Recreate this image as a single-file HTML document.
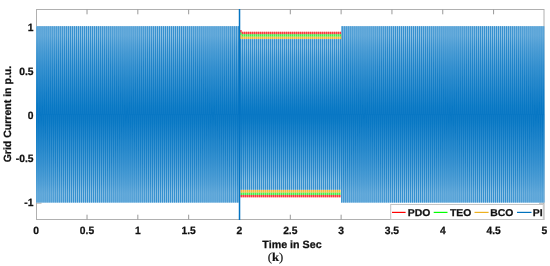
<!DOCTYPE html>
<html><head><meta charset="utf-8"><title>Grid Current</title>
<style>html,body{margin:0;padding:0;background:#fff;overflow:hidden}</style>
</head><body>
<svg width="550" height="266" viewBox="0 0 550 266" style="display:block">
<rect width="550" height="266" fill="#fff"/>
<defs><clipPath id="c"><rect x="36.0" y="9.0" width="508.5" height="211.0"/></clipPath><clipPath id="cl"><rect x="0" y="0" width="239.5" height="266"/></clipPath><clipPath id="cm"><rect x="239.5" y="0" width="101.5" height="266"/></clipPath><clipPath id="cr"><rect x="341.0" y="0" width="209.0" height="266"/></clipPath><linearGradient id="aL" gradientUnits="userSpaceOnUse" x1="0" y1="26.12" x2="0" y2="202.68"><stop offset="0.0000" stop-color="rgb(168,207,234)"/><stop offset="0.0250" stop-color="rgb(168,207,234)"/><stop offset="0.0500" stop-color="rgb(168,207,234)"/><stop offset="0.0750" stop-color="rgb(164,205,233)"/><stop offset="0.1000" stop-color="rgb(160,203,232)"/><stop offset="0.1250" stop-color="rgb(157,201,232)"/><stop offset="0.1500" stop-color="rgb(153,199,231)"/><stop offset="0.1750" stop-color="rgb(150,198,230)"/><stop offset="0.2000" stop-color="rgb(148,196,229)"/><stop offset="0.2250" stop-color="rgb(145,194,229)"/><stop offset="0.2500" stop-color="rgb(142,193,228)"/><stop offset="0.2750" stop-color="rgb(140,192,227)"/><stop offset="0.3000" stop-color="rgb(137,190,227)"/><stop offset="0.3250" stop-color="rgb(135,189,226)"/><stop offset="0.3500" stop-color="rgb(132,188,226)"/><stop offset="0.3750" stop-color="rgb(130,186,225)"/><stop offset="0.4000" stop-color="rgb(128,185,225)"/><stop offset="0.4250" stop-color="rgb(125,184,224)"/><stop offset="0.4500" stop-color="rgb(123,183,223)"/><stop offset="0.4750" stop-color="rgb(123,182,223)"/><stop offset="0.5000" stop-color="rgb(123,182,223)"/><stop offset="0.5250" stop-color="rgb(123,182,223)"/><stop offset="0.5500" stop-color="rgb(123,183,223)"/><stop offset="0.5750" stop-color="rgb(125,184,224)"/><stop offset="0.6000" stop-color="rgb(128,185,225)"/><stop offset="0.6250" stop-color="rgb(130,186,225)"/><stop offset="0.6500" stop-color="rgb(132,188,226)"/><stop offset="0.6750" stop-color="rgb(135,189,226)"/><stop offset="0.7000" stop-color="rgb(137,190,227)"/><stop offset="0.7250" stop-color="rgb(140,192,227)"/><stop offset="0.7500" stop-color="rgb(142,193,228)"/><stop offset="0.7750" stop-color="rgb(145,194,229)"/><stop offset="0.8000" stop-color="rgb(148,196,229)"/><stop offset="0.8250" stop-color="rgb(150,198,230)"/><stop offset="0.8500" stop-color="rgb(153,199,231)"/><stop offset="0.8750" stop-color="rgb(157,201,232)"/><stop offset="0.9000" stop-color="rgb(160,203,232)"/><stop offset="0.9250" stop-color="rgb(164,205,233)"/><stop offset="0.9500" stop-color="rgb(168,207,234)"/><stop offset="0.9750" stop-color="rgb(168,207,234)"/><stop offset="1.0000" stop-color="rgb(168,207,234)"/></linearGradient><linearGradient id="aD" gradientUnits="userSpaceOnUse" x1="0" y1="26.12" x2="0" y2="202.68"><stop offset="0.0000" stop-color="rgb(53,144,207)"/><stop offset="0.0250" stop-color="rgb(53,144,207)"/><stop offset="0.0500" stop-color="rgb(53,144,207)"/><stop offset="0.0750" stop-color="rgb(50,142,206)"/><stop offset="0.1000" stop-color="rgb(46,140,205)"/><stop offset="0.1250" stop-color="rgb(42,138,204)"/><stop offset="0.1500" stop-color="rgb(39,136,203)"/><stop offset="0.1750" stop-color="rgb(36,135,203)"/><stop offset="0.2000" stop-color="rgb(33,133,202)"/><stop offset="0.2250" stop-color="rgb(30,131,201)"/><stop offset="0.2500" stop-color="rgb(27,130,201)"/><stop offset="0.2750" stop-color="rgb(25,129,200)"/><stop offset="0.3000" stop-color="rgb(22,127,199)"/><stop offset="0.3250" stop-color="rgb(20,126,199)"/><stop offset="0.3500" stop-color="rgb(18,125,198)"/><stop offset="0.3750" stop-color="rgb(15,123,198)"/><stop offset="0.4000" stop-color="rgb(13,122,197)"/><stop offset="0.4250" stop-color="rgb(11,121,197)"/><stop offset="0.4500" stop-color="rgb(8,120,196)"/><stop offset="0.4750" stop-color="rgb(8,119,196)"/><stop offset="0.5000" stop-color="rgb(8,119,196)"/><stop offset="0.5250" stop-color="rgb(8,119,196)"/><stop offset="0.5500" stop-color="rgb(8,120,196)"/><stop offset="0.5750" stop-color="rgb(11,121,197)"/><stop offset="0.6000" stop-color="rgb(13,122,197)"/><stop offset="0.6250" stop-color="rgb(15,123,198)"/><stop offset="0.6500" stop-color="rgb(18,125,198)"/><stop offset="0.6750" stop-color="rgb(20,126,199)"/><stop offset="0.7000" stop-color="rgb(22,127,199)"/><stop offset="0.7250" stop-color="rgb(25,129,200)"/><stop offset="0.7500" stop-color="rgb(27,130,201)"/><stop offset="0.7750" stop-color="rgb(30,131,201)"/><stop offset="0.8000" stop-color="rgb(33,133,202)"/><stop offset="0.8250" stop-color="rgb(36,135,203)"/><stop offset="0.8500" stop-color="rgb(39,136,203)"/><stop offset="0.8750" stop-color="rgb(42,138,204)"/><stop offset="0.9000" stop-color="rgb(46,140,205)"/><stop offset="0.9250" stop-color="rgb(50,142,206)"/><stop offset="0.9500" stop-color="rgb(53,144,207)"/><stop offset="0.9750" stop-color="rgb(53,144,207)"/><stop offset="1.0000" stop-color="rgb(53,144,207)"/></linearGradient><linearGradient id="mL" gradientUnits="userSpaceOnUse" x1="0" y1="39.03" x2="0" y2="189.77"><stop offset="0.0000" stop-color="rgb(168,207,234)"/><stop offset="0.0250" stop-color="rgb(168,207,234)"/><stop offset="0.0500" stop-color="rgb(168,207,234)"/><stop offset="0.0750" stop-color="rgb(164,205,233)"/><stop offset="0.1000" stop-color="rgb(160,203,232)"/><stop offset="0.1250" stop-color="rgb(157,201,232)"/><stop offset="0.1500" stop-color="rgb(154,199,231)"/><stop offset="0.1750" stop-color="rgb(150,198,230)"/><stop offset="0.2000" stop-color="rgb(148,196,229)"/><stop offset="0.2250" stop-color="rgb(145,195,229)"/><stop offset="0.2500" stop-color="rgb(142,193,228)"/><stop offset="0.2750" stop-color="rgb(140,192,227)"/><stop offset="0.3000" stop-color="rgb(137,190,227)"/><stop offset="0.3250" stop-color="rgb(135,189,226)"/><stop offset="0.3500" stop-color="rgb(132,188,226)"/><stop offset="0.3750" stop-color="rgb(130,186,225)"/><stop offset="0.4000" stop-color="rgb(128,185,225)"/><stop offset="0.4250" stop-color="rgb(125,184,224)"/><stop offset="0.4500" stop-color="rgb(123,183,223)"/><stop offset="0.4750" stop-color="rgb(123,182,223)"/><stop offset="0.5000" stop-color="rgb(123,182,223)"/><stop offset="0.5250" stop-color="rgb(123,182,223)"/><stop offset="0.5500" stop-color="rgb(123,183,223)"/><stop offset="0.5750" stop-color="rgb(125,184,224)"/><stop offset="0.6000" stop-color="rgb(128,185,225)"/><stop offset="0.6250" stop-color="rgb(130,186,225)"/><stop offset="0.6500" stop-color="rgb(132,188,226)"/><stop offset="0.6750" stop-color="rgb(135,189,226)"/><stop offset="0.7000" stop-color="rgb(137,190,227)"/><stop offset="0.7250" stop-color="rgb(140,192,227)"/><stop offset="0.7500" stop-color="rgb(142,193,228)"/><stop offset="0.7750" stop-color="rgb(145,195,229)"/><stop offset="0.8000" stop-color="rgb(148,196,229)"/><stop offset="0.8250" stop-color="rgb(150,198,230)"/><stop offset="0.8500" stop-color="rgb(154,199,231)"/><stop offset="0.8750" stop-color="rgb(157,201,232)"/><stop offset="0.9000" stop-color="rgb(160,203,232)"/><stop offset="0.9250" stop-color="rgb(164,205,233)"/><stop offset="0.9500" stop-color="rgb(168,207,234)"/><stop offset="0.9750" stop-color="rgb(168,207,234)"/><stop offset="1.0000" stop-color="rgb(168,207,234)"/></linearGradient><linearGradient id="mD" gradientUnits="userSpaceOnUse" x1="0" y1="39.03" x2="0" y2="189.77"><stop offset="0.0000" stop-color="rgb(53,144,207)"/><stop offset="0.0250" stop-color="rgb(53,144,207)"/><stop offset="0.0500" stop-color="rgb(53,144,207)"/><stop offset="0.0750" stop-color="rgb(50,142,206)"/><stop offset="0.1000" stop-color="rgb(46,140,205)"/><stop offset="0.1250" stop-color="rgb(42,138,204)"/><stop offset="0.1500" stop-color="rgb(39,136,203)"/><stop offset="0.1750" stop-color="rgb(36,135,203)"/><stop offset="0.2000" stop-color="rgb(33,133,202)"/><stop offset="0.2250" stop-color="rgb(30,132,201)"/><stop offset="0.2500" stop-color="rgb(27,130,201)"/><stop offset="0.2750" stop-color="rgb(25,129,200)"/><stop offset="0.3000" stop-color="rgb(22,127,199)"/><stop offset="0.3250" stop-color="rgb(20,126,199)"/><stop offset="0.3500" stop-color="rgb(18,125,198)"/><stop offset="0.3750" stop-color="rgb(15,123,198)"/><stop offset="0.4000" stop-color="rgb(13,122,197)"/><stop offset="0.4250" stop-color="rgb(11,121,197)"/><stop offset="0.4500" stop-color="rgb(8,120,196)"/><stop offset="0.4750" stop-color="rgb(8,119,196)"/><stop offset="0.5000" stop-color="rgb(8,119,196)"/><stop offset="0.5250" stop-color="rgb(8,119,196)"/><stop offset="0.5500" stop-color="rgb(8,120,196)"/><stop offset="0.5750" stop-color="rgb(11,121,197)"/><stop offset="0.6000" stop-color="rgb(13,122,197)"/><stop offset="0.6250" stop-color="rgb(15,123,198)"/><stop offset="0.6500" stop-color="rgb(18,125,198)"/><stop offset="0.6750" stop-color="rgb(20,126,199)"/><stop offset="0.7000" stop-color="rgb(22,127,199)"/><stop offset="0.7250" stop-color="rgb(25,129,200)"/><stop offset="0.7500" stop-color="rgb(27,130,201)"/><stop offset="0.7750" stop-color="rgb(30,132,201)"/><stop offset="0.8000" stop-color="rgb(33,133,202)"/><stop offset="0.8250" stop-color="rgb(36,135,203)"/><stop offset="0.8500" stop-color="rgb(39,136,203)"/><stop offset="0.8750" stop-color="rgb(42,138,204)"/><stop offset="0.9000" stop-color="rgb(46,140,205)"/><stop offset="0.9250" stop-color="rgb(50,142,206)"/><stop offset="0.9500" stop-color="rgb(53,144,207)"/><stop offset="0.9750" stop-color="rgb(53,144,207)"/><stop offset="1.0000" stop-color="rgb(53,144,207)"/></linearGradient></defs>
<rect x="36.5" y="9.5" width="507.5" height="210.0" fill="none" stroke="#b0b0b0" stroke-width="1"/>
<path d="M87.02,219.5 v-4.8 M87.02,9.5 v4.8 M137.84,219.5 v-4.8 M137.84,9.5 v4.8 M188.66,219.5 v-4.8 M188.66,9.5 v4.8 M239.48,219.5 v-4.8 M239.48,9.5 v4.8 M290.30,219.5 v-4.8 M290.30,9.5 v4.8 M341.12,219.5 v-4.8 M341.12,9.5 v4.8 M391.94,219.5 v-4.8 M391.94,9.5 v4.8 M442.76,219.5 v-4.8 M442.76,9.5 v4.8 M493.58,219.5 v-4.8 M493.58,9.5 v4.8 M36.5,203.00 h5 M544.0,203.00 h-5 M36.5,159.07 h5 M544.0,159.07 h-5 M36.5,115.15 h5 M544.0,115.15 h-5 M36.5,71.23 h5 M544.0,71.23 h-5 M36.5,27.30 h5 M544.0,27.30 h-5" stroke="#989898" stroke-width="1" fill="none"/>
<g clip-path="url(#c)">
<rect x="35.900000000000006" y="26.12" width="203.60" height="176.56" fill="url(#aL)"/>
<rect x="341.00" y="26.12" width="203.70" height="176.56" fill="url(#aL)"/>
<path clip-path="url(#cl)" d="M33.95,114.40L34.03,133.94L34.10,152.49L34.17,169.14L34.24,183.04L34.31,193.51L34.31,200.00L34.31,202.20L34.50,202.54L34.94,202.68L35.39,202.54L35.57,202.20L35.57,200.00L35.57,193.51L35.64,183.04L35.71,169.14L35.78,152.49L35.86,133.94L35.93,114.40ZM34.96,114.40L35.04,94.86L35.11,76.31L35.18,59.66L35.26,45.76L35.32,35.29L35.32,28.80L35.32,26.60L35.51,26.26L35.95,26.12L36.40,26.26L36.58,26.60L36.58,28.80L36.58,35.29L36.65,45.76L36.72,59.66L36.80,76.31L36.87,94.86L36.94,114.40ZM35.98,114.40L36.05,133.94L36.12,152.49L36.19,169.14L36.27,183.04L36.33,193.51L36.33,200.00L36.33,202.20L36.52,202.54L36.96,202.68L37.41,202.54L37.59,202.20L37.59,200.00L37.59,193.51L37.66,183.04L37.74,169.14L37.81,152.49L37.88,133.94L37.95,114.40ZM36.99,114.40L37.06,94.86L37.13,76.31L37.21,59.66L37.28,45.76L37.35,35.29L37.35,28.80L37.35,26.60L37.53,26.26L37.98,26.12L38.42,26.26L38.61,26.60L38.61,28.80L38.61,35.29L38.67,45.76L38.75,59.66L38.82,76.31L38.89,94.86L38.96,114.40ZM38.00,114.40L38.07,133.94L38.15,152.49L38.22,169.14L38.29,183.04L38.36,193.51L38.36,200.00L38.36,202.20L38.54,202.54L38.99,202.68L39.43,202.54L39.62,202.20L39.62,200.00L39.62,193.51L39.69,183.04L39.76,169.14L39.83,152.49L39.90,133.94L39.98,114.40ZM39.01,114.40L39.08,94.86L39.16,76.31L39.23,59.66L39.30,45.76L39.37,35.29L39.37,28.80L39.37,26.60L39.55,26.26L40.00,26.12L40.45,26.26L40.63,26.60L40.63,28.80L40.63,35.29L40.70,45.76L40.77,59.66L40.84,76.31L40.92,94.86L40.99,114.40ZM40.02,114.40L40.10,133.94L40.17,152.49L40.24,169.14L40.31,183.04L40.38,193.51L40.38,200.00L40.38,202.20L40.57,202.54L41.01,202.68L41.46,202.54L41.64,202.20L41.64,200.00L41.64,193.51L41.71,183.04L41.78,169.14L41.85,152.49L41.93,133.94L42.00,114.40ZM41.04,114.40L41.11,94.86L41.18,76.31L41.25,59.66L41.33,45.76L41.39,35.29L41.39,28.80L41.39,26.60L41.58,26.26L42.02,26.12L42.47,26.26L42.65,26.60L42.65,28.80L42.65,35.29L42.72,45.76L42.79,59.66L42.87,76.31L42.94,94.86L43.01,114.40ZM42.05,114.40L42.12,133.94L42.19,152.49L42.26,169.14L42.34,183.04L42.41,193.51L42.41,200.00L42.41,202.20L42.59,202.54L43.04,202.68L43.48,202.54L43.67,202.20L43.67,200.00L43.67,193.51L43.73,183.04L43.81,169.14L43.88,152.49L43.95,133.94L44.02,114.40ZM43.06,114.40L43.13,94.86L43.20,76.31L43.28,59.66L43.35,45.76L43.42,35.29L43.42,28.80L43.42,26.60L43.60,26.26L44.05,26.12L44.49,26.26L44.68,26.60L44.68,28.80L44.68,35.29L44.74,45.76L44.82,59.66L44.89,76.31L44.96,94.86L45.04,114.40ZM44.07,114.40L44.14,133.94L44.22,152.49L44.29,169.14L44.36,183.04L44.43,193.51L44.43,200.00L44.43,202.20L44.61,202.54L45.06,202.68L45.50,202.54L45.69,202.20L45.69,200.00L45.69,193.51L45.76,183.04L45.83,169.14L45.90,152.49L45.97,133.94L46.05,114.40ZM45.08,114.40L45.15,94.86L45.23,76.31L45.30,59.66L45.37,45.76L45.44,35.29L45.44,28.80L45.44,26.60L45.63,26.26L46.07,26.12L46.52,26.26L46.70,26.60L46.70,28.80L46.70,35.29L46.77,45.76L46.84,59.66L46.91,76.31L46.99,94.86L47.06,114.40ZM46.09,114.40L46.17,133.94L46.24,152.49L46.31,169.14L46.38,183.04L46.45,193.51L46.45,200.00L46.45,202.20L46.64,202.54L47.08,202.68L47.53,202.54L47.71,202.20L47.71,200.00L47.71,193.51L47.78,183.04L47.85,169.14L47.93,152.49L48.00,133.94L48.07,114.40ZM47.11,114.40L47.18,94.86L47.25,76.31L47.32,59.66L47.40,45.76L47.46,35.29L47.46,28.80L47.46,26.60L47.65,26.26L48.09,26.12L48.54,26.26L48.72,26.60L48.72,28.80L48.72,35.29L48.79,45.76L48.86,59.66L48.94,76.31L49.01,94.86L49.08,114.40ZM48.12,114.40L48.19,133.94L48.26,152.49L48.34,169.14L48.41,183.04L48.48,193.51L48.48,200.00L48.48,202.20L48.66,202.54L49.11,202.68L49.55,202.54L49.74,202.20L49.74,200.00L49.74,193.51L49.80,183.04L49.88,169.14L49.95,152.49L50.02,133.94L50.09,114.40ZM49.13,114.40L49.20,94.86L49.27,76.31L49.35,59.66L49.42,45.76L49.49,35.29L49.49,28.80L49.49,26.60L49.67,26.26L50.12,26.12L50.56,26.26L50.75,26.60L50.75,28.80L50.75,35.29L50.82,45.76L50.89,59.66L50.96,76.31L51.03,94.86L51.11,114.40ZM50.14,114.40L50.21,133.94L50.29,152.49L50.36,169.14L50.43,183.04L50.50,193.51L50.50,200.00L50.50,202.20L50.68,202.54L51.13,202.68L51.57,202.54L51.76,202.20L51.76,200.00L51.76,193.51L51.83,183.04L51.90,169.14L51.97,152.49L52.04,133.94L52.12,114.40ZM51.15,114.40L51.23,94.86L51.30,76.31L51.37,59.66L51.44,45.76L51.51,35.29L51.51,28.80L51.51,26.60L51.70,26.26L52.14,26.12L52.59,26.26L52.77,26.60L52.77,28.80L52.77,35.29L52.84,45.76L52.91,59.66L52.98,76.31L53.06,94.86L53.13,114.40ZM52.16,114.40L52.24,133.94L52.31,152.49L52.38,169.14L52.45,183.04L52.52,193.51L52.52,200.00L52.52,202.20L52.71,202.54L53.15,202.68L53.60,202.54L53.78,202.20L53.78,200.00L53.78,193.51L53.85,183.04L53.92,169.14L54.00,152.49L54.07,133.94L54.14,114.40ZM53.18,114.40L53.25,94.86L53.32,76.31L53.39,59.66L53.47,45.76L53.53,35.29L53.53,28.80L53.53,26.60L53.72,26.26L54.16,26.12L54.61,26.26L54.79,26.60L54.79,28.80L54.79,35.29L54.86,45.76L54.93,59.66L55.01,76.31L55.08,94.86L55.15,114.40ZM54.19,114.40L54.26,133.94L54.33,152.49L54.41,169.14L54.48,183.04L54.55,193.51L54.55,200.00L54.55,202.20L54.73,202.54L55.18,202.68L55.62,202.54L55.81,202.20L55.81,200.00L55.81,193.51L55.87,183.04L55.95,169.14L56.02,152.49L56.09,133.94L56.16,114.40ZM55.20,114.40L55.27,94.86L55.34,76.31L55.42,59.66L55.49,45.76L55.56,35.29L55.56,28.80L55.56,26.60L55.74,26.26L56.19,26.12L56.63,26.26L56.82,26.60L56.82,28.80L56.82,35.29L56.89,45.76L56.96,59.66L57.03,76.31L57.10,94.86L57.18,114.40ZM56.21,114.40L56.28,133.94L56.36,152.49L56.43,169.14L56.50,183.04L56.57,193.51L56.57,200.00L56.57,202.20L56.75,202.54L57.20,202.68L57.65,202.54L57.83,202.20L57.83,200.00L57.83,193.51L57.90,183.04L57.97,169.14L58.04,152.49L58.12,133.94L58.19,114.40ZM57.22,114.40L57.30,94.86L57.37,76.31L57.44,59.66L57.51,45.76L57.58,35.29L57.58,28.80L57.58,26.60L57.77,26.26L58.21,26.12L58.66,26.26L58.84,26.60L58.84,28.80L58.84,35.29L58.91,45.76L58.98,59.66L59.05,76.31L59.13,94.86L59.20,114.40ZM58.24,114.40L58.31,133.94L58.38,152.49L58.45,169.14L58.53,183.04L58.59,193.51L58.59,200.00L58.59,202.20L58.78,202.54L59.22,202.68L59.67,202.54L59.85,202.20L59.85,200.00L59.85,193.51L59.92,183.04L59.99,169.14L60.07,152.49L60.14,133.94L60.21,114.40ZM59.25,114.40L59.32,94.86L59.39,76.31L59.46,59.66L59.54,45.76L59.60,35.29L59.60,28.80L59.60,26.60L59.79,26.26L60.23,26.12L60.68,26.26L60.87,26.60L60.87,28.80L60.87,35.29L60.93,45.76L61.01,59.66L61.08,76.31L61.15,94.86L61.22,114.40ZM60.26,114.40L60.33,133.94L60.40,152.49L60.48,169.14L60.55,183.04L60.62,193.51L60.62,200.00L60.62,202.20L60.80,202.54L61.25,202.68L61.69,202.54L61.88,202.20L61.88,200.00L61.88,193.51L61.94,183.04L62.02,169.14L62.09,152.49L62.16,133.94L62.23,114.40ZM61.27,114.40L61.34,94.86L61.42,76.31L61.49,59.66L61.56,45.76L61.63,35.29L61.63,28.80L61.63,26.60L61.81,26.26L62.26,26.12L62.70,26.26L62.89,26.60L62.89,28.80L62.89,35.29L62.96,45.76L63.03,59.66L63.10,76.31L63.17,94.86L63.25,114.40ZM62.28,114.40L62.35,133.94L62.43,152.49L62.50,169.14L62.57,183.04L62.64,193.51L62.64,200.00L62.64,202.20L62.82,202.54L63.27,202.68L63.72,202.54L63.90,202.20L63.90,200.00L63.90,193.51L63.97,183.04L64.04,169.14L64.11,152.49L64.19,133.94L64.26,114.40ZM63.29,114.40L63.37,94.86L63.44,76.31L63.51,59.66L63.58,45.76L63.65,35.29L63.65,28.80L63.65,26.60L63.84,26.26L64.28,26.12L64.73,26.26L64.91,26.60L64.91,28.80L64.91,35.29L64.98,45.76L65.05,59.66L65.12,76.31L65.20,94.86L65.27,114.40ZM64.31,114.40L64.38,133.94L64.45,152.49L64.52,169.14L64.60,183.04L64.66,193.51L64.66,200.00L64.66,202.20L64.85,202.54L65.29,202.68L65.74,202.54L65.92,202.20L65.92,200.00L65.92,193.51L65.99,183.04L66.06,169.14L66.14,152.49L66.21,133.94L66.28,114.40ZM65.32,114.40L65.39,94.86L65.46,76.31L65.54,59.66L65.61,45.76L65.68,35.29L65.68,28.80L65.68,26.60L65.86,26.26L66.31,26.12L66.75,26.26L66.94,26.60L66.94,28.80L66.94,35.29L67.00,45.76L67.08,59.66L67.15,76.31L67.22,94.86L67.29,114.40ZM66.33,114.40L66.40,133.94L66.47,152.49L66.55,169.14L66.62,183.04L66.69,193.51L66.69,200.00L66.69,202.20L66.87,202.54L67.32,202.68L67.76,202.54L67.95,202.20L67.95,200.00L67.95,193.51L68.02,183.04L68.09,169.14L68.16,152.49L68.23,133.94L68.31,114.40ZM67.34,114.40L67.41,94.86L67.49,76.31L67.56,59.66L67.63,45.76L67.70,35.29L67.70,28.80L67.70,26.60L67.88,26.26L68.33,26.12L68.77,26.26L68.96,26.60L68.96,28.80L68.96,35.29L69.03,45.76L69.10,59.66L69.17,76.31L69.24,94.86L69.32,114.40ZM68.35,114.40L68.43,133.94L68.50,152.49L68.57,169.14L68.64,183.04L68.71,193.51L68.71,200.00L68.71,202.20L68.90,202.54L69.34,202.68L69.79,202.54L69.97,202.20L69.97,200.00L69.97,193.51L70.04,183.04L70.11,169.14L70.18,152.49L70.26,133.94L70.33,114.40ZM69.36,114.40L69.44,94.86L69.51,76.31L69.58,59.66L69.65,45.76L69.72,35.29L69.72,28.80L69.72,26.60L69.91,26.26L70.35,26.12L70.80,26.26L70.98,26.60L70.98,28.80L70.98,35.29L71.05,45.76L71.12,59.66L71.20,76.31L71.27,94.86L71.34,114.40ZM70.38,114.40L70.45,133.94L70.52,152.49L70.59,169.14L70.67,183.04L70.73,193.51L70.73,200.00L70.73,202.20L70.92,202.54L71.36,202.68L71.81,202.54L71.99,202.20L71.99,200.00L71.99,193.51L72.06,183.04L72.13,169.14L72.21,152.49L72.28,133.94L72.35,114.40ZM71.39,114.40L71.46,94.86L71.53,76.31L71.61,59.66L71.68,45.76L71.75,35.29L71.75,28.80L71.75,26.60L71.93,26.26L72.38,26.12L72.82,26.26L73.01,26.60L73.01,28.80L73.01,35.29L73.07,45.76L73.15,59.66L73.22,76.31L73.29,94.86L73.36,114.40ZM72.40,114.40L72.47,133.94L72.54,152.49L72.62,169.14L72.69,183.04L72.76,193.51L72.76,200.00L72.76,202.20L72.94,202.54L73.39,202.68L73.83,202.54L74.02,202.20L74.02,200.00L74.02,193.51L74.09,183.04L74.16,169.14L74.23,152.49L74.30,133.94L74.38,114.40ZM73.41,114.40L73.48,94.86L73.56,76.31L73.63,59.66L73.70,45.76L73.77,35.29L73.77,28.80L73.77,26.60L73.95,26.26L74.40,26.12L74.84,26.26L75.03,26.60L75.03,28.80L75.03,35.29L75.10,45.76L75.17,59.66L75.24,76.31L75.32,94.86L75.39,114.40ZM74.42,114.40L74.50,133.94L74.57,152.49L74.64,169.14L74.71,183.04L74.78,193.51L74.78,200.00L74.78,202.20L74.97,202.54L75.41,202.68L75.86,202.54L76.04,202.20L76.04,200.00L76.04,193.51L76.11,183.04L76.18,169.14L76.25,152.49L76.33,133.94L76.40,114.40ZM75.43,114.40L75.51,94.86L75.58,76.31L75.65,59.66L75.73,45.76L75.79,35.29L75.79,28.80L75.79,26.60L75.98,26.26L76.42,26.12L76.87,26.26L77.05,26.60L77.05,28.80L77.05,35.29L77.12,45.76L77.19,59.66L77.27,76.31L77.34,94.86L77.41,114.40ZM76.45,114.40L76.52,133.94L76.59,152.49L76.66,169.14L76.74,183.04L76.80,193.51L76.80,200.00L76.80,202.20L76.99,202.54L77.43,202.68L77.88,202.54L78.06,202.20L78.06,200.00L78.06,193.51L78.13,183.04L78.21,169.14L78.28,152.49L78.35,133.94L78.42,114.40ZM77.46,114.40L77.53,94.86L77.60,76.31L77.68,59.66L77.75,45.76L77.82,35.29L77.82,28.80L77.82,26.60L78.00,26.26L78.45,26.12L78.89,26.26L79.08,26.60L79.08,28.80L79.08,35.29L79.14,45.76L79.22,59.66L79.29,76.31L79.36,94.86L79.43,114.40ZM78.47,114.40L78.54,133.94L78.62,152.49L78.69,169.14L78.76,183.04L78.83,193.51L78.83,200.00L78.83,202.20L79.01,202.54L79.46,202.68L79.90,202.54L80.09,202.20L80.09,200.00L80.09,193.51L80.16,183.04L80.23,169.14L80.30,152.49L80.37,133.94L80.45,114.40ZM79.48,114.40L79.55,94.86L79.63,76.31L79.70,59.66L79.77,45.76L79.84,35.29L79.84,28.80L79.84,26.60L80.02,26.26L80.47,26.12L80.92,26.26L81.10,26.60L81.10,28.80L81.10,35.29L81.17,45.76L81.24,59.66L81.31,76.31L81.39,94.86L81.46,114.40ZM80.49,114.40L80.57,133.94L80.64,152.49L80.71,169.14L80.78,183.04L80.85,193.51L80.85,200.00L80.85,202.20L81.04,202.54L81.48,202.68L81.93,202.54L82.11,202.20L82.11,200.00L82.11,193.51L82.18,183.04L82.25,169.14L82.32,152.49L82.40,133.94L82.47,114.40ZM81.51,114.40L81.58,94.86L81.65,76.31L81.72,59.66L81.80,45.76L81.86,35.29L81.86,28.80L81.86,26.60L82.05,26.26L82.49,26.12L82.94,26.26L83.12,26.60L83.12,28.80L83.12,35.29L83.19,45.76L83.26,59.66L83.34,76.31L83.41,94.86L83.48,114.40ZM82.52,114.40L82.59,133.94L82.66,152.49L82.73,169.14L82.81,183.04L82.88,193.51L82.88,200.00L82.88,202.20L83.06,202.54L83.51,202.68L83.95,202.54L84.14,202.20L84.14,200.00L84.14,193.51L84.20,183.04L84.28,169.14L84.35,152.49L84.42,133.94L84.49,114.40ZM83.53,114.40L83.60,94.86L83.67,76.31L83.75,59.66L83.82,45.76L83.89,35.29L83.89,28.80L83.89,26.60L84.07,26.26L84.52,26.12L84.96,26.26L85.15,26.60L85.15,28.80L85.15,35.29L85.21,45.76L85.29,59.66L85.36,76.31L85.43,94.86L85.51,114.40ZM84.54,114.40L84.61,133.94L84.69,152.49L84.76,169.14L84.83,183.04L84.90,193.51L84.90,200.00L84.90,202.20L85.08,202.54L85.53,202.68L85.97,202.54L86.16,202.20L86.16,200.00L86.16,193.51L86.23,183.04L86.30,169.14L86.37,152.49L86.44,133.94L86.52,114.40ZM85.55,114.40L85.62,94.86L85.70,76.31L85.77,59.66L85.84,45.76L85.91,35.29L85.91,28.80L85.91,26.60L86.10,26.26L86.54,26.12L86.99,26.26L87.17,26.60L87.17,28.80L87.17,35.29L87.24,45.76L87.31,59.66L87.38,76.31L87.46,94.86L87.53,114.40ZM86.56,114.40L86.64,133.94L86.71,152.49L86.78,169.14L86.85,183.04L86.92,193.51L86.92,200.00L86.92,202.20L87.11,202.54L87.55,202.68L88.00,202.54L88.18,202.20L88.18,200.00L88.18,193.51L88.25,183.04L88.32,169.14L88.40,152.49L88.47,133.94L88.54,114.40ZM87.58,114.40L87.65,94.86L87.72,76.31L87.79,59.66L87.87,45.76L87.93,35.29L87.93,28.80L87.93,26.60L88.12,26.26L88.56,26.12L89.01,26.26L89.19,26.60L89.19,28.80L89.19,35.29L89.26,45.76L89.33,59.66L89.41,76.31L89.48,94.86L89.55,114.40ZM88.59,114.40L88.66,133.94L88.73,152.49L88.81,169.14L88.88,183.04L88.95,193.51L88.95,200.00L88.95,202.20L89.13,202.54L89.58,202.68L90.02,202.54L90.21,202.20L90.21,200.00L90.21,193.51L90.27,183.04L90.35,169.14L90.42,152.49L90.49,133.94L90.56,114.40ZM89.60,114.40L89.67,94.86L89.74,76.31L89.82,59.66L89.89,45.76L89.96,35.29L89.96,28.80L89.96,26.60L90.14,26.26L90.59,26.12L91.03,26.26L91.22,26.60L91.22,28.80L91.22,35.29L91.29,45.76L91.36,59.66L91.43,76.31L91.50,94.86L91.58,114.40ZM90.61,114.40L90.68,133.94L90.76,152.49L90.83,169.14L90.90,183.04L90.97,193.51L90.97,200.00L90.97,202.20L91.15,202.54L91.60,202.68L92.04,202.54L92.23,202.20L92.23,200.00L92.23,193.51L92.30,183.04L92.37,169.14L92.44,152.49L92.51,133.94L92.59,114.40ZM91.62,114.40L91.70,94.86L91.77,76.31L91.84,59.66L91.91,45.76L91.98,35.29L91.98,28.80L91.98,26.60L92.17,26.26L92.61,26.12L93.06,26.26L93.24,26.60L93.24,28.80L93.24,35.29L93.31,45.76L93.38,59.66L93.45,76.31L93.53,94.86L93.60,114.40ZM92.63,114.40L92.71,133.94L92.78,152.49L92.85,169.14L92.92,183.04L92.99,193.51L92.99,200.00L92.99,202.20L93.18,202.54L93.62,202.68L94.07,202.54L94.25,202.20L94.25,200.00L94.25,193.51L94.32,183.04L94.39,169.14L94.47,152.49L94.54,133.94L94.61,114.40ZM93.65,114.40L93.72,94.86L93.79,76.31L93.86,59.66L93.94,45.76L94.00,35.29L94.00,28.80L94.00,26.60L94.19,26.26L94.63,26.12L95.08,26.26L95.26,26.60L95.26,28.80L95.26,35.29L95.33,45.76L95.40,59.66L95.48,76.31L95.55,94.86L95.62,114.40ZM94.66,114.40L94.73,133.94L94.80,152.49L94.88,169.14L94.95,183.04L95.02,193.51L95.02,200.00L95.02,202.20L95.20,202.54L95.65,202.68L96.09,202.54L96.28,202.20L96.28,200.00L96.28,193.51L96.34,183.04L96.42,169.14L96.49,152.49L96.56,133.94L96.63,114.40ZM95.67,114.40L95.74,94.86L95.81,76.31L95.89,59.66L95.96,45.76L96.03,35.29L96.03,28.80L96.03,26.60L96.21,26.26L96.66,26.12L97.10,26.26L97.29,26.60L97.29,28.80L97.29,35.29L97.36,45.76L97.43,59.66L97.50,76.31L97.57,94.86L97.65,114.40ZM96.68,114.40L96.75,133.94L96.83,152.49L96.90,169.14L96.97,183.04L97.04,193.51L97.04,200.00L97.04,202.20L97.22,202.54L97.67,202.68L98.12,202.54L98.30,202.20L98.30,200.00L98.30,193.51L98.37,183.04L98.44,169.14L98.51,152.49L98.59,133.94L98.66,114.40ZM97.69,114.40L97.77,94.86L97.84,76.31L97.91,59.66L97.98,45.76L98.05,35.29L98.05,28.80L98.05,26.60L98.24,26.26L98.68,26.12L99.13,26.26L99.31,26.60L99.31,28.80L99.31,35.29L99.38,45.76L99.45,59.66L99.52,76.31L99.60,94.86L99.67,114.40ZM98.71,114.40L98.78,133.94L98.85,152.49L98.92,169.14L99.00,183.04L99.06,193.51L99.06,200.00L99.06,202.20L99.25,202.54L99.69,202.68L100.14,202.54L100.32,202.20L100.32,200.00L100.32,193.51L100.39,183.04L100.46,169.14L100.54,152.49L100.61,133.94L100.68,114.40ZM99.72,114.40L99.79,94.86L99.86,76.31L99.93,59.66L100.01,45.76L100.08,35.29L100.08,28.80L100.08,26.60L100.26,26.26L100.70,26.12L101.15,26.26L101.33,26.60L101.33,28.80L101.33,35.29L101.40,45.76L101.48,59.66L101.55,76.31L101.62,94.86L101.69,114.40ZM100.73,114.40L100.80,133.94L100.87,152.49L100.95,169.14L101.02,183.04L101.09,193.51L101.09,200.00L101.09,202.20L101.27,202.54L101.72,202.68L102.16,202.54L102.35,202.20L102.35,200.00L102.35,193.51L102.41,183.04L102.49,169.14L102.56,152.49L102.63,133.94L102.70,114.40ZM101.74,114.40L101.81,94.86L101.89,76.31L101.96,59.66L102.03,45.76L102.10,35.29L102.10,28.80L102.10,26.60L102.28,26.26L102.73,26.12L103.17,26.26L103.36,26.60L103.36,28.80L103.36,35.29L103.43,45.76L103.50,59.66L103.57,76.31L103.64,94.86L103.72,114.40ZM102.75,114.40L102.82,133.94L102.90,152.49L102.97,169.14L103.04,183.04L103.11,193.51L103.11,200.00L103.11,202.20L103.29,202.54L103.74,202.68L104.19,202.54L104.37,202.20L104.37,200.00L104.37,193.51L104.44,183.04L104.51,169.14L104.58,152.49L104.66,133.94L104.73,114.40ZM103.76,114.40L103.84,94.86L103.91,76.31L103.98,59.66L104.05,45.76L104.12,35.29L104.12,28.80L104.12,26.60L104.31,26.26L104.75,26.12L105.20,26.26L105.38,26.60L105.38,28.80L105.38,35.29L105.45,45.76L105.52,59.66L105.59,76.31L105.67,94.86L105.74,114.40ZM104.78,114.40L104.85,133.94L104.92,152.49L104.99,169.14L105.07,183.04L105.13,193.51L105.13,200.00L105.13,202.20L105.32,202.54L105.76,202.68L106.21,202.54L106.39,202.20L106.39,200.00L106.39,193.51L106.46,183.04L106.53,169.14L106.61,152.49L106.68,133.94L106.75,114.40ZM105.79,114.40L105.86,94.86L105.93,76.31L106.01,59.66L106.08,45.76L106.15,35.29L106.15,28.80L106.15,26.60L106.33,26.26L106.78,26.12L107.22,26.26L107.41,26.60L107.41,28.80L107.41,35.29L107.47,45.76L107.55,59.66L107.62,76.31L107.69,94.86L107.76,114.40ZM106.80,114.40L106.87,133.94L106.94,152.49L107.02,169.14L107.09,183.04L107.16,193.51L107.16,200.00L107.16,202.20L107.34,202.54L107.79,202.68L108.23,202.54L108.42,202.20L108.42,200.00L108.42,193.51L108.49,183.04L108.56,169.14L108.63,152.49L108.70,133.94L108.78,114.40ZM107.81,114.40L107.88,94.86L107.96,76.31L108.03,59.66L108.10,45.76L108.17,35.29L108.17,28.80L108.17,26.60L108.35,26.26L108.80,26.12L109.24,26.26L109.43,26.60L109.43,28.80L109.43,35.29L109.50,45.76L109.57,59.66L109.64,76.31L109.71,94.86L109.79,114.40ZM108.82,114.40L108.90,133.94L108.97,152.49L109.04,169.14L109.11,183.04L109.18,193.51L109.18,200.00L109.18,202.20L109.37,202.54L109.81,202.68L110.26,202.54L110.44,202.20L110.44,200.00L110.44,193.51L110.51,183.04L110.58,169.14L110.65,152.49L110.73,133.94L110.80,114.40ZM109.83,114.40L109.91,94.86L109.98,76.31L110.05,59.66L110.12,45.76L110.19,35.29L110.19,28.80L110.19,26.60L110.38,26.26L110.82,26.12L111.27,26.26L111.45,26.60L111.45,28.80L111.45,35.29L111.52,45.76L111.59,59.66L111.67,76.31L111.74,94.86L111.81,114.40ZM110.85,114.40L110.92,133.94L110.99,152.49L111.06,169.14L111.14,183.04L111.20,193.51L111.20,200.00L111.20,202.20L111.39,202.54L111.83,202.68L112.28,202.54L112.46,202.20L112.46,200.00L112.46,193.51L112.53,183.04L112.60,169.14L112.68,152.49L112.75,133.94L112.82,114.40ZM111.86,114.40L111.93,94.86L112.00,76.31L112.08,59.66L112.15,45.76L112.22,35.29L112.22,28.80L112.22,26.60L112.40,26.26L112.85,26.12L113.29,26.26L113.48,26.60L113.48,28.80L113.48,35.29L113.54,45.76L113.62,59.66L113.69,76.31L113.76,94.86L113.83,114.40ZM112.87,114.40L112.94,133.94L113.01,152.49L113.09,169.14L113.16,183.04L113.23,193.51L113.23,200.00L113.23,202.20L113.41,202.54L113.86,202.68L114.30,202.54L114.49,202.20L114.49,200.00L114.49,193.51L114.56,183.04L114.63,169.14L114.70,152.49L114.77,133.94L114.85,114.40ZM113.88,114.40L113.95,94.86L114.03,76.31L114.10,59.66L114.17,45.76L114.24,35.29L114.24,28.80L114.24,26.60L114.42,26.26L114.87,26.12L115.31,26.26L115.50,26.60L115.50,28.80L115.50,35.29L115.57,45.76L115.64,59.66L115.71,76.31L115.79,94.86L115.86,114.40ZM114.89,114.40L114.97,133.94L115.04,152.49L115.11,169.14L115.18,183.04L115.25,193.51L115.25,200.00L115.25,202.20L115.44,202.54L115.88,202.68L116.33,202.54L116.51,202.20L116.51,200.00L116.51,193.51L116.58,183.04L116.65,169.14L116.72,152.49L116.80,133.94L116.87,114.40ZM115.90,114.40L115.98,94.86L116.05,76.31L116.12,59.66L116.20,45.76L116.26,35.29L116.26,28.80L116.26,26.60L116.45,26.26L116.89,26.12L117.34,26.26L117.52,26.60L117.52,28.80L117.52,35.29L117.59,45.76L117.66,59.66L117.74,76.31L117.81,94.86L117.88,114.40ZM116.92,114.40L116.99,133.94L117.06,152.49L117.13,169.14L117.21,183.04L117.27,193.51L117.27,200.00L117.27,202.20L117.46,202.54L117.90,202.68L118.35,202.54L118.53,202.20L118.53,200.00L118.53,193.51L118.60,183.04L118.68,169.14L118.75,152.49L118.82,133.94L118.89,114.40ZM117.93,114.40L118.00,94.86L118.07,76.31L118.15,59.66L118.22,45.76L118.29,35.29L118.29,28.80L118.29,26.60L118.47,26.26L118.92,26.12L119.36,26.26L119.55,26.60L119.55,28.80L119.55,35.29L119.61,45.76L119.69,59.66L119.76,76.31L119.83,94.86L119.90,114.40ZM118.94,114.40L119.01,133.94L119.09,152.49L119.16,169.14L119.23,183.04L119.30,193.51L119.30,200.00L119.30,202.20L119.48,202.54L119.93,202.68L120.37,202.54L120.56,202.20L120.56,200.00L120.56,193.51L120.63,183.04L120.70,169.14L120.77,152.49L120.84,133.94L120.92,114.40ZM119.95,114.40L120.02,94.86L120.10,76.31L120.17,59.66L120.24,45.76L120.31,35.29L120.31,28.80L120.31,26.60L120.49,26.26L120.94,26.12L121.39,26.26L121.57,26.60L121.57,28.80L121.57,35.29L121.64,45.76L121.71,59.66L121.78,76.31L121.86,94.86L121.93,114.40ZM120.96,114.40L121.04,133.94L121.11,152.49L121.18,169.14L121.25,183.04L121.32,193.51L121.32,200.00L121.32,202.20L121.51,202.54L121.95,202.68L122.40,202.54L122.58,202.20L122.58,200.00L122.58,193.51L122.65,183.04L122.72,169.14L122.79,152.49L122.87,133.94L122.94,114.40ZM121.98,114.40L122.05,94.86L122.12,76.31L122.19,59.66L122.27,45.76L122.33,35.29L122.33,28.80L122.33,26.60L122.52,26.26L122.96,26.12L123.41,26.26L123.59,26.60L123.59,28.80L123.59,35.29L123.66,45.76L123.73,59.66L123.81,76.31L123.88,94.86L123.95,114.40ZM122.99,114.40L123.06,133.94L123.13,152.49L123.20,169.14L123.28,183.04L123.35,193.51L123.35,200.00L123.35,202.20L123.53,202.54L123.98,202.68L124.42,202.54L124.61,202.20L124.61,200.00L124.61,193.51L124.67,183.04L124.75,169.14L124.82,152.49L124.89,133.94L124.96,114.40ZM124.00,114.40L124.07,94.86L124.14,76.31L124.22,59.66L124.29,45.76L124.36,35.29L124.36,28.80L124.36,26.60L124.54,26.26L124.99,26.12L125.43,26.26L125.62,26.60L125.62,28.80L125.62,35.29L125.68,45.76L125.76,59.66L125.83,76.31L125.90,94.86L125.98,114.40ZM125.01,114.40L125.08,133.94L125.16,152.49L125.23,169.14L125.30,183.04L125.37,193.51L125.37,200.00L125.37,202.20L125.55,202.54L126.00,202.68L126.44,202.54L126.63,202.20L126.63,200.00L126.63,193.51L126.70,183.04L126.77,169.14L126.84,152.49L126.91,133.94L126.99,114.40ZM126.02,114.40L126.09,94.86L126.17,76.31L126.24,59.66L126.31,45.76L126.38,35.29L126.38,28.80L126.38,26.60L126.57,26.26L127.01,26.12L127.46,26.26L127.64,26.60L127.64,28.80L127.64,35.29L127.71,45.76L127.78,59.66L127.85,76.31L127.93,94.86L128.00,114.40ZM127.03,114.40L127.11,133.94L127.18,152.49L127.25,169.14L127.32,183.04L127.39,193.51L127.39,200.00L127.39,202.20L127.58,202.54L128.02,202.68L128.47,202.54L128.65,202.20L128.65,200.00L128.65,193.51L128.72,183.04L128.79,169.14L128.87,152.49L128.94,133.94L129.01,114.40ZM128.05,114.40L128.12,94.86L128.19,76.31L128.26,59.66L128.34,45.76L128.40,35.29L128.40,28.80L128.40,26.60L128.59,26.26L129.03,26.12L129.48,26.26L129.66,26.60L129.66,28.80L129.66,35.29L129.73,45.76L129.80,59.66L129.88,76.31L129.95,94.86L130.02,114.40ZM129.06,114.40L129.13,133.94L129.20,152.49L129.28,169.14L129.35,183.04L129.42,193.51L129.42,200.00L129.42,202.20L129.60,202.54L130.05,202.68L130.49,202.54L130.68,202.20L130.68,200.00L130.68,193.51L130.74,183.04L130.82,169.14L130.89,152.49L130.96,133.94L131.03,114.40ZM130.07,114.40L130.14,94.86L130.21,76.31L130.29,59.66L130.36,45.76L130.43,35.29L130.43,28.80L130.43,26.60L130.61,26.26L131.06,26.12L131.50,26.26L131.69,26.60L131.69,28.80L131.69,35.29L131.76,45.76L131.83,59.66L131.90,76.31L131.97,94.86L132.05,114.40ZM131.08,114.40L131.15,133.94L131.23,152.49L131.30,169.14L131.37,183.04L131.44,193.51L131.44,200.00L131.44,202.20L131.62,202.54L132.07,202.68L132.51,202.54L132.70,202.20L132.70,200.00L132.70,193.51L132.77,183.04L132.84,169.14L132.91,152.49L132.98,133.94L133.06,114.40ZM132.09,114.40L132.17,94.86L132.24,76.31L132.31,59.66L132.38,45.76L132.45,35.29L132.45,28.80L132.45,26.60L132.64,26.26L133.08,26.12L133.53,26.26L133.71,26.60L133.71,28.80L133.71,35.29L133.78,45.76L133.85,59.66L133.92,76.31L134.00,94.86L134.07,114.40ZM133.10,114.40L133.18,133.94L133.25,152.49L133.32,169.14L133.39,183.04L133.46,193.51L133.46,200.00L133.46,202.20L133.65,202.54L134.09,202.68L134.54,202.54L134.72,202.20L134.72,200.00L134.72,193.51L134.79,183.04L134.86,169.14L134.94,152.49L135.01,133.94L135.08,114.40ZM134.12,114.40L134.19,94.86L134.26,76.31L134.33,59.66L134.41,45.76L134.47,35.29L134.47,28.80L134.47,26.60L134.66,26.26L135.10,26.12L135.55,26.26L135.73,26.60L135.73,28.80L135.73,35.29L135.80,45.76L135.87,59.66L135.95,76.31L136.02,94.86L136.09,114.40ZM135.13,114.40L135.20,133.94L135.27,152.49L135.35,169.14L135.42,183.04L135.49,193.51L135.49,200.00L135.49,202.20L135.67,202.54L136.12,202.68L136.56,202.54L136.75,202.20L136.75,200.00L136.75,193.51L136.81,183.04L136.89,169.14L136.96,152.49L137.03,133.94L137.10,114.40ZM136.14,114.40L136.21,94.86L136.28,76.31L136.36,59.66L136.43,45.76L136.50,35.29L136.50,28.80L136.50,26.60L136.68,26.26L137.13,26.12L137.57,26.26L137.76,26.60L137.76,28.80L137.76,35.29L137.83,45.76L137.90,59.66L137.97,76.31L138.04,94.86L138.12,114.40ZM137.15,114.40L137.22,133.94L137.30,152.49L137.37,169.14L137.44,183.04L137.51,193.51L137.51,200.00L137.51,202.20L137.69,202.54L138.14,202.68L138.59,202.54L138.77,202.20L138.77,200.00L138.77,193.51L138.84,183.04L138.91,169.14L138.98,152.49L139.06,133.94L139.13,114.40ZM138.16,114.40L138.24,94.86L138.31,76.31L138.38,59.66L138.45,45.76L138.52,35.29L138.52,28.80L138.52,26.60L138.71,26.26L139.15,26.12L139.60,26.26L139.78,26.60L139.78,28.80L139.78,35.29L139.85,45.76L139.92,59.66L139.99,76.31L140.07,94.86L140.14,114.40ZM139.18,114.40L139.25,133.94L139.32,152.49L139.39,169.14L139.47,183.04L139.53,193.51L139.53,200.00L139.53,202.20L139.72,202.54L140.16,202.68L140.61,202.54L140.79,202.20L140.79,200.00L140.79,193.51L140.86,183.04L140.93,169.14L141.01,152.49L141.08,133.94L141.15,114.40ZM140.19,114.40L140.26,94.86L140.33,76.31L140.40,59.66L140.48,45.76L140.55,35.29L140.55,28.80L140.55,26.60L140.73,26.26L141.18,26.12L141.62,26.26L141.81,26.60L141.81,28.80L141.81,35.29L141.87,45.76L141.95,59.66L142.02,76.31L142.09,94.86L142.16,114.40ZM141.20,114.40L141.27,133.94L141.34,152.49L141.42,169.14L141.49,183.04L141.56,193.51L141.56,200.00L141.56,202.20L141.74,202.54L142.19,202.68L142.63,202.54L142.82,202.20L142.82,200.00L142.82,193.51L142.88,183.04L142.96,169.14L143.03,152.49L143.10,133.94L143.17,114.40ZM142.21,114.40L142.28,94.86L142.36,76.31L142.43,59.66L142.50,45.76L142.57,35.29L142.57,28.80L142.57,26.60L142.75,26.26L143.20,26.12L143.64,26.26L143.83,26.60L143.83,28.80L143.83,35.29L143.90,45.76L143.97,59.66L144.04,76.31L144.11,94.86L144.19,114.40ZM143.22,114.40L143.29,133.94L143.37,152.49L143.44,169.14L143.51,183.04L143.58,193.51L143.58,200.00L143.58,202.20L143.76,202.54L144.21,202.68L144.66,202.54L144.84,202.20L144.84,200.00L144.84,193.51L144.91,183.04L144.98,169.14L145.05,152.49L145.13,133.94L145.20,114.40ZM144.23,114.40L144.31,94.86L144.38,76.31L144.45,59.66L144.52,45.76L144.59,35.29L144.59,28.80L144.59,26.60L144.78,26.26L145.22,26.12L145.67,26.26L145.85,26.60L145.85,28.80L145.85,35.29L145.92,45.76L145.99,59.66L146.06,76.31L146.14,94.86L146.21,114.40ZM145.25,114.40L145.32,133.94L145.39,152.49L145.46,169.14L145.54,183.04L145.60,193.51L145.60,200.00L145.60,202.20L145.79,202.54L146.23,202.68L146.68,202.54L146.86,202.20L146.86,200.00L146.86,193.51L146.93,183.04L147.00,169.14L147.08,152.49L147.15,133.94L147.22,114.40ZM146.26,114.40L146.33,94.86L146.40,76.31L146.48,59.66L146.55,45.76L146.62,35.29L146.62,28.80L146.62,26.60L146.80,26.26L147.25,26.12L147.69,26.26L147.88,26.60L147.88,28.80L147.88,35.29L147.94,45.76L148.02,59.66L148.09,76.31L148.16,94.86L148.23,114.40ZM147.27,114.40L147.34,133.94L147.41,152.49L147.49,169.14L147.56,183.04L147.63,193.51L147.63,200.00L147.63,202.20L147.81,202.54L148.26,202.68L148.70,202.54L148.89,202.20L148.89,200.00L148.89,193.51L148.96,183.04L149.03,169.14L149.10,152.49L149.17,133.94L149.25,114.40ZM148.28,114.40L148.35,94.86L148.43,76.31L148.50,59.66L148.57,45.76L148.64,35.29L148.64,28.80L148.64,26.60L148.82,26.26L149.27,26.12L149.71,26.26L149.90,26.60L149.90,28.80L149.90,35.29L149.97,45.76L150.04,59.66L150.11,76.31L150.18,94.86L150.26,114.40ZM149.29,114.40L149.37,133.94L149.44,152.49L149.51,169.14L149.58,183.04L149.65,193.51L149.65,200.00L149.65,202.20L149.84,202.54L150.28,202.68L150.73,202.54L150.91,202.20L150.91,200.00L150.91,193.51L150.98,183.04L151.05,169.14L151.12,152.49L151.20,133.94L151.27,114.40ZM150.30,114.40L150.38,94.86L150.45,76.31L150.52,59.66L150.59,45.76L150.66,35.29L150.66,28.80L150.66,26.60L150.85,26.26L151.29,26.12L151.74,26.26L151.92,26.60L151.92,28.80L151.92,35.29L151.99,45.76L152.06,59.66L152.14,76.31L152.21,94.86L152.28,114.40ZM151.32,114.40L151.39,133.94L151.46,152.49L151.53,169.14L151.61,183.04L151.67,193.51L151.67,200.00L151.67,202.20L151.86,202.54L152.30,202.68L152.75,202.54L152.93,202.20L152.93,200.00L152.93,193.51L153.00,183.04L153.07,169.14L153.15,152.49L153.22,133.94L153.29,114.40ZM152.33,114.40L152.40,94.86L152.47,76.31L152.55,59.66L152.62,45.76L152.69,35.29L152.69,28.80L152.69,26.60L152.87,26.26L153.32,26.12L153.76,26.26L153.95,26.60L153.95,28.80L153.95,35.29L154.01,45.76L154.09,59.66L154.16,76.31L154.23,94.86L154.30,114.40ZM153.34,114.40L153.41,133.94L153.48,152.49L153.56,169.14L153.63,183.04L153.70,193.51L153.70,200.00L153.70,202.20L153.88,202.54L154.33,202.68L154.77,202.54L154.96,202.20L154.96,200.00L154.96,193.51L155.03,183.04L155.10,169.14L155.17,152.49L155.24,133.94L155.32,114.40ZM154.35,114.40L154.42,94.86L154.50,76.31L154.57,59.66L154.64,45.76L154.71,35.29L154.71,28.80L154.71,26.60L154.89,26.26L155.34,26.12L155.78,26.26L155.97,26.60L155.97,28.80L155.97,35.29L156.04,45.76L156.11,59.66L156.18,76.31L156.26,94.86L156.33,114.40ZM155.36,114.40L155.44,133.94L155.51,152.49L155.58,169.14L155.65,183.04L155.72,193.51L155.72,200.00L155.72,202.20L155.91,202.54L156.35,202.68L156.80,202.54L156.98,202.20L156.98,200.00L156.98,193.51L157.05,183.04L157.12,169.14L157.19,152.49L157.27,133.94L157.34,114.40ZM156.37,114.40L156.45,94.86L156.52,76.31L156.59,59.66L156.67,45.76L156.73,35.29L156.73,28.80L156.73,26.60L156.92,26.26L157.36,26.12L157.81,26.26L157.99,26.60L157.99,28.80L157.99,35.29L158.06,45.76L158.13,59.66L158.21,76.31L158.28,94.86L158.35,114.40ZM157.39,114.40L157.46,133.94L157.53,152.49L157.60,169.14L157.68,183.04L157.74,193.51L157.74,200.00L157.74,202.20L157.93,202.54L158.37,202.68L158.82,202.54L159.00,202.20L159.00,200.00L159.00,193.51L159.07,183.04L159.15,169.14L159.22,152.49L159.29,133.94L159.36,114.40ZM158.40,114.40L158.47,94.86L158.54,76.31L158.62,59.66L158.69,45.76L158.76,35.29L158.76,28.80L158.76,26.60L158.94,26.26L159.39,26.12L159.83,26.26L160.02,26.60L160.02,28.80L160.02,35.29L160.08,45.76L160.16,59.66L160.23,76.31L160.30,94.86L160.37,114.40ZM159.41,114.40L159.48,133.94L159.56,152.49L159.63,169.14L159.70,183.04L159.77,193.51L159.77,200.00L159.77,202.20L159.95,202.54L160.40,202.68L160.84,202.54L161.03,202.20L161.03,200.00L161.03,193.51L161.10,183.04L161.17,169.14L161.24,152.49L161.31,133.94L161.39,114.40ZM160.42,114.40L160.49,94.86L160.57,76.31L160.64,59.66L160.71,45.76L160.78,35.29L160.78,28.80L160.78,26.60L160.96,26.26L161.41,26.12L161.86,26.26L162.04,26.60L162.04,28.80L162.04,35.29L162.11,45.76L162.18,59.66L162.25,76.31L162.33,94.86L162.40,114.40ZM161.43,114.40L161.51,133.94L161.58,152.49L161.65,169.14L161.72,183.04L161.79,193.51L161.79,200.00L161.79,202.20L161.98,202.54L162.42,202.68L162.87,202.54L163.05,202.20L163.05,200.00L163.05,193.51L163.12,183.04L163.19,169.14L163.26,152.49L163.34,133.94L163.41,114.40ZM162.45,114.40L162.52,94.86L162.59,76.31L162.66,59.66L162.74,45.76L162.80,35.29L162.80,28.80L162.80,26.60L162.99,26.26L163.43,26.12L163.88,26.26L164.06,26.60L164.06,28.80L164.06,35.29L164.13,45.76L164.20,59.66L164.28,76.31L164.35,94.86L164.42,114.40ZM163.46,114.40L163.53,133.94L163.60,152.49L163.67,169.14L163.75,183.04L163.82,193.51L163.82,200.00L163.82,202.20L164.00,202.54L164.45,202.68L164.89,202.54L165.08,202.20L165.08,200.00L165.08,193.51L165.14,183.04L165.22,169.14L165.29,152.49L165.36,133.94L165.43,114.40ZM164.47,114.40L164.54,94.86L164.61,76.31L164.69,59.66L164.76,45.76L164.83,35.29L164.83,28.80L164.83,26.60L165.01,26.26L165.46,26.12L165.90,26.26L166.09,26.60L166.09,28.80L166.09,35.29L166.15,45.76L166.23,59.66L166.30,76.31L166.37,94.86L166.45,114.40ZM165.48,114.40L165.55,133.94L165.63,152.49L165.70,169.14L165.77,183.04L165.84,193.51L165.84,200.00L165.84,202.20L166.02,202.54L166.47,202.68L166.91,202.54L167.10,202.20L167.10,200.00L167.10,193.51L167.17,183.04L167.24,169.14L167.31,152.49L167.38,133.94L167.46,114.40ZM166.49,114.40L166.56,94.86L166.64,76.31L166.71,59.66L166.78,45.76L166.85,35.29L166.85,28.80L166.85,26.60L167.04,26.26L167.48,26.12L167.93,26.26L168.11,26.60L168.11,28.80L168.11,35.29L168.18,45.76L168.25,59.66L168.32,76.31L168.40,94.86L168.47,114.40ZM167.50,114.40L167.58,133.94L167.65,152.49L167.72,169.14L167.79,183.04L167.86,193.51L167.86,200.00L167.86,202.20L168.05,202.54L168.49,202.68L168.94,202.54L169.12,202.20L169.12,200.00L169.12,193.51L169.19,183.04L169.26,169.14L169.34,152.49L169.41,133.94L169.48,114.40ZM168.52,114.40L168.59,94.86L168.66,76.31L168.73,59.66L168.81,45.76L168.87,35.29L168.87,28.80L168.87,26.60L169.06,26.26L169.50,26.12L169.95,26.26L170.13,26.60L170.13,28.80L170.13,35.29L170.20,45.76L170.27,59.66L170.35,76.31L170.42,94.86L170.49,114.40ZM169.53,114.40L169.60,133.94L169.67,152.49L169.75,169.14L169.82,183.04L169.89,193.51L169.89,200.00L169.89,202.20L170.07,202.54L170.52,202.68L170.96,202.54L171.15,202.20L171.15,200.00L171.15,193.51L171.21,183.04L171.29,169.14L171.36,152.49L171.43,133.94L171.50,114.40ZM170.54,114.40L170.61,94.86L170.68,76.31L170.76,59.66L170.83,45.76L170.90,35.29L170.90,28.80L170.90,26.60L171.08,26.26L171.53,26.12L171.97,26.26L172.16,26.60L172.16,28.80L172.16,35.29L172.23,45.76L172.30,59.66L172.37,76.31L172.44,94.86L172.52,114.40ZM171.55,114.40L171.62,133.94L171.70,152.49L171.77,169.14L171.84,183.04L171.91,193.51L171.91,200.00L171.91,202.20L172.09,202.54L172.54,202.68L172.98,202.54L173.17,202.20L173.17,200.00L173.17,193.51L173.24,183.04L173.31,169.14L173.38,152.49L173.45,133.94L173.53,114.40ZM172.56,114.40L172.64,94.86L172.71,76.31L172.78,59.66L172.85,45.76L172.92,35.29L172.92,28.80L172.92,26.60L173.11,26.26L173.55,26.12L174.00,26.26L174.18,26.60L174.18,28.80L174.18,35.29L174.25,45.76L174.32,59.66L174.39,76.31L174.47,94.86L174.54,114.40ZM173.57,114.40L173.65,133.94L173.72,152.49L173.79,169.14L173.86,183.04L173.93,193.51L173.93,200.00L173.93,202.20L174.12,202.54L174.56,202.68L175.01,202.54L175.19,202.20L175.19,200.00L175.19,193.51L175.26,183.04L175.33,169.14L175.41,152.49L175.48,133.94L175.55,114.40ZM174.59,114.40L174.66,94.86L174.73,76.31L174.80,59.66L174.88,45.76L174.94,35.29L174.94,28.80L174.94,26.60L175.13,26.26L175.57,26.12L176.02,26.26L176.20,26.60L176.20,28.80L176.20,35.29L176.27,45.76L176.34,59.66L176.42,76.31L176.49,94.86L176.56,114.40ZM175.60,114.40L175.67,133.94L175.74,152.49L175.82,169.14L175.89,183.04L175.96,193.51L175.96,200.00L175.96,202.20L176.14,202.54L176.59,202.68L177.03,202.54L177.22,202.20L177.22,200.00L177.22,193.51L177.28,183.04L177.36,169.14L177.43,152.49L177.50,133.94L177.57,114.40ZM176.61,114.40L176.68,94.86L176.75,76.31L176.83,59.66L176.90,45.76L176.97,35.29L176.97,28.80L176.97,26.60L177.15,26.26L177.60,26.12L178.04,26.26L178.23,26.60L178.23,28.80L178.23,35.29L178.30,45.76L178.37,59.66L178.44,76.31L178.51,94.86L178.59,114.40ZM177.62,114.40L177.69,133.94L177.77,152.49L177.84,169.14L177.91,183.04L177.98,193.51L177.98,200.00L177.98,202.20L178.16,202.54L178.61,202.68L179.06,202.54L179.24,202.20L179.24,200.00L179.24,193.51L179.31,183.04L179.38,169.14L179.45,152.49L179.53,133.94L179.60,114.40ZM178.63,114.40L178.71,94.86L178.78,76.31L178.85,59.66L178.92,45.76L178.99,35.29L178.99,28.80L178.99,26.60L179.18,26.26L179.62,26.12L180.07,26.26L180.25,26.60L180.25,28.80L180.25,35.29L180.32,45.76L180.39,59.66L180.46,76.31L180.54,94.86L180.61,114.40ZM179.65,114.40L179.72,133.94L179.79,152.49L179.86,169.14L179.94,183.04L180.00,193.51L180.00,200.00L180.00,202.20L180.19,202.54L180.63,202.68L181.08,202.54L181.26,202.20L181.26,200.00L181.26,193.51L181.33,183.04L181.40,169.14L181.48,152.49L181.55,133.94L181.62,114.40ZM180.66,114.40L180.73,94.86L180.80,76.31L180.87,59.66L180.95,45.76L181.01,35.29L181.01,28.80L181.01,26.60L181.20,26.26L181.64,26.12L182.09,26.26L182.27,26.60L182.27,28.80L182.27,35.29L182.34,45.76L182.42,59.66L182.49,76.31L182.56,94.86L182.63,114.40ZM181.67,114.40L181.74,133.94L181.81,152.49L181.89,169.14L181.96,183.04L182.03,193.51L182.03,200.00L182.03,202.20L182.21,202.54L182.66,202.68L183.10,202.54L183.29,202.20L183.29,200.00L183.29,193.51L183.35,183.04L183.43,169.14L183.50,152.49L183.57,133.94L183.64,114.40ZM182.68,114.40L182.75,94.86L182.83,76.31L182.90,59.66L182.97,45.76L183.04,35.29L183.04,28.80L183.04,26.60L183.22,26.26L183.67,26.12L184.11,26.26L184.30,26.60L184.30,28.80L184.30,35.29L184.37,45.76L184.44,59.66L184.51,76.31L184.58,94.86L184.66,114.40ZM183.69,114.40L183.76,133.94L183.84,152.49L183.91,169.14L183.98,183.04L184.05,193.51L184.05,200.00L184.05,202.20L184.23,202.54L184.68,202.68L185.13,202.54L185.31,202.20L185.31,200.00L185.31,193.51L185.38,183.04L185.45,169.14L185.52,152.49L185.60,133.94L185.67,114.40ZM184.70,114.40L184.78,94.86L184.85,76.31L184.92,59.66L184.99,45.76L185.06,35.29L185.06,28.80L185.06,26.60L185.25,26.26L185.69,26.12L186.14,26.26L186.32,26.60L186.32,28.80L186.32,35.29L186.39,45.76L186.46,59.66L186.53,76.31L186.61,94.86L186.68,114.40ZM185.72,114.40L185.79,133.94L185.86,152.49L185.93,169.14L186.01,183.04L186.07,193.51L186.07,200.00L186.07,202.20L186.26,202.54L186.70,202.68L187.15,202.54L187.33,202.20L187.33,200.00L187.33,193.51L187.40,183.04L187.47,169.14L187.55,152.49L187.62,133.94L187.69,114.40ZM186.73,114.40L186.80,94.86L186.87,76.31L186.95,59.66L187.02,45.76L187.09,35.29L187.09,28.80L187.09,26.60L187.27,26.26L187.72,26.12L188.16,26.26L188.35,26.60L188.35,28.80L188.35,35.29L188.41,45.76L188.49,59.66L188.56,76.31L188.63,94.86L188.70,114.40ZM187.74,114.40L187.81,133.94L187.88,152.49L187.96,169.14L188.03,183.04L188.10,193.51L188.10,200.00L188.10,202.20L188.28,202.54L188.73,202.68L189.17,202.54L189.36,202.20L189.36,200.00L189.36,193.51L189.43,183.04L189.50,169.14L189.57,152.49L189.64,133.94L189.72,114.40ZM188.75,114.40L188.82,94.86L188.90,76.31L188.97,59.66L189.04,45.76L189.11,35.29L189.11,28.80L189.11,26.60L189.29,26.26L189.74,26.12L190.18,26.26L190.37,26.60L190.37,28.80L190.37,35.29L190.44,45.76L190.51,59.66L190.58,76.31L190.65,94.86L190.73,114.40ZM189.76,114.40L189.84,133.94L189.91,152.49L189.98,169.14L190.05,183.04L190.12,193.51L190.12,200.00L190.12,202.20L190.31,202.54L190.75,202.68L191.20,202.54L191.38,202.20L191.38,200.00L191.38,193.51L191.45,183.04L191.52,169.14L191.59,152.49L191.67,133.94L191.74,114.40ZM190.77,114.40L190.85,94.86L190.92,76.31L190.99,59.66L191.06,45.76L191.13,35.29L191.13,28.80L191.13,26.60L191.32,26.26L191.76,26.12L192.21,26.26L192.39,26.60L192.39,28.80L192.39,35.29L192.46,45.76L192.53,59.66L192.61,76.31L192.68,94.86L192.75,114.40ZM191.79,114.40L191.86,133.94L191.93,152.49L192.00,169.14L192.08,183.04L192.14,193.51L192.14,200.00L192.14,202.20L192.33,202.54L192.77,202.68L193.22,202.54L193.40,202.20L193.40,200.00L193.40,193.51L193.47,183.04L193.54,169.14L193.62,152.49L193.69,133.94L193.76,114.40ZM192.80,114.40L192.87,94.86L192.94,76.31L193.02,59.66L193.09,45.76L193.16,35.29L193.16,28.80L193.16,26.60L193.34,26.26L193.79,26.12L194.23,26.26L194.42,26.60L194.42,28.80L194.42,35.29L194.48,45.76L194.56,59.66L194.63,76.31L194.70,94.86L194.77,114.40ZM193.81,114.40L193.88,133.94L193.95,152.49L194.03,169.14L194.10,183.04L194.17,193.51L194.17,200.00L194.17,202.20L194.35,202.54L194.80,202.68L195.24,202.54L195.43,202.20L195.43,200.00L195.43,193.51L195.50,183.04L195.57,169.14L195.64,152.49L195.71,133.94L195.79,114.40ZM194.82,114.40L194.89,94.86L194.97,76.31L195.04,59.66L195.11,45.76L195.18,35.29L195.18,28.80L195.18,26.60L195.36,26.26L195.81,26.12L196.25,26.26L196.44,26.60L196.44,28.80L196.44,35.29L196.51,45.76L196.58,59.66L196.65,76.31L196.73,94.86L196.80,114.40ZM195.83,114.40L195.91,133.94L195.98,152.49L196.05,169.14L196.12,183.04L196.19,193.51L196.19,200.00L196.19,202.20L196.38,202.54L196.82,202.68L197.27,202.54L197.45,202.20L197.45,200.00L197.45,193.51L197.52,183.04L197.59,169.14L197.66,152.49L197.74,133.94L197.81,114.40ZM196.84,114.40L196.92,94.86L196.99,76.31L197.06,59.66L197.14,45.76L197.20,35.29L197.20,28.80L197.20,26.60L197.39,26.26L197.83,26.12L198.28,26.26L198.46,26.60L198.46,28.80L198.46,35.29L198.53,45.76L198.60,59.66L198.68,76.31L198.75,94.86L198.82,114.40ZM197.86,114.40L197.93,133.94L198.00,152.49L198.07,169.14L198.15,183.04L198.21,193.51L198.21,200.00L198.21,202.20L198.40,202.54L198.84,202.68L199.29,202.54L199.47,202.20L199.47,200.00L199.47,193.51L199.54,183.04L199.62,169.14L199.69,152.49L199.76,133.94L199.83,114.40ZM198.87,114.40L198.94,94.86L199.01,76.31L199.09,59.66L199.16,45.76L199.23,35.29L199.23,28.80L199.23,26.60L199.41,26.26L199.86,26.12L200.30,26.26L200.49,26.60L200.49,28.80L200.49,35.29L200.55,45.76L200.63,59.66L200.70,76.31L200.77,94.86L200.84,114.40ZM199.88,114.40L199.95,133.94L200.03,152.49L200.10,169.14L200.17,183.04L200.24,193.51L200.24,200.00L200.24,202.20L200.42,202.54L200.87,202.68L201.31,202.54L201.50,202.20L201.50,200.00L201.50,193.51L201.57,183.04L201.64,169.14L201.71,152.49L201.78,133.94L201.86,114.40ZM200.89,114.40L200.96,94.86L201.04,76.31L201.11,59.66L201.18,45.76L201.25,35.29L201.25,28.80L201.25,26.60L201.43,26.26L201.88,26.12L202.33,26.26L202.51,26.60L202.51,28.80L202.51,35.29L202.58,45.76L202.65,59.66L202.72,76.31L202.80,94.86L202.87,114.40ZM201.90,114.40L201.98,133.94L202.05,152.49L202.12,169.14L202.19,183.04L202.26,193.51L202.26,200.00L202.26,202.20L202.45,202.54L202.89,202.68L203.34,202.54L203.52,202.20L203.52,200.00L203.52,193.51L203.59,183.04L203.66,169.14L203.73,152.49L203.81,133.94L203.88,114.40ZM202.92,114.40L202.99,94.86L203.06,76.31L203.13,59.66L203.21,45.76L203.27,35.29L203.27,28.80L203.27,26.60L203.46,26.26L203.90,26.12L204.35,26.26L204.53,26.60L204.53,28.80L204.53,35.29L204.60,45.76L204.67,59.66L204.75,76.31L204.82,94.86L204.89,114.40ZM203.93,114.40L204.00,133.94L204.07,152.49L204.14,169.14L204.22,183.04L204.29,193.51L204.29,200.00L204.29,202.20L204.47,202.54L204.92,202.68L205.36,202.54L205.55,202.20L205.55,200.00L205.55,193.51L205.61,183.04L205.69,169.14L205.76,152.49L205.83,133.94L205.90,114.40ZM204.94,114.40L205.01,94.86L205.08,76.31L205.16,59.66L205.23,45.76L205.30,35.29L205.30,28.80L205.30,26.60L205.48,26.26L205.93,26.12L206.37,26.26L206.56,26.60L206.56,28.80L206.56,35.29L206.62,45.76L206.70,59.66L206.77,76.31L206.84,94.86L206.92,114.40ZM205.95,114.40L206.02,133.94L206.10,152.49L206.17,169.14L206.24,183.04L206.31,193.51L206.31,200.00L206.31,202.20L206.49,202.54L206.94,202.68L207.38,202.54L207.57,202.20L207.57,200.00L207.57,193.51L207.64,183.04L207.71,169.14L207.78,152.49L207.85,133.94L207.93,114.40ZM206.96,114.40L207.03,94.86L207.11,76.31L207.18,59.66L207.25,45.76L207.32,35.29L207.32,28.80L207.32,26.60L207.51,26.26L207.95,26.12L208.40,26.26L208.58,26.60L208.58,28.80L208.58,35.29L208.65,45.76L208.72,59.66L208.79,76.31L208.87,94.86L208.94,114.40ZM207.97,114.40L208.05,133.94L208.12,152.49L208.19,169.14L208.26,183.04L208.33,193.51L208.33,200.00L208.33,202.20L208.52,202.54L208.96,202.68L209.41,202.54L209.59,202.20L209.59,200.00L209.59,193.51L209.66,183.04L209.73,169.14L209.81,152.49L209.88,133.94L209.95,114.40ZM208.99,114.40L209.06,94.86L209.13,76.31L209.20,59.66L209.28,45.76L209.34,35.29L209.34,28.80L209.34,26.60L209.53,26.26L209.97,26.12L210.42,26.26L210.60,26.60L210.60,28.80L210.60,35.29L210.67,45.76L210.74,59.66L210.82,76.31L210.89,94.86L210.96,114.40ZM210.00,114.40L210.07,133.94L210.14,152.49L210.22,169.14L210.29,183.04L210.36,193.51L210.36,200.00L210.36,202.20L210.54,202.54L210.99,202.68L211.43,202.54L211.62,202.20L211.62,200.00L211.62,193.51L211.68,183.04L211.76,169.14L211.83,152.49L211.90,133.94L211.97,114.40ZM211.01,114.40L211.08,94.86L211.15,76.31L211.23,59.66L211.30,45.76L211.37,35.29L211.37,28.80L211.37,26.60L211.55,26.26L212.00,26.12L212.44,26.26L212.63,26.60L212.63,28.80L212.63,35.29L212.70,45.76L212.77,59.66L212.84,76.31L212.91,94.86L212.99,114.40ZM212.02,114.40L212.09,133.94L212.17,152.49L212.24,169.14L212.31,183.04L212.38,193.51L212.38,200.00L212.38,202.20L212.56,202.54L213.01,202.68L213.45,202.54L213.64,202.20L213.64,200.00L213.64,193.51L213.71,183.04L213.78,169.14L213.85,152.49L213.92,133.94L214.00,114.40ZM213.03,114.40L213.11,94.86L213.18,76.31L213.25,59.66L213.32,45.76L213.39,35.29L213.39,28.80L213.39,26.60L213.58,26.26L214.02,26.12L214.47,26.26L214.65,26.60L214.65,28.80L214.65,35.29L214.72,45.76L214.79,59.66L214.86,76.31L214.94,94.86L215.01,114.40ZM214.04,114.40L214.12,133.94L214.19,152.49L214.26,169.14L214.33,183.04L214.40,193.51L214.40,200.00L214.40,202.20L214.59,202.54L215.03,202.68L215.48,202.54L215.66,202.20L215.66,200.00L215.66,193.51L215.73,183.04L215.80,169.14L215.88,152.49L215.95,133.94L216.02,114.40ZM215.06,114.40L215.13,94.86L215.20,76.31L215.27,59.66L215.35,45.76L215.41,35.29L215.41,28.80L215.41,26.60L215.60,26.26L216.04,26.12L216.49,26.26L216.67,26.60L216.67,28.80L216.67,35.29L216.74,45.76L216.81,59.66L216.89,76.31L216.96,94.86L217.03,114.40ZM216.07,114.40L216.14,133.94L216.21,152.49L216.29,169.14L216.36,183.04L216.43,193.51L216.43,200.00L216.43,202.20L216.61,202.54L217.06,202.68L217.50,202.54L217.69,202.20L217.69,200.00L217.69,193.51L217.75,183.04L217.83,169.14L217.90,152.49L217.97,133.94L218.04,114.40ZM217.08,114.40L217.15,94.86L217.22,76.31L217.30,59.66L217.37,45.76L217.44,35.29L217.44,28.80L217.44,26.60L217.62,26.26L218.07,26.12L218.51,26.26L218.70,26.60L218.70,28.80L218.70,35.29L218.77,45.76L218.84,59.66L218.91,76.31L218.98,94.86L219.06,114.40ZM218.09,114.40L218.16,133.94L218.24,152.49L218.31,169.14L218.38,183.04L218.45,193.51L218.45,200.00L218.45,202.20L218.63,202.54L219.08,202.68L219.53,202.54L219.71,202.20L219.71,200.00L219.71,193.51L219.78,183.04L219.85,169.14L219.92,152.49L220.00,133.94L220.07,114.40ZM219.10,114.40L219.18,94.86L219.25,76.31L219.32,59.66L219.39,45.76L219.46,35.29L219.46,28.80L219.46,26.60L219.65,26.26L220.09,26.12L220.54,26.26L220.72,26.60L220.72,28.80L220.72,35.29L220.79,45.76L220.86,59.66L220.93,76.31L221.01,94.86L221.08,114.40ZM220.12,114.40L220.19,133.94L220.26,152.49L220.33,169.14L220.41,183.04L220.47,193.51L220.47,200.00L220.47,202.20L220.66,202.54L221.10,202.68L221.55,202.54L221.73,202.20L221.73,200.00L221.73,193.51L221.80,183.04L221.87,169.14L221.95,152.49L222.02,133.94L222.09,114.40ZM221.13,114.40L221.20,94.86L221.27,76.31L221.34,59.66L221.42,45.76L221.48,35.29L221.48,28.80L221.48,26.60L221.67,26.26L222.11,26.12L222.56,26.26L222.74,26.60L222.74,28.80L222.74,35.29L222.81,45.76L222.89,59.66L222.96,76.31L223.03,94.86L223.10,114.40ZM222.14,114.40L222.21,133.94L222.28,152.49L222.36,169.14L222.43,183.04L222.50,193.51L222.50,200.00L222.50,202.20L222.68,202.54L223.13,202.68L223.57,202.54L223.76,202.20L223.76,200.00L223.76,193.51L223.82,183.04L223.90,169.14L223.97,152.49L224.04,133.94L224.11,114.40ZM223.15,114.40L223.22,94.86L223.30,76.31L223.37,59.66L223.44,45.76L223.51,35.29L223.51,28.80L223.51,26.60L223.69,26.26L224.14,26.12L224.58,26.26L224.77,26.60L224.77,28.80L224.77,35.29L224.84,45.76L224.91,59.66L224.98,76.31L225.05,94.86L225.13,114.40ZM224.16,114.40L224.23,133.94L224.31,152.49L224.38,169.14L224.45,183.04L224.52,193.51L224.52,200.00L224.52,202.20L224.70,202.54L225.15,202.68L225.60,202.54L225.78,202.20L225.78,200.00L225.78,193.51L225.85,183.04L225.92,169.14L225.99,152.49L226.07,133.94L226.14,114.40ZM225.17,114.40L225.25,94.86L225.32,76.31L225.39,59.66L225.46,45.76L225.53,35.29L225.53,28.80L225.53,26.60L225.72,26.26L226.16,26.12L226.61,26.26L226.79,26.60L226.79,28.80L226.79,35.29L226.86,45.76L226.93,59.66L227.00,76.31L227.08,94.86L227.15,114.40ZM226.19,114.40L226.26,133.94L226.33,152.49L226.40,169.14L226.48,183.04L226.54,193.51L226.54,200.00L226.54,202.20L226.73,202.54L227.17,202.68L227.62,202.54L227.80,202.20L227.80,200.00L227.80,193.51L227.87,183.04L227.94,169.14L228.02,152.49L228.09,133.94L228.16,114.40ZM227.20,114.40L227.27,94.86L227.34,76.31L227.42,59.66L227.49,45.76L227.56,35.29L227.56,28.80L227.56,26.60L227.74,26.26L228.19,26.12L228.63,26.26L228.82,26.60L228.82,28.80L228.82,35.29L228.88,45.76L228.96,59.66L229.03,76.31L229.10,94.86L229.17,114.40ZM228.21,114.40L228.28,133.94L228.35,152.49L228.43,169.14L228.50,183.04L228.57,193.51L228.57,200.00L228.57,202.20L228.75,202.54L229.20,202.68L229.64,202.54L229.83,202.20L229.83,200.00L229.83,193.51L229.90,183.04L229.97,169.14L230.04,152.49L230.11,133.94L230.19,114.40ZM229.22,114.40L229.29,94.86L229.37,76.31L229.44,59.66L229.51,45.76L229.58,35.29L229.58,28.80L229.58,26.60L229.76,26.26L230.21,26.12L230.65,26.26L230.84,26.60L230.84,28.80L230.84,35.29L230.91,45.76L230.98,59.66L231.05,76.31L231.12,94.86L231.20,114.40ZM230.23,114.40L230.31,133.94L230.38,152.49L230.45,169.14L230.52,183.04L230.59,193.51L230.59,200.00L230.59,202.20L230.78,202.54L231.22,202.68L231.67,202.54L231.85,202.20L231.85,200.00L231.85,193.51L231.92,183.04L231.99,169.14L232.06,152.49L232.14,133.94L232.21,114.40ZM231.24,114.40L231.32,94.86L231.39,76.31L231.46,59.66L231.53,45.76L231.60,35.29L231.60,28.80L231.60,26.60L231.79,26.26L232.23,26.12L232.68,26.26L232.86,26.60L232.86,28.80L232.86,35.29L232.93,45.76L233.00,59.66L233.08,76.31L233.15,94.86L233.22,114.40ZM232.26,114.40L232.33,133.94L232.40,152.49L232.47,169.14L232.55,183.04L232.61,193.51L232.61,200.00L232.61,202.20L232.80,202.54L233.24,202.68L233.69,202.54L233.87,202.20L233.87,200.00L233.87,193.51L233.94,183.04L234.01,169.14L234.09,152.49L234.16,133.94L234.23,114.40ZM233.27,114.40L233.34,94.86L233.41,76.31L233.49,59.66L233.56,45.76L233.63,35.29L233.63,28.80L233.63,26.60L233.81,26.26L234.26,26.12L234.70,26.26L234.89,26.60L234.89,28.80L234.89,35.29L234.95,45.76L235.03,59.66L235.10,76.31L235.17,94.86L235.24,114.40ZM234.28,114.40L234.35,133.94L234.42,152.49L234.50,169.14L234.57,183.04L234.64,193.51L234.64,200.00L234.64,202.20L234.82,202.54L235.27,202.68L235.71,202.54L235.90,202.20L235.90,200.00L235.90,193.51L235.97,183.04L236.04,169.14L236.11,152.49L236.18,133.94L236.26,114.40ZM235.29,114.40L235.36,94.86L235.44,76.31L235.51,59.66L235.58,45.76L235.65,35.29L235.65,28.80L235.65,26.60L235.83,26.26L236.28,26.12L236.72,26.26L236.91,26.60L236.91,28.80L236.91,35.29L236.98,45.76L237.05,59.66L237.12,76.31L237.20,94.86L237.27,114.40ZM236.30,114.40L236.38,133.94L236.45,152.49L236.52,169.14L236.59,183.04L236.66,193.51L236.66,200.00L236.66,202.20L236.85,202.54L237.29,202.68L237.74,202.54L237.92,202.20L237.92,200.00L237.92,193.51L237.99,183.04L238.06,169.14L238.13,152.49L238.21,133.94L238.28,114.40ZM237.31,114.40L237.39,94.86L237.46,76.31L237.53,59.66L237.61,45.76L237.67,35.29L237.67,28.80L237.67,26.60L237.86,26.26L238.30,26.12L238.75,26.26L238.93,26.60L238.93,28.80L238.93,35.29L239.00,45.76L239.07,59.66L239.15,76.31L239.22,94.86L239.29,114.40ZM238.33,114.40L238.40,133.94L238.47,152.49L238.54,169.14L238.62,183.04L238.68,193.51L238.68,200.00L238.68,202.20L238.87,202.54L239.31,202.68L239.76,202.54L239.94,202.20L239.94,200.00L239.94,193.51L240.01,183.04L240.09,169.14L240.16,152.49L240.23,133.94L240.30,114.40ZM239.34,114.40L239.41,94.86L239.48,76.31L239.56,59.66L239.63,45.76L239.70,35.29L239.70,28.80L239.70,26.60L239.88,26.26L240.33,26.12L240.77,26.26L240.96,26.60L240.96,28.80L240.96,35.29L241.02,45.76L241.10,59.66L241.17,76.31L241.24,94.86L241.31,114.40Z" fill="url(#aD)"/>
<path clip-path="url(#cr)" d="M339.74,114.40L339.82,94.86L339.89,76.31L339.96,59.66L340.03,45.76L340.10,35.29L340.10,28.80L340.10,26.60L340.29,26.26L340.73,26.12L341.18,26.26L341.36,26.60L341.36,28.80L341.36,35.29L341.43,45.76L341.50,59.66L341.57,76.31L341.65,94.86L341.72,114.40ZM340.75,114.40L340.83,133.94L340.90,152.49L340.97,169.14L341.04,183.04L341.11,193.51L341.11,200.00L341.11,202.20L341.30,202.54L341.74,202.68L342.19,202.54L342.37,202.20L342.37,200.00L342.37,193.51L342.44,183.04L342.51,169.14L342.59,152.49L342.66,133.94L342.73,114.40ZM341.77,114.40L341.84,94.86L341.91,76.31L341.98,59.66L342.06,45.76L342.12,35.29L342.12,28.80L342.12,26.60L342.31,26.26L342.75,26.12L343.20,26.26L343.38,26.60L343.38,28.80L343.38,35.29L343.45,45.76L343.52,59.66L343.60,76.31L343.67,94.86L343.74,114.40ZM342.78,114.40L342.85,133.94L342.92,152.49L343.00,169.14L343.07,183.04L343.14,193.51L343.14,200.00L343.14,202.20L343.32,202.54L343.77,202.68L344.21,202.54L344.40,202.20L344.40,200.00L344.40,193.51L344.46,183.04L344.54,169.14L344.61,152.49L344.68,133.94L344.75,114.40ZM343.79,114.40L343.86,94.86L343.94,76.31L344.01,59.66L344.08,45.76L344.15,35.29L344.15,28.80L344.15,26.60L344.33,26.26L344.78,26.12L345.22,26.26L345.41,26.60L345.41,28.80L345.41,35.29L345.48,45.76L345.55,59.66L345.62,76.31L345.69,94.86L345.77,114.40ZM344.80,114.40L344.87,133.94L344.95,152.49L345.02,169.14L345.09,183.04L345.16,193.51L345.16,200.00L345.16,202.20L345.34,202.54L345.79,202.68L346.24,202.54L346.42,202.20L346.42,200.00L346.42,193.51L346.49,183.04L346.56,169.14L346.63,152.49L346.71,133.94L346.78,114.40ZM345.81,114.40L345.89,94.86L345.96,76.31L346.03,59.66L346.10,45.76L346.17,35.29L346.17,28.80L346.17,26.60L346.36,26.26L346.80,26.12L347.25,26.26L347.43,26.60L347.43,28.80L347.43,35.29L347.50,45.76L347.57,59.66L347.64,76.31L347.72,94.86L347.79,114.40ZM346.83,114.40L346.90,133.94L346.97,152.49L347.04,169.14L347.12,183.04L347.18,193.51L347.18,200.00L347.18,202.20L347.37,202.54L347.81,202.68L348.26,202.54L348.44,202.20L348.44,200.00L348.44,193.51L348.51,183.04L348.58,169.14L348.66,152.49L348.73,133.94L348.80,114.40ZM347.84,114.40L347.91,94.86L347.98,76.31L348.05,59.66L348.13,45.76L348.19,35.29L348.19,28.80L348.19,26.60L348.38,26.26L348.82,26.12L349.27,26.26L349.45,26.60L349.45,28.80L349.45,35.29L349.52,45.76L349.60,59.66L349.67,76.31L349.74,94.86L349.81,114.40ZM348.85,114.40L348.92,133.94L348.99,152.49L349.07,169.14L349.14,183.04L349.21,193.51L349.21,200.00L349.21,202.20L349.39,202.54L349.84,202.68L350.28,202.54L350.47,202.20L350.47,200.00L350.47,193.51L350.53,183.04L350.61,169.14L350.68,152.49L350.75,133.94L350.82,114.40ZM349.86,114.40L349.93,94.86L350.01,76.31L350.08,59.66L350.15,45.76L350.22,35.29L350.22,28.80L350.22,26.60L350.40,26.26L350.85,26.12L351.29,26.26L351.48,26.60L351.48,28.80L351.48,35.29L351.55,45.76L351.62,59.66L351.69,76.31L351.76,94.86L351.84,114.40ZM350.87,114.40L350.94,133.94L351.02,152.49L351.09,169.14L351.16,183.04L351.23,193.51L351.23,200.00L351.23,202.20L351.41,202.54L351.86,202.68L352.31,202.54L352.49,202.20L352.49,200.00L352.49,193.51L352.56,183.04L352.63,169.14L352.70,152.49L352.78,133.94L352.85,114.40ZM351.88,114.40L351.96,94.86L352.03,76.31L352.10,59.66L352.17,45.76L352.24,35.29L352.24,28.80L352.24,26.60L352.43,26.26L352.87,26.12L353.32,26.26L353.50,26.60L353.50,28.80L353.50,35.29L353.57,45.76L353.64,59.66L353.72,76.31L353.79,94.86L353.86,114.40ZM352.90,114.40L352.97,133.94L353.04,152.49L353.11,169.14L353.19,183.04L353.25,193.51L353.25,200.00L353.25,202.20L353.44,202.54L353.88,202.68L354.33,202.54L354.51,202.20L354.51,200.00L354.51,193.51L354.58,183.04L354.65,169.14L354.73,152.49L354.80,133.94L354.87,114.40ZM353.91,114.40L353.98,94.86L354.05,76.31L354.13,59.66L354.20,45.76L354.27,35.29L354.27,28.80L354.27,26.60L354.45,26.26L354.90,26.12L355.34,26.26L355.53,26.60L355.53,28.80L355.53,35.29L355.59,45.76L355.67,59.66L355.74,76.31L355.81,94.86L355.88,114.40ZM354.92,114.40L354.99,133.94L355.06,152.49L355.14,169.14L355.21,183.04L355.28,193.51L355.28,200.00L355.28,202.20L355.46,202.54L355.91,202.68L356.35,202.54L356.54,202.20L356.54,200.00L356.54,193.51L356.61,183.04L356.68,169.14L356.75,152.49L356.82,133.94L356.90,114.40ZM355.93,114.40L356.00,94.86L356.08,76.31L356.15,59.66L356.22,45.76L356.29,35.29L356.29,28.80L356.29,26.60L356.47,26.26L356.92,26.12L357.36,26.26L357.55,26.60L357.55,28.80L357.55,35.29L357.62,45.76L357.69,59.66L357.76,76.31L357.83,94.86L357.91,114.40ZM356.94,114.40L357.02,133.94L357.09,152.49L357.16,169.14L357.23,183.04L357.30,193.51L357.30,200.00L357.30,202.20L357.49,202.54L357.93,202.68L358.38,202.54L358.56,202.20L358.56,200.00L358.56,193.51L358.63,183.04L358.70,169.14L358.77,152.49L358.85,133.94L358.92,114.40ZM357.95,114.40L358.03,94.86L358.10,76.31L358.17,59.66L358.24,45.76L358.31,35.29L358.31,28.80L358.31,26.60L358.50,26.26L358.94,26.12L359.39,26.26L359.57,26.60L359.57,28.80L359.57,35.29L359.64,45.76L359.71,59.66L359.79,76.31L359.86,94.86L359.93,114.40ZM358.97,114.40L359.04,133.94L359.11,152.49L359.18,169.14L359.26,183.04L359.32,193.51L359.32,200.00L359.32,202.20L359.51,202.54L359.95,202.68L360.40,202.54L360.58,202.20L360.58,200.00L360.58,193.51L360.65,183.04L360.72,169.14L360.80,152.49L360.87,133.94L360.94,114.40ZM359.98,114.40L360.05,94.86L360.12,76.31L360.20,59.66L360.27,45.76L360.34,35.29L360.34,28.80L360.34,26.60L360.52,26.26L360.97,26.12L361.41,26.26L361.60,26.60L361.60,28.80L361.60,35.29L361.66,45.76L361.74,59.66L361.81,76.31L361.88,94.86L361.95,114.40ZM360.99,114.40L361.06,133.94L361.13,152.49L361.21,169.14L361.28,183.04L361.35,193.51L361.35,200.00L361.35,202.20L361.53,202.54L361.98,202.68L362.42,202.54L362.61,202.20L362.61,200.00L362.61,193.51L362.68,183.04L362.75,169.14L362.82,152.49L362.89,133.94L362.97,114.40ZM362.00,114.40L362.07,94.86L362.15,76.31L362.22,59.66L362.29,45.76L362.36,35.29L362.36,28.80L362.36,26.60L362.54,26.26L362.99,26.12L363.43,26.26L363.62,26.60L363.62,28.80L363.62,35.29L363.69,45.76L363.76,59.66L363.83,76.31L363.91,94.86L363.98,114.40ZM363.01,114.40L363.09,133.94L363.16,152.49L363.23,169.14L363.30,183.04L363.37,193.51L363.37,200.00L363.37,202.20L363.56,202.54L364.00,202.68L364.45,202.54L364.63,202.20L364.63,200.00L364.63,193.51L364.70,183.04L364.77,169.14L364.84,152.49L364.92,133.94L364.99,114.40ZM364.02,114.40L364.10,94.86L364.17,76.31L364.24,59.66L364.32,45.76L364.38,35.29L364.38,28.80L364.38,26.60L364.57,26.26L365.01,26.12L365.46,26.26L365.64,26.60L365.64,28.80L365.64,35.29L365.71,45.76L365.78,59.66L365.86,76.31L365.93,94.86L366.00,114.40ZM365.04,114.40L365.11,133.94L365.18,152.49L365.25,169.14L365.33,183.04L365.39,193.51L365.39,200.00L365.39,202.20L365.58,202.54L366.02,202.68L366.47,202.54L366.65,202.20L366.65,200.00L366.65,193.51L366.72,183.04L366.80,169.14L366.87,152.49L366.94,133.94L367.01,114.40ZM366.05,114.40L366.12,94.86L366.19,76.31L366.27,59.66L366.34,45.76L366.41,35.29L366.41,28.80L366.41,26.60L366.59,26.26L367.04,26.12L367.48,26.26L367.67,26.60L367.67,28.80L367.67,35.29L367.73,45.76L367.81,59.66L367.88,76.31L367.95,94.86L368.02,114.40ZM367.06,114.40L367.13,133.94L367.21,152.49L367.28,169.14L367.35,183.04L367.42,193.51L367.42,200.00L367.42,202.20L367.60,202.54L368.05,202.68L368.49,202.54L368.68,202.20L368.68,200.00L368.68,193.51L368.75,183.04L368.82,169.14L368.89,152.49L368.96,133.94L369.04,114.40ZM368.07,114.40L368.14,94.86L368.22,76.31L368.29,59.66L368.36,45.76L368.43,35.29L368.43,28.80L368.43,26.60L368.61,26.26L369.06,26.12L369.51,26.26L369.69,26.60L369.69,28.80L369.69,35.29L369.76,45.76L369.83,59.66L369.90,76.31L369.98,94.86L370.05,114.40ZM369.08,114.40L369.16,133.94L369.23,152.49L369.30,169.14L369.37,183.04L369.44,193.51L369.44,200.00L369.44,202.20L369.63,202.54L370.07,202.68L370.52,202.54L370.70,202.20L370.70,200.00L370.70,193.51L370.77,183.04L370.84,169.14L370.91,152.49L370.99,133.94L371.06,114.40ZM370.10,114.40L370.17,94.86L370.24,76.31L370.31,59.66L370.39,45.76L370.45,35.29L370.45,28.80L370.45,26.60L370.64,26.26L371.08,26.12L371.53,26.26L371.71,26.60L371.71,28.80L371.71,35.29L371.78,45.76L371.85,59.66L371.93,76.31L372.00,94.86L372.07,114.40ZM371.11,114.40L371.18,133.94L371.25,152.49L371.32,169.14L371.40,183.04L371.47,193.51L371.47,200.00L371.47,202.20L371.65,202.54L372.10,202.68L372.54,202.54L372.73,202.20L372.73,200.00L372.73,193.51L372.79,183.04L372.87,169.14L372.94,152.49L373.01,133.94L373.08,114.40ZM372.12,114.40L372.19,94.86L372.26,76.31L372.34,59.66L372.41,45.76L372.48,35.29L372.48,28.80L372.48,26.60L372.66,26.26L373.11,26.12L373.55,26.26L373.74,26.60L373.74,28.80L373.74,35.29L373.80,45.76L373.88,59.66L373.95,76.31L374.02,94.86L374.10,114.40ZM373.13,114.40L373.20,133.94L373.28,152.49L373.35,169.14L373.42,183.04L373.49,193.51L373.49,200.00L373.49,202.20L373.67,202.54L374.12,202.68L374.56,202.54L374.75,202.20L374.75,200.00L374.75,193.51L374.82,183.04L374.89,169.14L374.96,152.49L375.03,133.94L375.11,114.40ZM374.14,114.40L374.21,94.86L374.29,76.31L374.36,59.66L374.43,45.76L374.50,35.29L374.50,28.80L374.50,26.60L374.69,26.26L375.13,26.12L375.58,26.26L375.76,26.60L375.76,28.80L375.76,35.29L375.83,45.76L375.90,59.66L375.97,76.31L376.05,94.86L376.12,114.40ZM375.15,114.40L375.23,133.94L375.30,152.49L375.37,169.14L375.44,183.04L375.51,193.51L375.51,200.00L375.51,202.20L375.70,202.54L376.14,202.68L376.59,202.54L376.77,202.20L376.77,200.00L376.77,193.51L376.84,183.04L376.91,169.14L376.99,152.49L377.06,133.94L377.13,114.40ZM376.17,114.40L376.24,94.86L376.31,76.31L376.38,59.66L376.46,45.76L376.52,35.29L376.52,28.80L376.52,26.60L376.71,26.26L377.15,26.12L377.60,26.26L377.78,26.60L377.78,28.80L377.78,35.29L377.85,45.76L377.92,59.66L378.00,76.31L378.07,94.86L378.14,114.40ZM377.18,114.40L377.25,133.94L377.32,152.49L377.40,169.14L377.47,183.04L377.54,193.51L377.54,200.00L377.54,202.20L377.72,202.54L378.17,202.68L378.61,202.54L378.80,202.20L378.80,200.00L378.80,193.51L378.86,183.04L378.94,169.14L379.01,152.49L379.08,133.94L379.15,114.40ZM378.19,114.40L378.26,94.86L378.33,76.31L378.41,59.66L378.48,45.76L378.55,35.29L378.55,28.80L378.55,26.60L378.73,26.26L379.18,26.12L379.62,26.26L379.81,26.60L379.81,28.80L379.81,35.29L379.88,45.76L379.95,59.66L380.02,76.31L380.09,94.86L380.17,114.40ZM379.20,114.40L379.27,133.94L379.35,152.49L379.42,169.14L379.49,183.04L379.56,193.51L379.56,200.00L379.56,202.20L379.74,202.54L380.19,202.68L380.63,202.54L380.82,202.20L380.82,200.00L380.82,193.51L380.89,183.04L380.96,169.14L381.03,152.49L381.10,133.94L381.18,114.40ZM380.21,114.40L380.29,94.86L380.36,76.31L380.43,59.66L380.50,45.76L380.57,35.29L380.57,28.80L380.57,26.60L380.76,26.26L381.20,26.12L381.65,26.26L381.83,26.60L381.83,28.80L381.83,35.29L381.90,45.76L381.97,59.66L382.04,76.31L382.12,94.86L382.19,114.40ZM381.22,114.40L381.30,133.94L381.37,152.49L381.44,169.14L381.51,183.04L381.58,193.51L381.58,200.00L381.58,202.20L381.77,202.54L382.21,202.68L382.66,202.54L382.84,202.20L382.84,200.00L382.84,193.51L382.91,183.04L382.98,169.14L383.06,152.49L383.13,133.94L383.20,114.40ZM382.24,114.40L382.31,94.86L382.38,76.31L382.45,59.66L382.53,45.76L382.59,35.29L382.59,28.80L382.59,26.60L382.78,26.26L383.22,26.12L383.67,26.26L383.85,26.60L383.85,28.80L383.85,35.29L383.92,45.76L383.99,59.66L384.07,76.31L384.14,94.86L384.21,114.40ZM383.25,114.40L383.32,133.94L383.39,152.49L383.47,169.14L383.54,183.04L383.61,193.51L383.61,200.00L383.61,202.20L383.79,202.54L384.24,202.68L384.68,202.54L384.87,202.20L384.87,200.00L384.87,193.51L384.93,183.04L385.01,169.14L385.08,152.49L385.15,133.94L385.22,114.40ZM384.26,114.40L384.33,94.86L384.40,76.31L384.48,59.66L384.55,45.76L384.62,35.29L384.62,28.80L384.62,26.60L384.80,26.26L385.25,26.12L385.69,26.26L385.88,26.60L385.88,28.80L385.88,35.29L385.95,45.76L386.02,59.66L386.09,76.31L386.16,94.86L386.24,114.40ZM385.27,114.40L385.34,133.94L385.42,152.49L385.49,169.14L385.56,183.04L385.63,193.51L385.63,200.00L385.63,202.20L385.81,202.54L386.26,202.68L386.71,202.54L386.89,202.20L386.89,200.00L386.89,193.51L386.96,183.04L387.03,169.14L387.10,152.49L387.18,133.94L387.25,114.40ZM386.28,114.40L386.36,94.86L386.43,76.31L386.50,59.66L386.57,45.76L386.64,35.29L386.64,28.80L386.64,26.60L386.83,26.26L387.27,26.12L387.72,26.26L387.90,26.60L387.90,28.80L387.90,35.29L387.97,45.76L388.04,59.66L388.11,76.31L388.19,94.86L388.26,114.40ZM387.30,114.40L387.37,133.94L387.44,152.49L387.51,169.14L387.59,183.04L387.65,193.51L387.65,200.00L387.65,202.20L387.84,202.54L388.28,202.68L388.73,202.54L388.91,202.20L388.91,200.00L388.91,193.51L388.98,183.04L389.05,169.14L389.13,152.49L389.20,133.94L389.27,114.40ZM388.31,114.40L388.38,94.86L388.45,76.31L388.52,59.66L388.60,45.76L388.66,35.29L388.66,28.80L388.66,26.60L388.85,26.26L389.29,26.12L389.74,26.26L389.92,26.60L389.92,28.80L389.92,35.29L389.99,45.76L390.07,59.66L390.14,76.31L390.21,94.86L390.28,114.40ZM389.32,114.40L389.39,133.94L389.46,152.49L389.54,169.14L389.61,183.04L389.68,193.51L389.68,200.00L389.68,202.20L389.86,202.54L390.31,202.68L390.75,202.54L390.94,202.20L390.94,200.00L390.94,193.51L391.00,183.04L391.08,169.14L391.15,152.49L391.22,133.94L391.29,114.40ZM390.33,114.40L390.40,94.86L390.48,76.31L390.55,59.66L390.62,45.76L390.69,35.29L390.69,28.80L390.69,26.60L390.87,26.26L391.32,26.12L391.76,26.26L391.95,26.60L391.95,28.80L391.95,35.29L392.02,45.76L392.09,59.66L392.16,76.31L392.23,94.86L392.31,114.40ZM391.34,114.40L391.41,133.94L391.49,152.49L391.56,169.14L391.63,183.04L391.70,193.51L391.70,200.00L391.70,202.20L391.88,202.54L392.33,202.68L392.78,202.54L392.96,202.20L392.96,200.00L392.96,193.51L393.03,183.04L393.10,169.14L393.17,152.49L393.25,133.94L393.32,114.40ZM392.35,114.40L392.43,94.86L392.50,76.31L392.57,59.66L392.64,45.76L392.71,35.29L392.71,28.80L392.71,26.60L392.90,26.26L393.34,26.12L393.79,26.26L393.97,26.60L393.97,28.80L393.97,35.29L394.04,45.76L394.11,59.66L394.19,76.31L394.26,94.86L394.33,114.40ZM393.37,114.40L393.44,133.94L393.51,152.49L393.58,169.14L393.66,183.04L393.72,193.51L393.72,200.00L393.72,202.20L393.91,202.54L394.35,202.68L394.80,202.54L394.98,202.20L394.98,200.00L394.98,193.51L395.05,183.04L395.12,169.14L395.20,152.49L395.27,133.94L395.34,114.40ZM394.38,114.40L394.45,94.86L394.52,76.31L394.60,59.66L394.67,45.76L394.74,35.29L394.74,28.80L394.74,26.60L394.92,26.26L395.37,26.12L395.81,26.26L396.00,26.60L396.00,28.80L396.00,35.29L396.06,45.76L396.14,59.66L396.21,76.31L396.28,94.86L396.35,114.40ZM395.39,114.40L395.46,133.94L395.53,152.49L395.61,169.14L395.68,183.04L395.75,193.51L395.75,200.00L395.75,202.20L395.93,202.54L396.38,202.68L396.82,202.54L397.01,202.20L397.01,200.00L397.01,193.51L397.08,183.04L397.15,169.14L397.22,152.49L397.29,133.94L397.37,114.40ZM396.40,114.40L396.47,94.86L396.55,76.31L396.62,59.66L396.69,45.76L396.76,35.29L396.76,28.80L396.76,26.60L396.94,26.26L397.39,26.12L397.83,26.26L398.02,26.60L398.02,28.80L398.02,35.29L398.09,45.76L398.16,59.66L398.23,76.31L398.30,94.86L398.38,114.40ZM397.41,114.40L397.49,133.94L397.56,152.49L397.63,169.14L397.70,183.04L397.77,193.51L397.77,200.00L397.77,202.20L397.96,202.54L398.40,202.68L398.85,202.54L399.03,202.20L399.03,200.00L399.03,193.51L399.10,183.04L399.17,169.14L399.24,152.49L399.32,133.94L399.39,114.40ZM398.42,114.40L398.50,94.86L398.57,76.31L398.64,59.66L398.71,45.76L398.78,35.29L398.78,28.80L398.78,26.60L398.97,26.26L399.41,26.12L399.86,26.26L400.04,26.60L400.04,28.80L400.04,35.29L400.11,45.76L400.18,59.66L400.26,76.31L400.33,94.86L400.40,114.40ZM399.44,114.40L399.51,133.94L399.58,152.49L399.65,169.14L399.73,183.04L399.79,193.51L399.79,200.00L399.79,202.20L399.98,202.54L400.42,202.68L400.87,202.54L401.05,202.20L401.05,200.00L401.05,193.51L401.12,183.04L401.19,169.14L401.27,152.49L401.34,133.94L401.41,114.40ZM400.45,114.40L400.52,94.86L400.59,76.31L400.67,59.66L400.74,45.76L400.81,35.29L400.81,28.80L400.81,26.60L400.99,26.26L401.44,26.12L401.88,26.26L402.07,26.60L402.07,28.80L402.07,35.29L402.13,45.76L402.21,59.66L402.28,76.31L402.35,94.86L402.42,114.40ZM401.46,114.40L401.53,133.94L401.60,152.49L401.68,169.14L401.75,183.04L401.82,193.51L401.82,200.00L401.82,202.20L402.00,202.54L402.45,202.68L402.89,202.54L403.08,202.20L403.08,200.00L403.08,193.51L403.15,183.04L403.22,169.14L403.29,152.49L403.36,133.94L403.44,114.40ZM402.47,114.40L402.54,94.86L402.62,76.31L402.69,59.66L402.76,45.76L402.83,35.29L402.83,28.80L402.83,26.60L403.01,26.26L403.46,26.12L403.90,26.26L404.09,26.60L404.09,28.80L404.09,35.29L404.16,45.76L404.23,59.66L404.30,76.31L404.38,94.86L404.45,114.40ZM403.48,114.40L403.56,133.94L403.63,152.49L403.70,169.14L403.77,183.04L403.84,193.51L403.84,200.00L403.84,202.20L404.03,202.54L404.47,202.68L404.92,202.54L405.10,202.20L405.10,200.00L405.10,193.51L405.17,183.04L405.24,169.14L405.31,152.49L405.39,133.94L405.46,114.40ZM404.49,114.40L404.57,94.86L404.64,76.31L404.71,59.66L404.79,45.76L404.85,35.29L404.85,28.80L404.85,26.60L405.04,26.26L405.48,26.12L405.93,26.26L406.11,26.60L406.11,28.80L406.11,35.29L406.18,45.76L406.25,59.66L406.33,76.31L406.40,94.86L406.47,114.40ZM405.51,114.40L405.58,133.94L405.65,152.49L405.72,169.14L405.80,183.04L405.86,193.51L405.86,200.00L405.86,202.20L406.05,202.54L406.49,202.68L406.94,202.54L407.12,202.20L407.12,200.00L407.12,193.51L407.19,183.04L407.27,169.14L407.34,152.49L407.41,133.94L407.48,114.40ZM406.52,114.40L406.59,94.86L406.66,76.31L406.74,59.66L406.81,45.76L406.88,35.29L406.88,28.80L406.88,26.60L407.06,26.26L407.51,26.12L407.95,26.26L408.14,26.60L408.14,28.80L408.14,35.29L408.20,45.76L408.28,59.66L408.35,76.31L408.42,94.86L408.49,114.40ZM407.53,114.40L407.60,133.94L407.68,152.49L407.75,169.14L407.82,183.04L407.89,193.51L407.89,200.00L407.89,202.20L408.07,202.54L408.52,202.68L408.96,202.54L409.15,202.20L409.15,200.00L409.15,193.51L409.22,183.04L409.29,169.14L409.36,152.49L409.43,133.94L409.51,114.40ZM408.54,114.40L408.61,94.86L408.69,76.31L408.76,59.66L408.83,45.76L408.90,35.29L408.90,28.80L408.90,26.60L409.08,26.26L409.53,26.12L409.98,26.26L410.16,26.60L410.16,28.80L410.16,35.29L410.23,45.76L410.30,59.66L410.37,76.31L410.45,94.86L410.52,114.40ZM409.55,114.40L409.63,133.94L409.70,152.49L409.77,169.14L409.84,183.04L409.91,193.51L409.91,200.00L409.91,202.20L410.10,202.54L410.54,202.68L410.99,202.54L411.17,202.20L411.17,200.00L411.17,193.51L411.24,183.04L411.31,169.14L411.38,152.49L411.46,133.94L411.53,114.40ZM410.57,114.40L410.64,94.86L410.71,76.31L410.78,59.66L410.86,45.76L410.92,35.29L410.92,28.80L410.92,26.60L411.11,26.26L411.55,26.12L412.00,26.26L412.18,26.60L412.18,28.80L412.18,35.29L412.25,45.76L412.32,59.66L412.40,76.31L412.47,94.86L412.54,114.40ZM411.58,114.40L411.65,133.94L411.72,152.49L411.79,169.14L411.87,183.04L411.94,193.51L411.94,200.00L411.94,202.20L412.12,202.54L412.57,202.68L413.01,202.54L413.20,202.20L413.20,200.00L413.20,193.51L413.26,183.04L413.34,169.14L413.41,152.49L413.48,133.94L413.55,114.40ZM412.59,114.40L412.66,94.86L412.73,76.31L412.81,59.66L412.88,45.76L412.95,35.29L412.95,28.80L412.95,26.60L413.13,26.26L413.58,26.12L414.02,26.26L414.21,26.60L414.21,28.80L414.21,35.29L414.27,45.76L414.35,59.66L414.42,76.31L414.49,94.86L414.57,114.40ZM413.60,114.40L413.67,133.94L413.75,152.49L413.82,169.14L413.89,183.04L413.96,193.51L413.96,200.00L413.96,202.20L414.14,202.54L414.59,202.68L415.03,202.54L415.22,202.20L415.22,200.00L415.22,193.51L415.29,183.04L415.36,169.14L415.43,152.49L415.50,133.94L415.58,114.40ZM414.61,114.40L414.68,94.86L414.76,76.31L414.83,59.66L414.90,45.76L414.97,35.29L414.97,28.80L414.97,26.60L415.16,26.26L415.60,26.12L416.05,26.26L416.23,26.60L416.23,28.80L416.23,35.29L416.30,45.76L416.37,59.66L416.44,76.31L416.52,94.86L416.59,114.40ZM415.62,114.40L415.70,133.94L415.77,152.49L415.84,169.14L415.91,183.04L415.98,193.51L415.98,200.00L415.98,202.20L416.17,202.54L416.61,202.68L417.06,202.54L417.24,202.20L417.24,200.00L417.24,193.51L417.31,183.04L417.38,169.14L417.46,152.49L417.53,133.94L417.60,114.40ZM416.64,114.40L416.71,94.86L416.78,76.31L416.85,59.66L416.93,45.76L416.99,35.29L416.99,28.80L416.99,26.60L417.18,26.26L417.62,26.12L418.07,26.26L418.25,26.60L418.25,28.80L418.25,35.29L418.32,45.76L418.39,59.66L418.47,76.31L418.54,94.86L418.61,114.40ZM417.65,114.40L417.72,133.94L417.79,152.49L417.87,169.14L417.94,183.04L418.01,193.51L418.01,200.00L418.01,202.20L418.19,202.54L418.64,202.68L419.08,202.54L419.27,202.20L419.27,200.00L419.27,193.51L419.33,183.04L419.41,169.14L419.48,152.49L419.55,133.94L419.62,114.40ZM418.66,114.40L418.73,94.86L418.80,76.31L418.88,59.66L418.95,45.76L419.02,35.29L419.02,28.80L419.02,26.60L419.20,26.26L419.65,26.12L420.09,26.26L420.28,26.60L420.28,28.80L420.28,35.29L420.35,45.76L420.42,59.66L420.49,76.31L420.56,94.86L420.64,114.40ZM419.67,114.40L419.74,133.94L419.82,152.49L419.89,169.14L419.96,183.04L420.03,193.51L420.03,200.00L420.03,202.20L420.21,202.54L420.66,202.68L421.10,202.54L421.29,202.20L421.29,200.00L421.29,193.51L421.36,183.04L421.43,169.14L421.50,152.49L421.57,133.94L421.65,114.40ZM420.68,114.40L420.76,94.86L420.83,76.31L420.90,59.66L420.97,45.76L421.04,35.29L421.04,28.80L421.04,26.60L421.23,26.26L421.67,26.12L422.12,26.26L422.30,26.60L422.30,28.80L422.30,35.29L422.37,45.76L422.44,59.66L422.51,76.31L422.59,94.86L422.66,114.40ZM421.69,114.40L421.77,133.94L421.84,152.49L421.91,169.14L421.98,183.04L422.05,193.51L422.05,200.00L422.05,202.20L422.24,202.54L422.68,202.68L423.13,202.54L423.31,202.20L423.31,200.00L423.31,193.51L423.38,183.04L423.45,169.14L423.53,152.49L423.60,133.94L423.67,114.40ZM422.71,114.40L422.78,94.86L422.85,76.31L422.92,59.66L423.00,45.76L423.06,35.29L423.06,28.80L423.06,26.60L423.25,26.26L423.69,26.12L424.14,26.26L424.32,26.60L424.32,28.80L424.32,35.29L424.39,45.76L424.46,59.66L424.54,76.31L424.61,94.86L424.68,114.40ZM423.72,114.40L423.79,133.94L423.86,152.49L423.94,169.14L424.01,183.04L424.08,193.51L424.08,200.00L424.08,202.20L424.26,202.54L424.71,202.68L425.15,202.54L425.34,202.20L425.34,200.00L425.34,193.51L425.40,183.04L425.48,169.14L425.55,152.49L425.62,133.94L425.69,114.40ZM424.73,114.40L424.80,94.86L424.87,76.31L424.95,59.66L425.02,45.76L425.09,35.29L425.09,28.80L425.09,26.60L425.27,26.26L425.72,26.12L426.16,26.26L426.35,26.60L426.35,28.80L426.35,35.29L426.42,45.76L426.49,59.66L426.56,76.31L426.63,94.86L426.71,114.40ZM425.74,114.40L425.81,133.94L425.89,152.49L425.96,169.14L426.03,183.04L426.10,193.51L426.10,200.00L426.10,202.20L426.28,202.54L426.73,202.68L427.18,202.54L427.36,202.20L427.36,200.00L427.36,193.51L427.43,183.04L427.50,169.14L427.57,152.49L427.65,133.94L427.72,114.40ZM426.75,114.40L426.83,94.86L426.90,76.31L426.97,59.66L427.04,45.76L427.11,35.29L427.11,28.80L427.11,26.60L427.30,26.26L427.74,26.12L428.19,26.26L428.37,26.60L428.37,28.80L428.37,35.29L428.44,45.76L428.51,59.66L428.58,76.31L428.66,94.86L428.73,114.40ZM427.77,114.40L427.84,133.94L427.91,152.49L427.98,169.14L428.06,183.04L428.12,193.51L428.12,200.00L428.12,202.20L428.31,202.54L428.75,202.68L429.20,202.54L429.38,202.20L429.38,200.00L429.38,193.51L429.45,183.04L429.52,169.14L429.60,152.49L429.67,133.94L429.74,114.40ZM428.78,114.40L428.85,94.86L428.92,76.31L428.99,59.66L429.07,45.76L429.13,35.29L429.13,28.80L429.13,26.60L429.32,26.26L429.76,26.12L430.21,26.26L430.39,26.60L430.39,28.80L430.39,35.29L430.46,45.76L430.54,59.66L430.61,76.31L430.68,94.86L430.75,114.40ZM429.79,114.40L429.86,133.94L429.93,152.49L430.01,169.14L430.08,183.04L430.15,193.51L430.15,200.00L430.15,202.20L430.33,202.54L430.78,202.68L431.22,202.54L431.41,202.20L431.41,200.00L431.41,193.51L431.47,183.04L431.55,169.14L431.62,152.49L431.69,133.94L431.76,114.40ZM430.80,114.40L430.87,94.86L430.95,76.31L431.02,59.66L431.09,45.76L431.16,35.29L431.16,28.80L431.16,26.60L431.34,26.26L431.79,26.12L432.23,26.26L432.42,26.60L432.42,28.80L432.42,35.29L432.49,45.76L432.56,59.66L432.63,76.31L432.70,94.86L432.78,114.40ZM431.81,114.40L431.88,133.94L431.96,152.49L432.03,169.14L432.10,183.04L432.17,193.51L432.17,200.00L432.17,202.20L432.35,202.54L432.80,202.68L433.25,202.54L433.43,202.20L433.43,200.00L433.43,193.51L433.50,183.04L433.57,169.14L433.64,152.49L433.72,133.94L433.79,114.40ZM432.82,114.40L432.90,94.86L432.97,76.31L433.04,59.66L433.11,45.76L433.18,35.29L433.18,28.80L433.18,26.60L433.37,26.26L433.81,26.12L434.26,26.26L434.44,26.60L434.44,28.80L434.44,35.29L434.51,45.76L434.58,59.66L434.66,76.31L434.73,94.86L434.80,114.40ZM433.84,114.40L433.91,133.94L433.98,152.49L434.05,169.14L434.13,183.04L434.19,193.51L434.19,200.00L434.19,202.20L434.38,202.54L434.82,202.68L435.27,202.54L435.45,202.20L435.45,200.00L435.45,193.51L435.52,183.04L435.59,169.14L435.67,152.49L435.74,133.94L435.81,114.40ZM434.85,114.40L434.92,94.86L434.99,76.31L435.07,59.66L435.14,45.76L435.21,35.29L435.21,28.80L435.21,26.60L435.39,26.26L435.84,26.12L436.28,26.26L436.47,26.60L436.47,28.80L436.47,35.29L436.53,45.76L436.61,59.66L436.68,76.31L436.75,94.86L436.82,114.40ZM435.86,114.40L435.93,133.94L436.00,152.49L436.08,169.14L436.15,183.04L436.22,193.51L436.22,200.00L436.22,202.20L436.40,202.54L436.85,202.68L437.29,202.54L437.48,202.20L437.48,200.00L437.48,193.51L437.55,183.04L437.62,169.14L437.69,152.49L437.76,133.94L437.84,114.40ZM436.87,114.40L436.94,94.86L437.02,76.31L437.09,59.66L437.16,45.76L437.23,35.29L437.23,28.80L437.23,26.60L437.41,26.26L437.86,26.12L438.30,26.26L438.49,26.60L438.49,28.80L438.49,35.29L438.56,45.76L438.63,59.66L438.70,76.31L438.77,94.86L438.85,114.40ZM437.88,114.40L437.96,133.94L438.03,152.49L438.10,169.14L438.17,183.04L438.24,193.51L438.24,200.00L438.24,202.20L438.43,202.54L438.87,202.68L439.32,202.54L439.50,202.20L439.50,200.00L439.50,193.51L439.57,183.04L439.64,169.14L439.71,152.49L439.79,133.94L439.86,114.40ZM438.89,114.40L438.97,94.86L439.04,76.31L439.11,59.66L439.18,45.76L439.25,35.29L439.25,28.80L439.25,26.60L439.44,26.26L439.88,26.12L440.33,26.26L440.51,26.60L440.51,28.80L440.51,35.29L440.58,45.76L440.65,59.66L440.73,76.31L440.80,94.86L440.87,114.40ZM439.91,114.40L439.98,133.94L440.05,152.49L440.12,169.14L440.20,183.04L440.26,193.51L440.26,200.00L440.26,202.20L440.45,202.54L440.89,202.68L441.34,202.54L441.52,202.20L441.52,200.00L441.52,193.51L441.59,183.04L441.66,169.14L441.74,152.49L441.81,133.94L441.88,114.40ZM440.92,114.40L440.99,94.86L441.06,76.31L441.14,59.66L441.21,45.76L441.28,35.29L441.28,28.80L441.28,26.60L441.46,26.26L441.91,26.12L442.35,26.26L442.54,26.60L442.54,28.80L442.54,35.29L442.60,45.76L442.68,59.66L442.75,76.31L442.82,94.86L442.89,114.40ZM441.93,114.40L442.00,133.94L442.07,152.49L442.15,169.14L442.22,183.04L442.29,193.51L442.29,200.00L442.29,202.20L442.47,202.54L442.92,202.68L443.36,202.54L443.55,202.20L443.55,200.00L443.55,193.51L443.62,183.04L443.69,169.14L443.76,152.49L443.83,133.94L443.91,114.40ZM442.94,114.40L443.01,94.86L443.09,76.31L443.16,59.66L443.23,45.76L443.30,35.29L443.30,28.80L443.30,26.60L443.48,26.26L443.93,26.12L444.37,26.26L444.56,26.60L444.56,28.80L444.56,35.29L444.63,45.76L444.70,59.66L444.77,76.31L444.85,94.86L444.92,114.40ZM443.95,114.40L444.03,133.94L444.10,152.49L444.17,169.14L444.24,183.04L444.31,193.51L444.31,200.00L444.31,202.20L444.50,202.54L444.94,202.68L445.39,202.54L445.57,202.20L445.57,200.00L445.57,193.51L445.64,183.04L445.71,169.14L445.78,152.49L445.86,133.94L445.93,114.40ZM444.96,114.40L445.04,94.86L445.11,76.31L445.18,59.66L445.26,45.76L445.32,35.29L445.32,28.80L445.32,26.60L445.51,26.26L445.95,26.12L446.40,26.26L446.58,26.60L446.58,28.80L446.58,35.29L446.65,45.76L446.72,59.66L446.80,76.31L446.87,94.86L446.94,114.40ZM445.98,114.40L446.05,133.94L446.12,152.49L446.19,169.14L446.27,183.04L446.33,193.51L446.33,200.00L446.33,202.20L446.52,202.54L446.96,202.68L447.41,202.54L447.59,202.20L447.59,200.00L447.59,193.51L447.66,183.04L447.74,169.14L447.81,152.49L447.88,133.94L447.95,114.40ZM446.99,114.40L447.06,94.86L447.13,76.31L447.21,59.66L447.28,45.76L447.35,35.29L447.35,28.80L447.35,26.60L447.53,26.26L447.98,26.12L448.42,26.26L448.61,26.60L448.61,28.80L448.61,35.29L448.67,45.76L448.75,59.66L448.82,76.31L448.89,94.86L448.96,114.40ZM448.00,114.40L448.07,133.94L448.15,152.49L448.22,169.14L448.29,183.04L448.36,193.51L448.36,200.00L448.36,202.20L448.54,202.54L448.99,202.68L449.43,202.54L449.62,202.20L449.62,200.00L449.62,193.51L449.69,183.04L449.76,169.14L449.83,152.49L449.90,133.94L449.98,114.40ZM449.01,114.40L449.08,94.86L449.16,76.31L449.23,59.66L449.30,45.76L449.37,35.29L449.37,28.80L449.37,26.60L449.55,26.26L450.00,26.12L450.45,26.26L450.63,26.60L450.63,28.80L450.63,35.29L450.70,45.76L450.77,59.66L450.84,76.31L450.92,94.86L450.99,114.40ZM450.02,114.40L450.10,133.94L450.17,152.49L450.24,169.14L450.31,183.04L450.38,193.51L450.38,200.00L450.38,202.20L450.57,202.54L451.01,202.68L451.46,202.54L451.64,202.20L451.64,200.00L451.64,193.51L451.71,183.04L451.78,169.14L451.85,152.49L451.93,133.94L452.00,114.40ZM451.04,114.40L451.11,94.86L451.18,76.31L451.25,59.66L451.33,45.76L451.39,35.29L451.39,28.80L451.39,26.60L451.58,26.26L452.02,26.12L452.47,26.26L452.65,26.60L452.65,28.80L452.65,35.29L452.72,45.76L452.79,59.66L452.87,76.31L452.94,94.86L453.01,114.40ZM452.05,114.40L452.12,133.94L452.19,152.49L452.26,169.14L452.34,183.04L452.41,193.51L452.41,200.00L452.41,202.20L452.59,202.54L453.04,202.68L453.48,202.54L453.67,202.20L453.67,200.00L453.67,193.51L453.73,183.04L453.81,169.14L453.88,152.49L453.95,133.94L454.02,114.40ZM453.06,114.40L453.13,94.86L453.20,76.31L453.28,59.66L453.35,45.76L453.42,35.29L453.42,28.80L453.42,26.60L453.60,26.26L454.05,26.12L454.49,26.26L454.68,26.60L454.68,28.80L454.68,35.29L454.74,45.76L454.82,59.66L454.89,76.31L454.96,94.86L455.04,114.40ZM454.07,114.40L454.14,133.94L454.22,152.49L454.29,169.14L454.36,183.04L454.43,193.51L454.43,200.00L454.43,202.20L454.61,202.54L455.06,202.68L455.50,202.54L455.69,202.20L455.69,200.00L455.69,193.51L455.76,183.04L455.83,169.14L455.90,152.49L455.97,133.94L456.05,114.40ZM455.08,114.40L455.15,94.86L455.23,76.31L455.30,59.66L455.37,45.76L455.44,35.29L455.44,28.80L455.44,26.60L455.63,26.26L456.07,26.12L456.52,26.26L456.70,26.60L456.70,28.80L456.70,35.29L456.77,45.76L456.84,59.66L456.91,76.31L456.99,94.86L457.06,114.40ZM456.09,114.40L456.17,133.94L456.24,152.49L456.31,169.14L456.38,183.04L456.45,193.51L456.45,200.00L456.45,202.20L456.64,202.54L457.08,202.68L457.53,202.54L457.71,202.20L457.71,200.00L457.71,193.51L457.78,183.04L457.85,169.14L457.93,152.49L458.00,133.94L458.07,114.40ZM457.11,114.40L457.18,94.86L457.25,76.31L457.32,59.66L457.40,45.76L457.46,35.29L457.46,28.80L457.46,26.60L457.65,26.26L458.09,26.12L458.54,26.26L458.72,26.60L458.72,28.80L458.72,35.29L458.79,45.76L458.86,59.66L458.94,76.31L459.01,94.86L459.08,114.40ZM458.12,114.40L458.19,133.94L458.26,152.49L458.34,169.14L458.41,183.04L458.48,193.51L458.48,200.00L458.48,202.20L458.66,202.54L459.11,202.68L459.55,202.54L459.74,202.20L459.74,200.00L459.74,193.51L459.80,183.04L459.88,169.14L459.95,152.49L460.02,133.94L460.09,114.40ZM459.13,114.40L459.20,94.86L459.27,76.31L459.35,59.66L459.42,45.76L459.49,35.29L459.49,28.80L459.49,26.60L459.67,26.26L460.12,26.12L460.56,26.26L460.75,26.60L460.75,28.80L460.75,35.29L460.82,45.76L460.89,59.66L460.96,76.31L461.03,94.86L461.11,114.40ZM460.14,114.40L460.21,133.94L460.29,152.49L460.36,169.14L460.43,183.04L460.50,193.51L460.50,200.00L460.50,202.20L460.68,202.54L461.13,202.68L461.57,202.54L461.76,202.20L461.76,200.00L461.76,193.51L461.83,183.04L461.90,169.14L461.97,152.49L462.04,133.94L462.12,114.40ZM461.15,114.40L461.23,94.86L461.30,76.31L461.37,59.66L461.44,45.76L461.51,35.29L461.51,28.80L461.51,26.60L461.70,26.26L462.14,26.12L462.59,26.26L462.77,26.60L462.77,28.80L462.77,35.29L462.84,45.76L462.91,59.66L462.98,76.31L463.06,94.86L463.13,114.40ZM462.16,114.40L462.24,133.94L462.31,152.49L462.38,169.14L462.45,183.04L462.52,193.51L462.52,200.00L462.52,202.20L462.71,202.54L463.15,202.68L463.60,202.54L463.78,202.20L463.78,200.00L463.78,193.51L463.85,183.04L463.92,169.14L464.00,152.49L464.07,133.94L464.14,114.40ZM463.18,114.40L463.25,94.86L463.32,76.31L463.39,59.66L463.47,45.76L463.53,35.29L463.53,28.80L463.53,26.60L463.72,26.26L464.16,26.12L464.61,26.26L464.79,26.60L464.79,28.80L464.79,35.29L464.86,45.76L464.93,59.66L465.01,76.31L465.08,94.86L465.15,114.40ZM464.19,114.40L464.26,133.94L464.33,152.49L464.41,169.14L464.48,183.04L464.55,193.51L464.55,200.00L464.55,202.20L464.73,202.54L465.18,202.68L465.62,202.54L465.81,202.20L465.81,200.00L465.81,193.51L465.87,183.04L465.95,169.14L466.02,152.49L466.09,133.94L466.16,114.40ZM465.20,114.40L465.27,94.86L465.34,76.31L465.42,59.66L465.49,45.76L465.56,35.29L465.56,28.80L465.56,26.60L465.74,26.26L466.19,26.12L466.63,26.26L466.82,26.60L466.82,28.80L466.82,35.29L466.89,45.76L466.96,59.66L467.03,76.31L467.10,94.86L467.18,114.40ZM466.21,114.40L466.28,133.94L466.36,152.49L466.43,169.14L466.50,183.04L466.57,193.51L466.57,200.00L466.57,202.20L466.75,202.54L467.20,202.68L467.65,202.54L467.83,202.20L467.83,200.00L467.83,193.51L467.90,183.04L467.97,169.14L468.04,152.49L468.12,133.94L468.19,114.40ZM467.22,114.40L467.30,94.86L467.37,76.31L467.44,59.66L467.51,45.76L467.58,35.29L467.58,28.80L467.58,26.60L467.77,26.26L468.21,26.12L468.66,26.26L468.84,26.60L468.84,28.80L468.84,35.29L468.91,45.76L468.98,59.66L469.05,76.31L469.13,94.86L469.20,114.40ZM468.24,114.40L468.31,133.94L468.38,152.49L468.45,169.14L468.53,183.04L468.59,193.51L468.59,200.00L468.59,202.20L468.78,202.54L469.22,202.68L469.67,202.54L469.85,202.20L469.85,200.00L469.85,193.51L469.92,183.04L469.99,169.14L470.07,152.49L470.14,133.94L470.21,114.40ZM469.25,114.40L469.32,94.86L469.39,76.31L469.46,59.66L469.54,45.76L469.61,35.29L469.61,28.80L469.61,26.60L469.79,26.26L470.24,26.12L470.68,26.26L470.87,26.60L470.87,28.80L470.87,35.29L470.93,45.76L471.01,59.66L471.08,76.31L471.15,94.86L471.22,114.40ZM470.26,114.40L470.33,133.94L470.40,152.49L470.48,169.14L470.55,183.04L470.62,193.51L470.62,200.00L470.62,202.20L470.80,202.54L471.25,202.68L471.69,202.54L471.88,202.20L471.88,200.00L471.88,193.51L471.94,183.04L472.02,169.14L472.09,152.49L472.16,133.94L472.23,114.40ZM471.27,114.40L471.34,94.86L471.42,76.31L471.49,59.66L471.56,45.76L471.63,35.29L471.63,28.80L471.63,26.60L471.81,26.26L472.26,26.12L472.70,26.26L472.89,26.60L472.89,28.80L472.89,35.29L472.96,45.76L473.03,59.66L473.10,76.31L473.17,94.86L473.25,114.40ZM472.28,114.40L472.35,133.94L472.43,152.49L472.50,169.14L472.57,183.04L472.64,193.51L472.64,200.00L472.64,202.20L472.82,202.54L473.27,202.68L473.72,202.54L473.90,202.20L473.90,200.00L473.90,193.51L473.97,183.04L474.04,169.14L474.11,152.49L474.19,133.94L474.26,114.40ZM473.29,114.40L473.37,94.86L473.44,76.31L473.51,59.66L473.58,45.76L473.65,35.29L473.65,28.80L473.65,26.60L473.84,26.26L474.28,26.12L474.73,26.26L474.91,26.60L474.91,28.80L474.91,35.29L474.98,45.76L475.05,59.66L475.12,76.31L475.20,94.86L475.27,114.40ZM474.31,114.40L474.38,133.94L474.45,152.49L474.52,169.14L474.60,183.04L474.66,193.51L474.66,200.00L474.66,202.20L474.85,202.54L475.29,202.68L475.74,202.54L475.92,202.20L475.92,200.00L475.92,193.51L475.99,183.04L476.06,169.14L476.14,152.49L476.21,133.94L476.28,114.40ZM475.32,114.40L475.39,94.86L475.46,76.31L475.54,59.66L475.61,45.76L475.68,35.29L475.68,28.80L475.68,26.60L475.86,26.26L476.31,26.12L476.75,26.26L476.94,26.60L476.94,28.80L476.94,35.29L477.00,45.76L477.08,59.66L477.15,76.31L477.22,94.86L477.29,114.40ZM476.33,114.40L476.40,133.94L476.47,152.49L476.55,169.14L476.62,183.04L476.69,193.51L476.69,200.00L476.69,202.20L476.87,202.54L477.32,202.68L477.76,202.54L477.95,202.20L477.95,200.00L477.95,193.51L478.02,183.04L478.09,169.14L478.16,152.49L478.23,133.94L478.31,114.40ZM477.34,114.40L477.41,94.86L477.49,76.31L477.56,59.66L477.63,45.76L477.70,35.29L477.70,28.80L477.70,26.60L477.88,26.26L478.33,26.12L478.77,26.26L478.96,26.60L478.96,28.80L478.96,35.29L479.03,45.76L479.10,59.66L479.17,76.31L479.24,94.86L479.32,114.40ZM478.35,114.40L478.43,133.94L478.50,152.49L478.57,169.14L478.64,183.04L478.71,193.51L478.71,200.00L478.71,202.20L478.90,202.54L479.34,202.68L479.79,202.54L479.97,202.20L479.97,200.00L479.97,193.51L480.04,183.04L480.11,169.14L480.18,152.49L480.26,133.94L480.33,114.40ZM479.36,114.40L479.44,94.86L479.51,76.31L479.58,59.66L479.65,45.76L479.72,35.29L479.72,28.80L479.72,26.60L479.91,26.26L480.35,26.12L480.80,26.26L480.98,26.60L480.98,28.80L480.98,35.29L481.05,45.76L481.12,59.66L481.20,76.31L481.27,94.86L481.34,114.40ZM480.38,114.40L480.45,133.94L480.52,152.49L480.59,169.14L480.67,183.04L480.73,193.51L480.73,200.00L480.73,202.20L480.92,202.54L481.36,202.68L481.81,202.54L481.99,202.20L481.99,200.00L481.99,193.51L482.06,183.04L482.13,169.14L482.21,152.49L482.28,133.94L482.35,114.40ZM481.39,114.40L481.46,94.86L481.53,76.31L481.61,59.66L481.68,45.76L481.75,35.29L481.75,28.80L481.75,26.60L481.93,26.26L482.38,26.12L482.82,26.26L483.01,26.60L483.01,28.80L483.01,35.29L483.07,45.76L483.15,59.66L483.22,76.31L483.29,94.86L483.36,114.40ZM482.40,114.40L482.47,133.94L482.54,152.49L482.62,169.14L482.69,183.04L482.76,193.51L482.76,200.00L482.76,202.20L482.94,202.54L483.39,202.68L483.83,202.54L484.02,202.20L484.02,200.00L484.02,193.51L484.09,183.04L484.16,169.14L484.23,152.49L484.30,133.94L484.38,114.40ZM483.41,114.40L483.48,94.86L483.56,76.31L483.63,59.66L483.70,45.76L483.77,35.29L483.77,28.80L483.77,26.60L483.95,26.26L484.40,26.12L484.84,26.26L485.03,26.60L485.03,28.80L485.03,35.29L485.10,45.76L485.17,59.66L485.24,76.31L485.32,94.86L485.39,114.40ZM484.42,114.40L484.50,133.94L484.57,152.49L484.64,169.14L484.71,183.04L484.78,193.51L484.78,200.00L484.78,202.20L484.97,202.54L485.41,202.68L485.86,202.54L486.04,202.20L486.04,200.00L486.04,193.51L486.11,183.04L486.18,169.14L486.25,152.49L486.33,133.94L486.40,114.40ZM485.43,114.40L485.51,94.86L485.58,76.31L485.65,59.66L485.73,45.76L485.79,35.29L485.79,28.80L485.79,26.60L485.98,26.26L486.42,26.12L486.87,26.26L487.05,26.60L487.05,28.80L487.05,35.29L487.12,45.76L487.19,59.66L487.27,76.31L487.34,94.86L487.41,114.40ZM486.45,114.40L486.52,133.94L486.59,152.49L486.66,169.14L486.74,183.04L486.80,193.51L486.80,200.00L486.80,202.20L486.99,202.54L487.43,202.68L487.88,202.54L488.06,202.20L488.06,200.00L488.06,193.51L488.13,183.04L488.21,169.14L488.28,152.49L488.35,133.94L488.42,114.40ZM487.46,114.40L487.53,94.86L487.60,76.31L487.68,59.66L487.75,45.76L487.82,35.29L487.82,28.80L487.82,26.60L488.00,26.26L488.45,26.12L488.89,26.26L489.08,26.60L489.08,28.80L489.08,35.29L489.14,45.76L489.22,59.66L489.29,76.31L489.36,94.86L489.43,114.40ZM488.47,114.40L488.54,133.94L488.62,152.49L488.69,169.14L488.76,183.04L488.83,193.51L488.83,200.00L488.83,202.20L489.01,202.54L489.46,202.68L489.90,202.54L490.09,202.20L490.09,200.00L490.09,193.51L490.16,183.04L490.23,169.14L490.30,152.49L490.37,133.94L490.45,114.40ZM489.48,114.40L489.55,94.86L489.63,76.31L489.70,59.66L489.77,45.76L489.84,35.29L489.84,28.80L489.84,26.60L490.02,26.26L490.47,26.12L490.92,26.26L491.10,26.60L491.10,28.80L491.10,35.29L491.17,45.76L491.24,59.66L491.31,76.31L491.39,94.86L491.46,114.40ZM490.49,114.40L490.57,133.94L490.64,152.49L490.71,169.14L490.78,183.04L490.85,193.51L490.85,200.00L490.85,202.20L491.04,202.54L491.48,202.68L491.93,202.54L492.11,202.20L492.11,200.00L492.11,193.51L492.18,183.04L492.25,169.14L492.32,152.49L492.40,133.94L492.47,114.40ZM491.51,114.40L491.58,94.86L491.65,76.31L491.72,59.66L491.80,45.76L491.86,35.29L491.86,28.80L491.86,26.60L492.05,26.26L492.49,26.12L492.94,26.26L493.12,26.60L493.12,28.80L493.12,35.29L493.19,45.76L493.26,59.66L493.34,76.31L493.41,94.86L493.48,114.40ZM492.52,114.40L492.59,133.94L492.66,152.49L492.73,169.14L492.81,183.04L492.88,193.51L492.88,200.00L492.88,202.20L493.06,202.54L493.51,202.68L493.95,202.54L494.14,202.20L494.14,200.00L494.14,193.51L494.20,183.04L494.28,169.14L494.35,152.49L494.42,133.94L494.49,114.40ZM493.53,114.40L493.60,94.86L493.67,76.31L493.75,59.66L493.82,45.76L493.89,35.29L493.89,28.80L493.89,26.60L494.07,26.26L494.52,26.12L494.96,26.26L495.15,26.60L495.15,28.80L495.15,35.29L495.21,45.76L495.29,59.66L495.36,76.31L495.43,94.86L495.51,114.40ZM494.54,114.40L494.61,133.94L494.69,152.49L494.76,169.14L494.83,183.04L494.90,193.51L494.90,200.00L494.90,202.20L495.08,202.54L495.53,202.68L495.97,202.54L496.16,202.20L496.16,200.00L496.16,193.51L496.23,183.04L496.30,169.14L496.37,152.49L496.44,133.94L496.52,114.40ZM495.55,114.40L495.62,94.86L495.70,76.31L495.77,59.66L495.84,45.76L495.91,35.29L495.91,28.80L495.91,26.60L496.10,26.26L496.54,26.12L496.99,26.26L497.17,26.60L497.17,28.80L497.17,35.29L497.24,45.76L497.31,59.66L497.38,76.31L497.46,94.86L497.53,114.40ZM496.56,114.40L496.64,133.94L496.71,152.49L496.78,169.14L496.85,183.04L496.92,193.51L496.92,200.00L496.92,202.20L497.11,202.54L497.55,202.68L498.00,202.54L498.18,202.20L498.18,200.00L498.18,193.51L498.25,183.04L498.32,169.14L498.40,152.49L498.47,133.94L498.54,114.40ZM497.58,114.40L497.65,94.86L497.72,76.31L497.79,59.66L497.87,45.76L497.93,35.29L497.93,28.80L497.93,26.60L498.12,26.26L498.56,26.12L499.01,26.26L499.19,26.60L499.19,28.80L499.19,35.29L499.26,45.76L499.33,59.66L499.41,76.31L499.48,94.86L499.55,114.40ZM498.59,114.40L498.66,133.94L498.73,152.49L498.81,169.14L498.88,183.04L498.95,193.51L498.95,200.00L498.95,202.20L499.13,202.54L499.58,202.68L500.02,202.54L500.21,202.20L500.21,200.00L500.21,193.51L500.27,183.04L500.35,169.14L500.42,152.49L500.49,133.94L500.56,114.40ZM499.60,114.40L499.67,94.86L499.74,76.31L499.82,59.66L499.89,45.76L499.96,35.29L499.96,28.80L499.96,26.60L500.14,26.26L500.59,26.12L501.03,26.26L501.22,26.60L501.22,28.80L501.22,35.29L501.29,45.76L501.36,59.66L501.43,76.31L501.50,94.86L501.58,114.40ZM500.61,114.40L500.68,133.94L500.76,152.49L500.83,169.14L500.90,183.04L500.97,193.51L500.97,200.00L500.97,202.20L501.15,202.54L501.60,202.68L502.04,202.54L502.23,202.20L502.23,200.00L502.23,193.51L502.30,183.04L502.37,169.14L502.44,152.49L502.51,133.94L502.59,114.40ZM501.62,114.40L501.70,94.86L501.77,76.31L501.84,59.66L501.91,45.76L501.98,35.29L501.98,28.80L501.98,26.60L502.17,26.26L502.61,26.12L503.06,26.26L503.24,26.60L503.24,28.80L503.24,35.29L503.31,45.76L503.38,59.66L503.45,76.31L503.53,94.86L503.60,114.40ZM502.63,114.40L502.71,133.94L502.78,152.49L502.85,169.14L502.92,183.04L502.99,193.51L502.99,200.00L502.99,202.20L503.18,202.54L503.62,202.68L504.07,202.54L504.25,202.20L504.25,200.00L504.25,193.51L504.32,183.04L504.39,169.14L504.47,152.49L504.54,133.94L504.61,114.40ZM503.65,114.40L503.72,94.86L503.79,76.31L503.86,59.66L503.94,45.76L504.00,35.29L504.00,28.80L504.00,26.60L504.19,26.26L504.63,26.12L505.08,26.26L505.26,26.60L505.26,28.80L505.26,35.29L505.33,45.76L505.40,59.66L505.48,76.31L505.55,94.86L505.62,114.40ZM504.66,114.40L504.73,133.94L504.80,152.49L504.88,169.14L504.95,183.04L505.02,193.51L505.02,200.00L505.02,202.20L505.20,202.54L505.65,202.68L506.09,202.54L506.28,202.20L506.28,200.00L506.28,193.51L506.34,183.04L506.42,169.14L506.49,152.49L506.56,133.94L506.63,114.40ZM505.67,114.40L505.74,94.86L505.81,76.31L505.89,59.66L505.96,45.76L506.03,35.29L506.03,28.80L506.03,26.60L506.21,26.26L506.66,26.12L507.10,26.26L507.29,26.60L507.29,28.80L507.29,35.29L507.36,45.76L507.43,59.66L507.50,76.31L507.57,94.86L507.65,114.40ZM506.68,114.40L506.75,133.94L506.83,152.49L506.90,169.14L506.97,183.04L507.04,193.51L507.04,200.00L507.04,202.20L507.22,202.54L507.67,202.68L508.12,202.54L508.30,202.20L508.30,200.00L508.30,193.51L508.37,183.04L508.44,169.14L508.51,152.49L508.59,133.94L508.66,114.40ZM507.69,114.40L507.77,94.86L507.84,76.31L507.91,59.66L507.98,45.76L508.05,35.29L508.05,28.80L508.05,26.60L508.24,26.26L508.68,26.12L509.13,26.26L509.31,26.60L509.31,28.80L509.31,35.29L509.38,45.76L509.45,59.66L509.52,76.31L509.60,94.86L509.67,114.40ZM508.71,114.40L508.78,133.94L508.85,152.49L508.92,169.14L509.00,183.04L509.06,193.51L509.06,200.00L509.06,202.20L509.25,202.54L509.69,202.68L510.14,202.54L510.32,202.20L510.32,200.00L510.32,193.51L510.39,183.04L510.46,169.14L510.54,152.49L510.61,133.94L510.68,114.40ZM509.72,114.40L509.79,94.86L509.86,76.31L509.93,59.66L510.01,45.76L510.07,35.29L510.07,28.80L510.07,26.60L510.26,26.26L510.70,26.12L511.15,26.26L511.33,26.60L511.33,28.80L511.33,35.29L511.40,45.76L511.48,59.66L511.55,76.31L511.62,94.86L511.69,114.40ZM510.73,114.40L510.80,133.94L510.87,152.49L510.95,169.14L511.02,183.04L511.09,193.51L511.09,200.00L511.09,202.20L511.27,202.54L511.72,202.68L512.16,202.54L512.35,202.20L512.35,200.00L512.35,193.51L512.41,183.04L512.49,169.14L512.56,152.49L512.63,133.94L512.70,114.40ZM511.74,114.40L511.81,94.86L511.89,76.31L511.96,59.66L512.03,45.76L512.10,35.29L512.10,28.80L512.10,26.60L512.28,26.26L512.73,26.12L513.17,26.26L513.36,26.60L513.36,28.80L513.36,35.29L513.43,45.76L513.50,59.66L513.57,76.31L513.64,94.86L513.72,114.40ZM512.75,114.40L512.82,133.94L512.90,152.49L512.97,169.14L513.04,183.04L513.11,193.51L513.11,200.00L513.11,202.20L513.29,202.54L513.74,202.68L514.19,202.54L514.37,202.20L514.37,200.00L514.37,193.51L514.44,183.04L514.51,169.14L514.58,152.49L514.66,133.94L514.73,114.40ZM513.76,114.40L513.84,94.86L513.91,76.31L513.98,59.66L514.05,45.76L514.12,35.29L514.12,28.80L514.12,26.60L514.31,26.26L514.75,26.12L515.20,26.26L515.38,26.60L515.38,28.80L515.38,35.29L515.45,45.76L515.52,59.66L515.59,76.31L515.67,94.86L515.74,114.40ZM514.78,114.40L514.85,133.94L514.92,152.49L514.99,169.14L515.07,183.04L515.13,193.51L515.13,200.00L515.13,202.20L515.32,202.54L515.76,202.68L516.21,202.54L516.39,202.20L516.39,200.00L516.39,193.51L516.46,183.04L516.53,169.14L516.61,152.49L516.68,133.94L516.75,114.40ZM515.79,114.40L515.86,94.86L515.93,76.31L516.01,59.66L516.08,45.76L516.15,35.29L516.15,28.80L516.15,26.60L516.33,26.26L516.78,26.12L517.22,26.26L517.41,26.60L517.41,28.80L517.41,35.29L517.47,45.76L517.55,59.66L517.62,76.31L517.69,94.86L517.76,114.40ZM516.80,114.40L516.87,133.94L516.94,152.49L517.02,169.14L517.09,183.04L517.16,193.51L517.16,200.00L517.16,202.20L517.34,202.54L517.79,202.68L518.23,202.54L518.42,202.20L518.42,200.00L518.42,193.51L518.49,183.04L518.56,169.14L518.63,152.49L518.70,133.94L518.78,114.40ZM517.81,114.40L517.88,94.86L517.96,76.31L518.03,59.66L518.10,45.76L518.17,35.29L518.17,28.80L518.17,26.60L518.35,26.26L518.80,26.12L519.24,26.26L519.43,26.60L519.43,28.80L519.43,35.29L519.50,45.76L519.57,59.66L519.64,76.31L519.71,94.86L519.79,114.40ZM518.82,114.40L518.90,133.94L518.97,152.49L519.04,169.14L519.11,183.04L519.18,193.51L519.18,200.00L519.18,202.20L519.37,202.54L519.81,202.68L520.26,202.54L520.44,202.20L520.44,200.00L520.44,193.51L520.51,183.04L520.58,169.14L520.65,152.49L520.73,133.94L520.80,114.40ZM519.83,114.40L519.91,94.86L519.98,76.31L520.05,59.66L520.12,45.76L520.19,35.29L520.19,28.80L520.19,26.60L520.38,26.26L520.82,26.12L521.27,26.26L521.45,26.60L521.45,28.80L521.45,35.29L521.52,45.76L521.59,59.66L521.67,76.31L521.74,94.86L521.81,114.40ZM520.85,114.40L520.92,133.94L520.99,152.49L521.06,169.14L521.14,183.04L521.20,193.51L521.20,200.00L521.20,202.20L521.39,202.54L521.83,202.68L522.28,202.54L522.46,202.20L522.46,200.00L522.46,193.51L522.53,183.04L522.60,169.14L522.68,152.49L522.75,133.94L522.82,114.40ZM521.86,114.40L521.93,94.86L522.00,76.31L522.08,59.66L522.15,45.76L522.22,35.29L522.22,28.80L522.22,26.60L522.40,26.26L522.85,26.12L523.29,26.26L523.48,26.60L523.48,28.80L523.48,35.29L523.54,45.76L523.62,59.66L523.69,76.31L523.76,94.86L523.83,114.40ZM522.87,114.40L522.94,133.94L523.01,152.49L523.09,169.14L523.16,183.04L523.23,193.51L523.23,200.00L523.23,202.20L523.41,202.54L523.86,202.68L524.30,202.54L524.49,202.20L524.49,200.00L524.49,193.51L524.56,183.04L524.63,169.14L524.70,152.49L524.77,133.94L524.85,114.40ZM523.88,114.40L523.95,94.86L524.03,76.31L524.10,59.66L524.17,45.76L524.24,35.29L524.24,28.80L524.24,26.60L524.42,26.26L524.87,26.12L525.31,26.26L525.50,26.60L525.50,28.80L525.50,35.29L525.57,45.76L525.64,59.66L525.71,76.31L525.79,94.86L525.86,114.40ZM524.89,114.40L524.97,133.94L525.04,152.49L525.11,169.14L525.18,183.04L525.25,193.51L525.25,200.00L525.25,202.20L525.44,202.54L525.88,202.68L526.33,202.54L526.51,202.20L526.51,200.00L526.51,193.51L526.58,183.04L526.65,169.14L526.72,152.49L526.80,133.94L526.87,114.40ZM525.90,114.40L525.98,94.86L526.05,76.31L526.12,59.66L526.20,45.76L526.26,35.29L526.26,28.80L526.26,26.60L526.45,26.26L526.89,26.12L527.34,26.26L527.52,26.60L527.52,28.80L527.52,35.29L527.59,45.76L527.66,59.66L527.74,76.31L527.81,94.86L527.88,114.40ZM526.92,114.40L526.99,133.94L527.06,152.49L527.13,169.14L527.21,183.04L527.27,193.51L527.27,200.00L527.27,202.20L527.46,202.54L527.90,202.68L528.35,202.54L528.53,202.20L528.53,200.00L528.53,193.51L528.60,183.04L528.68,169.14L528.75,152.49L528.82,133.94L528.89,114.40ZM527.93,114.40L528.00,94.86L528.07,76.31L528.15,59.66L528.22,45.76L528.29,35.29L528.29,28.80L528.29,26.60L528.47,26.26L528.92,26.12L529.36,26.26L529.55,26.60L529.55,28.80L529.55,35.29L529.61,45.76L529.69,59.66L529.76,76.31L529.83,94.86L529.90,114.40ZM528.94,114.40L529.01,133.94L529.09,152.49L529.16,169.14L529.23,183.04L529.30,193.51L529.30,200.00L529.30,202.20L529.48,202.54L529.93,202.68L530.37,202.54L530.56,202.20L530.56,200.00L530.56,193.51L530.63,183.04L530.70,169.14L530.77,152.49L530.84,133.94L530.92,114.40ZM529.95,114.40L530.02,94.86L530.10,76.31L530.17,59.66L530.24,45.76L530.31,35.29L530.31,28.80L530.31,26.60L530.49,26.26L530.94,26.12L531.39,26.26L531.57,26.60L531.57,28.80L531.57,35.29L531.64,45.76L531.71,59.66L531.78,76.31L531.86,94.86L531.93,114.40ZM530.96,114.40L531.04,133.94L531.11,152.49L531.18,169.14L531.25,183.04L531.32,193.51L531.32,200.00L531.32,202.20L531.51,202.54L531.95,202.68L532.40,202.54L532.58,202.20L532.58,200.00L532.58,193.51L532.65,183.04L532.72,169.14L532.79,152.49L532.87,133.94L532.94,114.40ZM531.98,114.40L532.05,94.86L532.12,76.31L532.19,59.66L532.27,45.76L532.33,35.29L532.33,28.80L532.33,26.60L532.52,26.26L532.96,26.12L533.41,26.26L533.59,26.60L533.59,28.80L533.59,35.29L533.66,45.76L533.73,59.66L533.81,76.31L533.88,94.86L533.95,114.40ZM532.99,114.40L533.06,133.94L533.13,152.49L533.20,169.14L533.28,183.04L533.35,193.51L533.35,200.00L533.35,202.20L533.53,202.54L533.98,202.68L534.42,202.54L534.61,202.20L534.61,200.00L534.61,193.51L534.67,183.04L534.75,169.14L534.82,152.49L534.89,133.94L534.96,114.40ZM534.00,114.40L534.07,94.86L534.14,76.31L534.22,59.66L534.29,45.76L534.36,35.29L534.36,28.80L534.36,26.60L534.54,26.26L534.99,26.12L535.43,26.26L535.62,26.60L535.62,28.80L535.62,35.29L535.68,45.76L535.76,59.66L535.83,76.31L535.90,94.86L535.98,114.40ZM535.01,114.40L535.08,133.94L535.16,152.49L535.23,169.14L535.30,183.04L535.37,193.51L535.37,200.00L535.37,202.20L535.55,202.54L536.00,202.68L536.44,202.54L536.63,202.20L536.63,200.00L536.63,193.51L536.70,183.04L536.77,169.14L536.84,152.49L536.91,133.94L536.99,114.40ZM536.02,114.40L536.09,94.86L536.17,76.31L536.24,59.66L536.31,45.76L536.38,35.29L536.38,28.80L536.38,26.60L536.57,26.26L537.01,26.12L537.46,26.26L537.64,26.60L537.64,28.80L537.64,35.29L537.71,45.76L537.78,59.66L537.85,76.31L537.93,94.86L538.00,114.40ZM537.03,114.40L537.11,133.94L537.18,152.49L537.25,169.14L537.32,183.04L537.39,193.51L537.39,200.00L537.39,202.20L537.58,202.54L538.02,202.68L538.47,202.54L538.65,202.20L538.65,200.00L538.65,193.51L538.72,183.04L538.79,169.14L538.87,152.49L538.94,133.94L539.01,114.40ZM538.05,114.40L538.12,94.86L538.19,76.31L538.26,59.66L538.34,45.76L538.40,35.29L538.40,28.80L538.40,26.60L538.59,26.26L539.03,26.12L539.48,26.26L539.66,26.60L539.66,28.80L539.66,35.29L539.73,45.76L539.80,59.66L539.88,76.31L539.95,94.86L540.02,114.40ZM539.06,114.40L539.13,133.94L539.20,152.49L539.28,169.14L539.35,183.04L539.42,193.51L539.42,200.00L539.42,202.20L539.60,202.54L540.05,202.68L540.49,202.54L540.68,202.20L540.68,200.00L540.68,193.51L540.74,183.04L540.82,169.14L540.89,152.49L540.96,133.94L541.03,114.40ZM540.07,114.40L540.14,94.86L540.21,76.31L540.29,59.66L540.36,45.76L540.43,35.29L540.43,28.80L540.43,26.60L540.61,26.26L541.06,26.12L541.50,26.26L541.69,26.60L541.69,28.80L541.69,35.29L541.76,45.76L541.83,59.66L541.90,76.31L541.97,94.86L542.05,114.40ZM541.08,114.40L541.15,133.94L541.23,152.49L541.30,169.14L541.37,183.04L541.44,193.51L541.44,200.00L541.44,202.20L541.62,202.54L542.07,202.68L542.51,202.54L542.70,202.20L542.70,200.00L542.70,193.51L542.77,183.04L542.84,169.14L542.91,152.49L542.98,133.94L543.06,114.40ZM542.09,114.40L542.17,94.86L542.24,76.31L542.31,59.66L542.38,45.76L542.45,35.29L542.45,28.80L542.45,26.60L542.64,26.26L543.08,26.12L543.53,26.26L543.71,26.60L543.71,28.80L543.71,35.29L543.78,45.76L543.85,59.66L543.92,76.31L544.00,94.86L544.07,114.40ZM543.10,114.40L543.18,133.94L543.25,152.49L543.32,169.14L543.39,183.04L543.46,193.51L543.46,200.00L543.46,202.20L543.65,202.54L544.09,202.68L544.54,202.54L544.72,202.20L544.72,200.00L544.72,193.51L544.79,183.04L544.86,169.14L544.94,152.49L545.01,133.94L545.08,114.40ZM544.12,114.40L544.19,94.86L544.26,76.31L544.33,59.66L544.41,45.76L544.47,35.29L544.47,28.80L544.47,26.60L544.66,26.26L545.10,26.12L545.55,26.26L545.73,26.60L545.73,28.80L545.73,35.29L545.80,45.76L545.87,59.66L545.95,76.31L546.02,94.86L546.09,114.40Z" fill="url(#aD)"/>
<rect x="239.50" y="31.85" width="101.50" height="7.66" fill="rgb(252,160,160)"/>
<rect x="239.50" y="189.29" width="101.50" height="8.06" fill="rgb(252,160,160)"/>
<path d="M239.85,31.85h1.3V39.51h-1.3ZM240.85,197.35h1.3V189.29h-1.3ZM241.85,31.85h1.3V39.51h-1.3ZM242.85,197.35h1.3V189.29h-1.3ZM243.85,31.85h1.3V39.51h-1.3ZM244.85,197.35h1.3V189.29h-1.3ZM245.85,31.85h1.3V39.51h-1.3ZM246.85,197.35h1.3V189.29h-1.3ZM247.85,31.85h1.3V39.51h-1.3ZM248.85,197.35h1.3V189.29h-1.3ZM249.85,31.85h1.3V39.51h-1.3ZM250.85,197.35h1.3V189.29h-1.3ZM251.85,31.85h1.3V39.51h-1.3ZM252.85,197.35h1.3V189.29h-1.3ZM253.85,31.85h1.3V39.51h-1.3ZM254.85,197.35h1.3V189.29h-1.3ZM255.85,31.85h1.3V39.51h-1.3ZM256.85,197.35h1.3V189.29h-1.3ZM257.85,31.85h1.3V39.51h-1.3ZM258.85,197.35h1.3V189.29h-1.3ZM259.85,31.85h1.3V39.51h-1.3ZM260.85,197.35h1.3V189.29h-1.3ZM261.85,31.85h1.3V39.51h-1.3ZM262.85,197.35h1.3V189.29h-1.3ZM263.85,31.85h1.3V39.51h-1.3ZM264.85,197.35h1.3V189.29h-1.3ZM265.85,31.85h1.3V39.51h-1.3ZM266.85,197.35h1.3V189.29h-1.3ZM267.85,31.85h1.3V39.51h-1.3ZM268.85,197.35h1.3V189.29h-1.3ZM269.85,31.85h1.3V39.51h-1.3ZM270.85,197.35h1.3V189.29h-1.3ZM271.85,31.85h1.3V39.51h-1.3ZM272.85,197.35h1.3V189.29h-1.3ZM273.85,31.85h1.3V39.51h-1.3ZM274.85,197.35h1.3V189.29h-1.3ZM275.85,31.85h1.3V39.51h-1.3ZM276.85,197.35h1.3V189.29h-1.3ZM277.85,31.85h1.3V39.51h-1.3ZM278.85,197.35h1.3V189.29h-1.3ZM279.85,31.85h1.3V39.51h-1.3ZM280.85,197.35h1.3V189.29h-1.3ZM281.85,31.85h1.3V39.51h-1.3ZM282.85,197.35h1.3V189.29h-1.3ZM283.85,31.85h1.3V39.51h-1.3ZM284.85,197.35h1.3V189.29h-1.3ZM285.85,31.85h1.3V39.51h-1.3ZM286.85,197.35h1.3V189.29h-1.3ZM287.85,31.85h1.3V39.51h-1.3ZM288.85,197.35h1.3V189.29h-1.3ZM289.85,31.85h1.3V39.51h-1.3ZM290.85,197.35h1.3V189.29h-1.3ZM291.85,31.85h1.3V39.51h-1.3ZM292.85,197.35h1.3V189.29h-1.3ZM293.85,31.85h1.3V39.51h-1.3ZM294.85,197.35h1.3V189.29h-1.3ZM295.85,31.85h1.3V39.51h-1.3ZM296.85,197.35h1.3V189.29h-1.3ZM297.85,31.85h1.3V39.51h-1.3ZM298.85,197.35h1.3V189.29h-1.3ZM299.85,31.85h1.3V39.51h-1.3ZM300.85,197.35h1.3V189.29h-1.3ZM301.85,31.85h1.3V39.51h-1.3ZM302.85,197.35h1.3V189.29h-1.3ZM303.85,31.85h1.3V39.51h-1.3ZM304.85,197.35h1.3V189.29h-1.3ZM305.85,31.85h1.3V39.51h-1.3ZM306.85,197.35h1.3V189.29h-1.3ZM307.85,31.85h1.3V39.51h-1.3ZM308.85,197.35h1.3V189.29h-1.3ZM309.85,31.85h1.3V39.51h-1.3ZM310.85,197.35h1.3V189.29h-1.3ZM311.85,31.85h1.3V39.51h-1.3ZM312.85,197.35h1.3V189.29h-1.3ZM313.85,31.85h1.3V39.51h-1.3ZM314.85,197.35h1.3V189.29h-1.3ZM315.85,31.85h1.3V39.51h-1.3ZM316.85,197.35h1.3V189.29h-1.3ZM317.85,31.85h1.3V39.51h-1.3ZM318.85,197.35h1.3V189.29h-1.3ZM319.85,31.85h1.3V39.51h-1.3ZM320.85,197.35h1.3V189.29h-1.3ZM321.85,31.85h1.3V39.51h-1.3ZM322.85,197.35h1.3V189.29h-1.3ZM323.85,31.85h1.3V39.51h-1.3ZM324.85,197.35h1.3V189.29h-1.3ZM325.85,31.85h1.3V39.51h-1.3ZM326.85,197.35h1.3V189.29h-1.3ZM327.85,31.85h1.3V39.51h-1.3ZM328.85,197.35h1.3V189.29h-1.3ZM329.85,31.85h1.3V39.51h-1.3ZM330.85,197.35h1.3V189.29h-1.3ZM331.85,31.85h1.3V39.51h-1.3ZM332.85,197.35h1.3V189.29h-1.3ZM333.85,31.85h1.3V39.51h-1.3ZM334.85,197.35h1.3V189.29h-1.3ZM335.85,31.85h1.3V39.51h-1.3ZM336.85,197.35h1.3V189.29h-1.3ZM337.85,31.85h1.3V39.51h-1.3ZM338.85,197.35h1.3V189.29h-1.3ZM339.85,31.85h1.3V39.51h-1.3Z" fill="rgb(250,55,65)"/>
<rect x="239.50" y="34.31" width="101.50" height="5.20" fill="rgb(170,250,170)"/>
<rect x="239.50" y="189.29" width="101.50" height="5.60" fill="rgb(170,250,170)"/>
<path d="M239.85,34.31h1.3V39.51h-1.3ZM240.85,194.89h1.3V189.29h-1.3ZM241.85,34.31h1.3V39.51h-1.3ZM242.85,194.89h1.3V189.29h-1.3ZM243.85,34.31h1.3V39.51h-1.3ZM244.85,194.89h1.3V189.29h-1.3ZM245.85,34.31h1.3V39.51h-1.3ZM246.85,194.89h1.3V189.29h-1.3ZM247.85,34.31h1.3V39.51h-1.3ZM248.85,194.89h1.3V189.29h-1.3ZM249.85,34.31h1.3V39.51h-1.3ZM250.85,194.89h1.3V189.29h-1.3ZM251.85,34.31h1.3V39.51h-1.3ZM252.85,194.89h1.3V189.29h-1.3ZM253.85,34.31h1.3V39.51h-1.3ZM254.85,194.89h1.3V189.29h-1.3ZM255.85,34.31h1.3V39.51h-1.3ZM256.85,194.89h1.3V189.29h-1.3ZM257.85,34.31h1.3V39.51h-1.3ZM258.85,194.89h1.3V189.29h-1.3ZM259.85,34.31h1.3V39.51h-1.3ZM260.85,194.89h1.3V189.29h-1.3ZM261.85,34.31h1.3V39.51h-1.3ZM262.85,194.89h1.3V189.29h-1.3ZM263.85,34.31h1.3V39.51h-1.3ZM264.85,194.89h1.3V189.29h-1.3ZM265.85,34.31h1.3V39.51h-1.3ZM266.85,194.89h1.3V189.29h-1.3ZM267.85,34.31h1.3V39.51h-1.3ZM268.85,194.89h1.3V189.29h-1.3ZM269.85,34.31h1.3V39.51h-1.3ZM270.85,194.89h1.3V189.29h-1.3ZM271.85,34.31h1.3V39.51h-1.3ZM272.85,194.89h1.3V189.29h-1.3ZM273.85,34.31h1.3V39.51h-1.3ZM274.85,194.89h1.3V189.29h-1.3ZM275.85,34.31h1.3V39.51h-1.3ZM276.85,194.89h1.3V189.29h-1.3ZM277.85,34.31h1.3V39.51h-1.3ZM278.85,194.89h1.3V189.29h-1.3ZM279.85,34.31h1.3V39.51h-1.3ZM280.85,194.89h1.3V189.29h-1.3ZM281.85,34.31h1.3V39.51h-1.3ZM282.85,194.89h1.3V189.29h-1.3ZM283.85,34.31h1.3V39.51h-1.3ZM284.85,194.89h1.3V189.29h-1.3ZM285.85,34.31h1.3V39.51h-1.3ZM286.85,194.89h1.3V189.29h-1.3ZM287.85,34.31h1.3V39.51h-1.3ZM288.85,194.89h1.3V189.29h-1.3ZM289.85,34.31h1.3V39.51h-1.3ZM290.85,194.89h1.3V189.29h-1.3ZM291.85,34.31h1.3V39.51h-1.3ZM292.85,194.89h1.3V189.29h-1.3ZM293.85,34.31h1.3V39.51h-1.3ZM294.85,194.89h1.3V189.29h-1.3ZM295.85,34.31h1.3V39.51h-1.3ZM296.85,194.89h1.3V189.29h-1.3ZM297.85,34.31h1.3V39.51h-1.3ZM298.85,194.89h1.3V189.29h-1.3ZM299.85,34.31h1.3V39.51h-1.3ZM300.85,194.89h1.3V189.29h-1.3ZM301.85,34.31h1.3V39.51h-1.3ZM302.85,194.89h1.3V189.29h-1.3ZM303.85,34.31h1.3V39.51h-1.3ZM304.85,194.89h1.3V189.29h-1.3ZM305.85,34.31h1.3V39.51h-1.3ZM306.85,194.89h1.3V189.29h-1.3ZM307.85,34.31h1.3V39.51h-1.3ZM308.85,194.89h1.3V189.29h-1.3ZM309.85,34.31h1.3V39.51h-1.3ZM310.85,194.89h1.3V189.29h-1.3ZM311.85,34.31h1.3V39.51h-1.3ZM312.85,194.89h1.3V189.29h-1.3ZM313.85,34.31h1.3V39.51h-1.3ZM314.85,194.89h1.3V189.29h-1.3ZM315.85,34.31h1.3V39.51h-1.3ZM316.85,194.89h1.3V189.29h-1.3ZM317.85,34.31h1.3V39.51h-1.3ZM318.85,194.89h1.3V189.29h-1.3ZM319.85,34.31h1.3V39.51h-1.3ZM320.85,194.89h1.3V189.29h-1.3ZM321.85,34.31h1.3V39.51h-1.3ZM322.85,194.89h1.3V189.29h-1.3ZM323.85,34.31h1.3V39.51h-1.3ZM324.85,194.89h1.3V189.29h-1.3ZM325.85,34.31h1.3V39.51h-1.3ZM326.85,194.89h1.3V189.29h-1.3ZM327.85,34.31h1.3V39.51h-1.3ZM328.85,194.89h1.3V189.29h-1.3ZM329.85,34.31h1.3V39.51h-1.3ZM330.85,194.89h1.3V189.29h-1.3ZM331.85,34.31h1.3V39.51h-1.3ZM332.85,194.89h1.3V189.29h-1.3ZM333.85,34.31h1.3V39.51h-1.3ZM334.85,194.89h1.3V189.29h-1.3ZM335.85,34.31h1.3V39.51h-1.3ZM336.85,194.89h1.3V189.29h-1.3ZM337.85,34.31h1.3V39.51h-1.3ZM338.85,194.89h1.3V189.29h-1.3ZM339.85,34.31h1.3V39.51h-1.3Z" fill="rgb(65,240,75)"/>
<rect x="239.50" y="36.68" width="101.50" height="2.83" fill="rgb(250,222,160)"/>
<rect x="239.50" y="189.29" width="101.50" height="3.23" fill="rgb(250,222,160)"/>
<path d="M239.85,36.68h1.3V39.51h-1.3ZM240.85,192.52h1.3V189.29h-1.3ZM241.85,36.68h1.3V39.51h-1.3ZM242.85,192.52h1.3V189.29h-1.3ZM243.85,36.68h1.3V39.51h-1.3ZM244.85,192.52h1.3V189.29h-1.3ZM245.85,36.68h1.3V39.51h-1.3ZM246.85,192.52h1.3V189.29h-1.3ZM247.85,36.68h1.3V39.51h-1.3ZM248.85,192.52h1.3V189.29h-1.3ZM249.85,36.68h1.3V39.51h-1.3ZM250.85,192.52h1.3V189.29h-1.3ZM251.85,36.68h1.3V39.51h-1.3ZM252.85,192.52h1.3V189.29h-1.3ZM253.85,36.68h1.3V39.51h-1.3ZM254.85,192.52h1.3V189.29h-1.3ZM255.85,36.68h1.3V39.51h-1.3ZM256.85,192.52h1.3V189.29h-1.3ZM257.85,36.68h1.3V39.51h-1.3ZM258.85,192.52h1.3V189.29h-1.3ZM259.85,36.68h1.3V39.51h-1.3ZM260.85,192.52h1.3V189.29h-1.3ZM261.85,36.68h1.3V39.51h-1.3ZM262.85,192.52h1.3V189.29h-1.3ZM263.85,36.68h1.3V39.51h-1.3ZM264.85,192.52h1.3V189.29h-1.3ZM265.85,36.68h1.3V39.51h-1.3ZM266.85,192.52h1.3V189.29h-1.3ZM267.85,36.68h1.3V39.51h-1.3ZM268.85,192.52h1.3V189.29h-1.3ZM269.85,36.68h1.3V39.51h-1.3ZM270.85,192.52h1.3V189.29h-1.3ZM271.85,36.68h1.3V39.51h-1.3ZM272.85,192.52h1.3V189.29h-1.3ZM273.85,36.68h1.3V39.51h-1.3ZM274.85,192.52h1.3V189.29h-1.3ZM275.85,36.68h1.3V39.51h-1.3ZM276.85,192.52h1.3V189.29h-1.3ZM277.85,36.68h1.3V39.51h-1.3ZM278.85,192.52h1.3V189.29h-1.3ZM279.85,36.68h1.3V39.51h-1.3ZM280.85,192.52h1.3V189.29h-1.3ZM281.85,36.68h1.3V39.51h-1.3ZM282.85,192.52h1.3V189.29h-1.3ZM283.85,36.68h1.3V39.51h-1.3ZM284.85,192.52h1.3V189.29h-1.3ZM285.85,36.68h1.3V39.51h-1.3ZM286.85,192.52h1.3V189.29h-1.3ZM287.85,36.68h1.3V39.51h-1.3ZM288.85,192.52h1.3V189.29h-1.3ZM289.85,36.68h1.3V39.51h-1.3ZM290.85,192.52h1.3V189.29h-1.3ZM291.85,36.68h1.3V39.51h-1.3ZM292.85,192.52h1.3V189.29h-1.3ZM293.85,36.68h1.3V39.51h-1.3ZM294.85,192.52h1.3V189.29h-1.3ZM295.85,36.68h1.3V39.51h-1.3ZM296.85,192.52h1.3V189.29h-1.3ZM297.85,36.68h1.3V39.51h-1.3ZM298.85,192.52h1.3V189.29h-1.3ZM299.85,36.68h1.3V39.51h-1.3ZM300.85,192.52h1.3V189.29h-1.3ZM301.85,36.68h1.3V39.51h-1.3ZM302.85,192.52h1.3V189.29h-1.3ZM303.85,36.68h1.3V39.51h-1.3ZM304.85,192.52h1.3V189.29h-1.3ZM305.85,36.68h1.3V39.51h-1.3ZM306.85,192.52h1.3V189.29h-1.3ZM307.85,36.68h1.3V39.51h-1.3ZM308.85,192.52h1.3V189.29h-1.3ZM309.85,36.68h1.3V39.51h-1.3ZM310.85,192.52h1.3V189.29h-1.3ZM311.85,36.68h1.3V39.51h-1.3ZM312.85,192.52h1.3V189.29h-1.3ZM313.85,36.68h1.3V39.51h-1.3ZM314.85,192.52h1.3V189.29h-1.3ZM315.85,36.68h1.3V39.51h-1.3ZM316.85,192.52h1.3V189.29h-1.3ZM317.85,36.68h1.3V39.51h-1.3ZM318.85,192.52h1.3V189.29h-1.3ZM319.85,36.68h1.3V39.51h-1.3ZM320.85,192.52h1.3V189.29h-1.3ZM321.85,36.68h1.3V39.51h-1.3ZM322.85,192.52h1.3V189.29h-1.3ZM323.85,36.68h1.3V39.51h-1.3ZM324.85,192.52h1.3V189.29h-1.3ZM325.85,36.68h1.3V39.51h-1.3ZM326.85,192.52h1.3V189.29h-1.3ZM327.85,36.68h1.3V39.51h-1.3ZM328.85,192.52h1.3V189.29h-1.3ZM329.85,36.68h1.3V39.51h-1.3ZM330.85,192.52h1.3V189.29h-1.3ZM331.85,36.68h1.3V39.51h-1.3ZM332.85,192.52h1.3V189.29h-1.3ZM333.85,36.68h1.3V39.51h-1.3ZM334.85,192.52h1.3V189.29h-1.3ZM335.85,36.68h1.3V39.51h-1.3ZM336.85,192.52h1.3V189.29h-1.3ZM337.85,36.68h1.3V39.51h-1.3ZM338.85,192.52h1.3V189.29h-1.3ZM339.85,36.68h1.3V39.51h-1.3Z" fill="rgb(245,185,60)"/>
<rect x="239.50" y="39.03" width="101.50" height="150.75" fill="url(#mL)"/>
<path clip-path="url(#cm)" d="M237.51,114.40L237.58,97.73L237.66,81.90L237.73,67.70L237.80,55.85L237.87,46.92L237.87,41.38L237.87,39.51L238.05,39.17L238.50,39.03L238.95,39.17L239.13,39.51L239.13,41.38L239.13,46.92L239.20,55.85L239.27,67.70L239.34,81.90L239.42,97.73L239.49,114.40ZM238.51,114.40L238.58,131.07L238.66,146.90L238.73,161.10L238.80,172.95L238.87,181.88L238.87,187.42L238.87,189.29L239.05,189.63L239.50,189.77L239.95,189.63L240.13,189.29L240.13,187.42L240.13,181.88L240.20,172.95L240.27,161.10L240.34,146.90L240.42,131.07L240.49,114.40ZM239.51,114.40L239.58,97.73L239.66,81.90L239.73,67.70L239.80,55.85L239.87,46.92L239.87,41.38L239.87,39.51L240.05,39.17L240.50,39.03L240.95,39.17L241.13,39.51L241.13,41.38L241.13,46.92L241.20,55.85L241.27,67.70L241.34,81.90L241.42,97.73L241.49,114.40ZM240.51,114.40L240.58,131.07L240.66,146.90L240.73,161.10L240.80,172.95L240.87,181.88L240.87,187.42L240.87,189.29L241.05,189.63L241.50,189.77L241.95,189.63L242.13,189.29L242.13,187.42L242.13,181.88L242.20,172.95L242.27,161.10L242.34,146.90L242.42,131.07L242.49,114.40ZM241.51,114.40L241.58,97.73L241.66,81.90L241.73,67.70L241.80,55.85L241.87,46.92L241.87,41.38L241.87,39.51L242.05,39.17L242.50,39.03L242.95,39.17L243.13,39.51L243.13,41.38L243.13,46.92L243.20,55.85L243.27,67.70L243.34,81.90L243.42,97.73L243.49,114.40ZM242.51,114.40L242.58,131.07L242.66,146.90L242.73,161.10L242.80,172.95L242.87,181.88L242.87,187.42L242.87,189.29L243.05,189.63L243.50,189.77L243.95,189.63L244.13,189.29L244.13,187.42L244.13,181.88L244.20,172.95L244.27,161.10L244.34,146.90L244.42,131.07L244.49,114.40ZM243.51,114.40L243.58,97.73L243.66,81.90L243.73,67.70L243.80,55.85L243.87,46.92L243.87,41.38L243.87,39.51L244.05,39.17L244.50,39.03L244.95,39.17L245.13,39.51L245.13,41.38L245.13,46.92L245.20,55.85L245.27,67.70L245.34,81.90L245.42,97.73L245.49,114.40ZM244.51,114.40L244.58,131.07L244.66,146.90L244.73,161.10L244.80,172.95L244.87,181.88L244.87,187.42L244.87,189.29L245.05,189.63L245.50,189.77L245.95,189.63L246.13,189.29L246.13,187.42L246.13,181.88L246.20,172.95L246.27,161.10L246.34,146.90L246.42,131.07L246.49,114.40ZM245.51,114.40L245.58,97.73L245.66,81.90L245.73,67.70L245.80,55.85L245.87,46.92L245.87,41.38L245.87,39.51L246.05,39.17L246.50,39.03L246.95,39.17L247.13,39.51L247.13,41.38L247.13,46.92L247.20,55.85L247.27,67.70L247.34,81.90L247.42,97.73L247.49,114.40ZM246.51,114.40L246.58,131.07L246.66,146.90L246.73,161.10L246.80,172.95L246.87,181.88L246.87,187.42L246.87,189.29L247.05,189.63L247.50,189.77L247.95,189.63L248.13,189.29L248.13,187.42L248.13,181.88L248.20,172.95L248.27,161.10L248.34,146.90L248.42,131.07L248.49,114.40ZM247.51,114.40L247.58,97.73L247.66,81.90L247.73,67.70L247.80,55.85L247.87,46.92L247.87,41.38L247.87,39.51L248.05,39.17L248.50,39.03L248.95,39.17L249.13,39.51L249.13,41.38L249.13,46.92L249.20,55.85L249.27,67.70L249.34,81.90L249.42,97.73L249.49,114.40ZM248.51,114.40L248.58,131.07L248.66,146.90L248.73,161.10L248.80,172.95L248.87,181.88L248.87,187.42L248.87,189.29L249.05,189.63L249.50,189.77L249.95,189.63L250.13,189.29L250.13,187.42L250.13,181.88L250.20,172.95L250.27,161.10L250.34,146.90L250.42,131.07L250.49,114.40ZM249.51,114.40L249.58,97.73L249.66,81.90L249.73,67.70L249.80,55.85L249.87,46.92L249.87,41.38L249.87,39.51L250.05,39.17L250.50,39.03L250.95,39.17L251.13,39.51L251.13,41.38L251.13,46.92L251.20,55.85L251.27,67.70L251.34,81.90L251.42,97.73L251.49,114.40ZM250.51,114.40L250.58,131.07L250.66,146.90L250.73,161.10L250.80,172.95L250.87,181.88L250.87,187.42L250.87,189.29L251.05,189.63L251.50,189.77L251.95,189.63L252.13,189.29L252.13,187.42L252.13,181.88L252.20,172.95L252.27,161.10L252.34,146.90L252.42,131.07L252.49,114.40ZM251.51,114.40L251.58,97.73L251.66,81.90L251.73,67.70L251.80,55.85L251.87,46.92L251.87,41.38L251.87,39.51L252.05,39.17L252.50,39.03L252.95,39.17L253.13,39.51L253.13,41.38L253.13,46.92L253.20,55.85L253.27,67.70L253.34,81.90L253.42,97.73L253.49,114.40ZM252.51,114.40L252.58,131.07L252.66,146.90L252.73,161.10L252.80,172.95L252.87,181.88L252.87,187.42L252.87,189.29L253.05,189.63L253.50,189.77L253.95,189.63L254.13,189.29L254.13,187.42L254.13,181.88L254.20,172.95L254.27,161.10L254.34,146.90L254.42,131.07L254.49,114.40ZM253.51,114.40L253.58,97.73L253.66,81.90L253.73,67.70L253.80,55.85L253.87,46.92L253.87,41.38L253.87,39.51L254.05,39.17L254.50,39.03L254.95,39.17L255.13,39.51L255.13,41.38L255.13,46.92L255.20,55.85L255.27,67.70L255.34,81.90L255.42,97.73L255.49,114.40ZM254.51,114.40L254.58,131.07L254.66,146.90L254.73,161.10L254.80,172.95L254.87,181.88L254.87,187.42L254.87,189.29L255.05,189.63L255.50,189.77L255.95,189.63L256.13,189.29L256.13,187.42L256.13,181.88L256.20,172.95L256.27,161.10L256.34,146.90L256.42,131.07L256.49,114.40ZM255.51,114.40L255.58,97.73L255.66,81.90L255.73,67.70L255.80,55.85L255.87,46.92L255.87,41.38L255.87,39.51L256.05,39.17L256.50,39.03L256.95,39.17L257.13,39.51L257.13,41.38L257.13,46.92L257.20,55.85L257.27,67.70L257.34,81.90L257.42,97.73L257.49,114.40ZM256.51,114.40L256.58,131.07L256.66,146.90L256.73,161.10L256.80,172.95L256.87,181.88L256.87,187.42L256.87,189.29L257.05,189.63L257.50,189.77L257.95,189.63L258.13,189.29L258.13,187.42L258.13,181.88L258.20,172.95L258.27,161.10L258.34,146.90L258.42,131.07L258.49,114.40ZM257.51,114.40L257.58,97.73L257.66,81.90L257.73,67.70L257.80,55.85L257.87,46.92L257.87,41.38L257.87,39.51L258.05,39.17L258.50,39.03L258.95,39.17L259.13,39.51L259.13,41.38L259.13,46.92L259.20,55.85L259.27,67.70L259.34,81.90L259.42,97.73L259.49,114.40ZM258.51,114.40L258.58,131.07L258.66,146.90L258.73,161.10L258.80,172.95L258.87,181.88L258.87,187.42L258.87,189.29L259.05,189.63L259.50,189.77L259.95,189.63L260.13,189.29L260.13,187.42L260.13,181.88L260.20,172.95L260.27,161.10L260.34,146.90L260.42,131.07L260.49,114.40ZM259.51,114.40L259.58,97.73L259.66,81.90L259.73,67.70L259.80,55.85L259.87,46.92L259.87,41.38L259.87,39.51L260.05,39.17L260.50,39.03L260.95,39.17L261.13,39.51L261.13,41.38L261.13,46.92L261.20,55.85L261.27,67.70L261.34,81.90L261.42,97.73L261.49,114.40ZM260.51,114.40L260.58,131.07L260.66,146.90L260.73,161.10L260.80,172.95L260.87,181.88L260.87,187.42L260.87,189.29L261.05,189.63L261.50,189.77L261.95,189.63L262.13,189.29L262.13,187.42L262.13,181.88L262.20,172.95L262.27,161.10L262.34,146.90L262.42,131.07L262.49,114.40ZM261.51,114.40L261.58,97.73L261.66,81.90L261.73,67.70L261.80,55.85L261.87,46.92L261.87,41.38L261.87,39.51L262.05,39.17L262.50,39.03L262.95,39.17L263.13,39.51L263.13,41.38L263.13,46.92L263.20,55.85L263.27,67.70L263.34,81.90L263.42,97.73L263.49,114.40ZM262.51,114.40L262.58,131.07L262.66,146.90L262.73,161.10L262.80,172.95L262.87,181.88L262.87,187.42L262.87,189.29L263.05,189.63L263.50,189.77L263.95,189.63L264.13,189.29L264.13,187.42L264.13,181.88L264.20,172.95L264.27,161.10L264.34,146.90L264.42,131.07L264.49,114.40ZM263.51,114.40L263.58,97.73L263.66,81.90L263.73,67.70L263.80,55.85L263.87,46.92L263.87,41.38L263.87,39.51L264.05,39.17L264.50,39.03L264.95,39.17L265.13,39.51L265.13,41.38L265.13,46.92L265.20,55.85L265.27,67.70L265.34,81.90L265.42,97.73L265.49,114.40ZM264.51,114.40L264.58,131.07L264.66,146.90L264.73,161.10L264.80,172.95L264.87,181.88L264.87,187.42L264.87,189.29L265.05,189.63L265.50,189.77L265.95,189.63L266.13,189.29L266.13,187.42L266.13,181.88L266.20,172.95L266.27,161.10L266.34,146.90L266.42,131.07L266.49,114.40ZM265.51,114.40L265.58,97.73L265.66,81.90L265.73,67.70L265.80,55.85L265.87,46.92L265.87,41.38L265.87,39.51L266.05,39.17L266.50,39.03L266.95,39.17L267.13,39.51L267.13,41.38L267.13,46.92L267.20,55.85L267.27,67.70L267.34,81.90L267.42,97.73L267.49,114.40ZM266.51,114.40L266.58,131.07L266.66,146.90L266.73,161.10L266.80,172.95L266.87,181.88L266.87,187.42L266.87,189.29L267.05,189.63L267.50,189.77L267.95,189.63L268.13,189.29L268.13,187.42L268.13,181.88L268.20,172.95L268.27,161.10L268.34,146.90L268.42,131.07L268.49,114.40ZM267.51,114.40L267.58,97.73L267.66,81.90L267.73,67.70L267.80,55.85L267.87,46.92L267.87,41.38L267.87,39.51L268.05,39.17L268.50,39.03L268.95,39.17L269.13,39.51L269.13,41.38L269.13,46.92L269.20,55.85L269.27,67.70L269.34,81.90L269.42,97.73L269.49,114.40ZM268.51,114.40L268.58,131.07L268.66,146.90L268.73,161.10L268.80,172.95L268.87,181.88L268.87,187.42L268.87,189.29L269.05,189.63L269.50,189.77L269.95,189.63L270.13,189.29L270.13,187.42L270.13,181.88L270.20,172.95L270.27,161.10L270.34,146.90L270.42,131.07L270.49,114.40ZM269.51,114.40L269.58,97.73L269.66,81.90L269.73,67.70L269.80,55.85L269.87,46.92L269.87,41.38L269.87,39.51L270.05,39.17L270.50,39.03L270.95,39.17L271.13,39.51L271.13,41.38L271.13,46.92L271.20,55.85L271.27,67.70L271.34,81.90L271.42,97.73L271.49,114.40ZM270.51,114.40L270.58,131.07L270.66,146.90L270.73,161.10L270.80,172.95L270.87,181.88L270.87,187.42L270.87,189.29L271.05,189.63L271.50,189.77L271.95,189.63L272.13,189.29L272.13,187.42L272.13,181.88L272.20,172.95L272.27,161.10L272.34,146.90L272.42,131.07L272.49,114.40ZM271.51,114.40L271.58,97.73L271.66,81.90L271.73,67.70L271.80,55.85L271.87,46.92L271.87,41.38L271.87,39.51L272.05,39.17L272.50,39.03L272.95,39.17L273.13,39.51L273.13,41.38L273.13,46.92L273.20,55.85L273.27,67.70L273.34,81.90L273.42,97.73L273.49,114.40ZM272.51,114.40L272.58,131.07L272.66,146.90L272.73,161.10L272.80,172.95L272.87,181.88L272.87,187.42L272.87,189.29L273.05,189.63L273.50,189.77L273.95,189.63L274.13,189.29L274.13,187.42L274.13,181.88L274.20,172.95L274.27,161.10L274.34,146.90L274.42,131.07L274.49,114.40ZM273.51,114.40L273.58,97.73L273.66,81.90L273.73,67.70L273.80,55.85L273.87,46.92L273.87,41.38L273.87,39.51L274.05,39.17L274.50,39.03L274.95,39.17L275.13,39.51L275.13,41.38L275.13,46.92L275.20,55.85L275.27,67.70L275.34,81.90L275.42,97.73L275.49,114.40ZM274.51,114.40L274.58,131.07L274.66,146.90L274.73,161.10L274.80,172.95L274.87,181.88L274.87,187.42L274.87,189.29L275.05,189.63L275.50,189.77L275.95,189.63L276.13,189.29L276.13,187.42L276.13,181.88L276.20,172.95L276.27,161.10L276.34,146.90L276.42,131.07L276.49,114.40ZM275.51,114.40L275.58,97.73L275.66,81.90L275.73,67.70L275.80,55.85L275.87,46.92L275.87,41.38L275.87,39.51L276.05,39.17L276.50,39.03L276.95,39.17L277.13,39.51L277.13,41.38L277.13,46.92L277.20,55.85L277.27,67.70L277.34,81.90L277.42,97.73L277.49,114.40ZM276.51,114.40L276.58,131.07L276.66,146.90L276.73,161.10L276.80,172.95L276.87,181.88L276.87,187.42L276.87,189.29L277.05,189.63L277.50,189.77L277.95,189.63L278.13,189.29L278.13,187.42L278.13,181.88L278.20,172.95L278.27,161.10L278.34,146.90L278.42,131.07L278.49,114.40ZM277.51,114.40L277.58,97.73L277.66,81.90L277.73,67.70L277.80,55.85L277.87,46.92L277.87,41.38L277.87,39.51L278.05,39.17L278.50,39.03L278.95,39.17L279.13,39.51L279.13,41.38L279.13,46.92L279.20,55.85L279.27,67.70L279.34,81.90L279.42,97.73L279.49,114.40ZM278.51,114.40L278.58,131.07L278.66,146.90L278.73,161.10L278.80,172.95L278.87,181.88L278.87,187.42L278.87,189.29L279.05,189.63L279.50,189.77L279.95,189.63L280.13,189.29L280.13,187.42L280.13,181.88L280.20,172.95L280.27,161.10L280.34,146.90L280.42,131.07L280.49,114.40ZM279.51,114.40L279.58,97.73L279.66,81.90L279.73,67.70L279.80,55.85L279.87,46.92L279.87,41.38L279.87,39.51L280.05,39.17L280.50,39.03L280.95,39.17L281.13,39.51L281.13,41.38L281.13,46.92L281.20,55.85L281.27,67.70L281.34,81.90L281.42,97.73L281.49,114.40ZM280.51,114.40L280.58,131.07L280.66,146.90L280.73,161.10L280.80,172.95L280.87,181.88L280.87,187.42L280.87,189.29L281.05,189.63L281.50,189.77L281.95,189.63L282.13,189.29L282.13,187.42L282.13,181.88L282.20,172.95L282.27,161.10L282.34,146.90L282.42,131.07L282.49,114.40ZM281.51,114.40L281.58,97.73L281.66,81.90L281.73,67.70L281.80,55.85L281.87,46.92L281.87,41.38L281.87,39.51L282.05,39.17L282.50,39.03L282.95,39.17L283.13,39.51L283.13,41.38L283.13,46.92L283.20,55.85L283.27,67.70L283.34,81.90L283.42,97.73L283.49,114.40ZM282.51,114.40L282.58,131.07L282.66,146.90L282.73,161.10L282.80,172.95L282.87,181.88L282.87,187.42L282.87,189.29L283.05,189.63L283.50,189.77L283.95,189.63L284.13,189.29L284.13,187.42L284.13,181.88L284.20,172.95L284.27,161.10L284.34,146.90L284.42,131.07L284.49,114.40ZM283.51,114.40L283.58,97.73L283.66,81.90L283.73,67.70L283.80,55.85L283.87,46.92L283.87,41.38L283.87,39.51L284.05,39.17L284.50,39.03L284.95,39.17L285.13,39.51L285.13,41.38L285.13,46.92L285.20,55.85L285.27,67.70L285.34,81.90L285.42,97.73L285.49,114.40ZM284.51,114.40L284.58,131.07L284.66,146.90L284.73,161.10L284.80,172.95L284.87,181.88L284.87,187.42L284.87,189.29L285.05,189.63L285.50,189.77L285.95,189.63L286.13,189.29L286.13,187.42L286.13,181.88L286.20,172.95L286.27,161.10L286.34,146.90L286.42,131.07L286.49,114.40ZM285.51,114.40L285.58,97.73L285.66,81.90L285.73,67.70L285.80,55.85L285.87,46.92L285.87,41.38L285.87,39.51L286.05,39.17L286.50,39.03L286.95,39.17L287.13,39.51L287.13,41.38L287.13,46.92L287.20,55.85L287.27,67.70L287.34,81.90L287.42,97.73L287.49,114.40ZM286.51,114.40L286.58,131.07L286.66,146.90L286.73,161.10L286.80,172.95L286.87,181.88L286.87,187.42L286.87,189.29L287.05,189.63L287.50,189.77L287.95,189.63L288.13,189.29L288.13,187.42L288.13,181.88L288.20,172.95L288.27,161.10L288.34,146.90L288.42,131.07L288.49,114.40ZM287.51,114.40L287.58,97.73L287.66,81.90L287.73,67.70L287.80,55.85L287.87,46.92L287.87,41.38L287.87,39.51L288.05,39.17L288.50,39.03L288.95,39.17L289.13,39.51L289.13,41.38L289.13,46.92L289.20,55.85L289.27,67.70L289.34,81.90L289.42,97.73L289.49,114.40ZM288.51,114.40L288.58,131.07L288.66,146.90L288.73,161.10L288.80,172.95L288.87,181.88L288.87,187.42L288.87,189.29L289.05,189.63L289.50,189.77L289.95,189.63L290.13,189.29L290.13,187.42L290.13,181.88L290.20,172.95L290.27,161.10L290.34,146.90L290.42,131.07L290.49,114.40ZM289.51,114.40L289.58,97.73L289.66,81.90L289.73,67.70L289.80,55.85L289.87,46.92L289.87,41.38L289.87,39.51L290.05,39.17L290.50,39.03L290.95,39.17L291.13,39.51L291.13,41.38L291.13,46.92L291.20,55.85L291.27,67.70L291.34,81.90L291.42,97.73L291.49,114.40ZM290.51,114.40L290.58,131.07L290.66,146.90L290.73,161.10L290.80,172.95L290.87,181.88L290.87,187.42L290.87,189.29L291.05,189.63L291.50,189.77L291.95,189.63L292.13,189.29L292.13,187.42L292.13,181.88L292.20,172.95L292.27,161.10L292.34,146.90L292.42,131.07L292.49,114.40ZM291.51,114.40L291.58,97.73L291.66,81.90L291.73,67.70L291.80,55.85L291.87,46.92L291.87,41.38L291.87,39.51L292.05,39.17L292.50,39.03L292.95,39.17L293.13,39.51L293.13,41.38L293.13,46.92L293.20,55.85L293.27,67.70L293.34,81.90L293.42,97.73L293.49,114.40ZM292.51,114.40L292.58,131.07L292.66,146.90L292.73,161.10L292.80,172.95L292.87,181.88L292.87,187.42L292.87,189.29L293.05,189.63L293.50,189.77L293.95,189.63L294.13,189.29L294.13,187.42L294.13,181.88L294.20,172.95L294.27,161.10L294.34,146.90L294.42,131.07L294.49,114.40ZM293.51,114.40L293.58,97.73L293.66,81.90L293.73,67.70L293.80,55.85L293.87,46.92L293.87,41.38L293.87,39.51L294.05,39.17L294.50,39.03L294.95,39.17L295.13,39.51L295.13,41.38L295.13,46.92L295.20,55.85L295.27,67.70L295.34,81.90L295.42,97.73L295.49,114.40ZM294.51,114.40L294.58,131.07L294.66,146.90L294.73,161.10L294.80,172.95L294.87,181.88L294.87,187.42L294.87,189.29L295.05,189.63L295.50,189.77L295.95,189.63L296.13,189.29L296.13,187.42L296.13,181.88L296.20,172.95L296.27,161.10L296.34,146.90L296.42,131.07L296.49,114.40ZM295.51,114.40L295.58,97.73L295.66,81.90L295.73,67.70L295.80,55.85L295.87,46.92L295.87,41.38L295.87,39.51L296.05,39.17L296.50,39.03L296.95,39.17L297.13,39.51L297.13,41.38L297.13,46.92L297.20,55.85L297.27,67.70L297.34,81.90L297.42,97.73L297.49,114.40ZM296.51,114.40L296.58,131.07L296.66,146.90L296.73,161.10L296.80,172.95L296.87,181.88L296.87,187.42L296.87,189.29L297.05,189.63L297.50,189.77L297.95,189.63L298.13,189.29L298.13,187.42L298.13,181.88L298.20,172.95L298.27,161.10L298.34,146.90L298.42,131.07L298.49,114.40ZM297.51,114.40L297.58,97.73L297.66,81.90L297.73,67.70L297.80,55.85L297.87,46.92L297.87,41.38L297.87,39.51L298.05,39.17L298.50,39.03L298.95,39.17L299.13,39.51L299.13,41.38L299.13,46.92L299.20,55.85L299.27,67.70L299.34,81.90L299.42,97.73L299.49,114.40ZM298.51,114.40L298.58,131.07L298.66,146.90L298.73,161.10L298.80,172.95L298.87,181.88L298.87,187.42L298.87,189.29L299.05,189.63L299.50,189.77L299.95,189.63L300.13,189.29L300.13,187.42L300.13,181.88L300.20,172.95L300.27,161.10L300.34,146.90L300.42,131.07L300.49,114.40ZM299.51,114.40L299.58,97.73L299.66,81.90L299.73,67.70L299.80,55.85L299.87,46.92L299.87,41.38L299.87,39.51L300.05,39.17L300.50,39.03L300.95,39.17L301.13,39.51L301.13,41.38L301.13,46.92L301.20,55.85L301.27,67.70L301.34,81.90L301.42,97.73L301.49,114.40ZM300.51,114.40L300.58,131.07L300.66,146.90L300.73,161.10L300.80,172.95L300.87,181.88L300.87,187.42L300.87,189.29L301.05,189.63L301.50,189.77L301.95,189.63L302.13,189.29L302.13,187.42L302.13,181.88L302.20,172.95L302.27,161.10L302.34,146.90L302.42,131.07L302.49,114.40ZM301.51,114.40L301.58,97.73L301.66,81.90L301.73,67.70L301.80,55.85L301.87,46.92L301.87,41.38L301.87,39.51L302.05,39.17L302.50,39.03L302.95,39.17L303.13,39.51L303.13,41.38L303.13,46.92L303.20,55.85L303.27,67.70L303.34,81.90L303.42,97.73L303.49,114.40ZM302.51,114.40L302.58,131.07L302.66,146.90L302.73,161.10L302.80,172.95L302.87,181.88L302.87,187.42L302.87,189.29L303.05,189.63L303.50,189.77L303.95,189.63L304.13,189.29L304.13,187.42L304.13,181.88L304.20,172.95L304.27,161.10L304.34,146.90L304.42,131.07L304.49,114.40ZM303.51,114.40L303.58,97.73L303.66,81.90L303.73,67.70L303.80,55.85L303.87,46.92L303.87,41.38L303.87,39.51L304.05,39.17L304.50,39.03L304.95,39.17L305.13,39.51L305.13,41.38L305.13,46.92L305.20,55.85L305.27,67.70L305.34,81.90L305.42,97.73L305.49,114.40ZM304.51,114.40L304.58,131.07L304.66,146.90L304.73,161.10L304.80,172.95L304.87,181.88L304.87,187.42L304.87,189.29L305.05,189.63L305.50,189.77L305.95,189.63L306.13,189.29L306.13,187.42L306.13,181.88L306.20,172.95L306.27,161.10L306.34,146.90L306.42,131.07L306.49,114.40ZM305.51,114.40L305.58,97.73L305.66,81.90L305.73,67.70L305.80,55.85L305.87,46.92L305.87,41.38L305.87,39.51L306.05,39.17L306.50,39.03L306.95,39.17L307.13,39.51L307.13,41.38L307.13,46.92L307.20,55.85L307.27,67.70L307.34,81.90L307.42,97.73L307.49,114.40ZM306.51,114.40L306.58,131.07L306.66,146.90L306.73,161.10L306.80,172.95L306.87,181.88L306.87,187.42L306.87,189.29L307.05,189.63L307.50,189.77L307.95,189.63L308.13,189.29L308.13,187.42L308.13,181.88L308.20,172.95L308.27,161.10L308.34,146.90L308.42,131.07L308.49,114.40ZM307.51,114.40L307.58,97.73L307.66,81.90L307.73,67.70L307.80,55.85L307.87,46.92L307.87,41.38L307.87,39.51L308.05,39.17L308.50,39.03L308.95,39.17L309.13,39.51L309.13,41.38L309.13,46.92L309.20,55.85L309.27,67.70L309.34,81.90L309.42,97.73L309.49,114.40ZM308.51,114.40L308.58,131.07L308.66,146.90L308.73,161.10L308.80,172.95L308.87,181.88L308.87,187.42L308.87,189.29L309.05,189.63L309.50,189.77L309.95,189.63L310.13,189.29L310.13,187.42L310.13,181.88L310.20,172.95L310.27,161.10L310.34,146.90L310.42,131.07L310.49,114.40ZM309.51,114.40L309.58,97.73L309.66,81.90L309.73,67.70L309.80,55.85L309.87,46.92L309.87,41.38L309.87,39.51L310.05,39.17L310.50,39.03L310.95,39.17L311.13,39.51L311.13,41.38L311.13,46.92L311.20,55.85L311.27,67.70L311.34,81.90L311.42,97.73L311.49,114.40ZM310.51,114.40L310.58,131.07L310.66,146.90L310.73,161.10L310.80,172.95L310.87,181.88L310.87,187.42L310.87,189.29L311.05,189.63L311.50,189.77L311.95,189.63L312.13,189.29L312.13,187.42L312.13,181.88L312.20,172.95L312.27,161.10L312.34,146.90L312.42,131.07L312.49,114.40ZM311.51,114.40L311.58,97.73L311.66,81.90L311.73,67.70L311.80,55.85L311.87,46.92L311.87,41.38L311.87,39.51L312.05,39.17L312.50,39.03L312.95,39.17L313.13,39.51L313.13,41.38L313.13,46.92L313.20,55.85L313.27,67.70L313.34,81.90L313.42,97.73L313.49,114.40ZM312.51,114.40L312.58,131.07L312.66,146.90L312.73,161.10L312.80,172.95L312.87,181.88L312.87,187.42L312.87,189.29L313.05,189.63L313.50,189.77L313.95,189.63L314.13,189.29L314.13,187.42L314.13,181.88L314.20,172.95L314.27,161.10L314.34,146.90L314.42,131.07L314.49,114.40ZM313.51,114.40L313.58,97.73L313.66,81.90L313.73,67.70L313.80,55.85L313.87,46.92L313.87,41.38L313.87,39.51L314.05,39.17L314.50,39.03L314.95,39.17L315.13,39.51L315.13,41.38L315.13,46.92L315.20,55.85L315.27,67.70L315.34,81.90L315.42,97.73L315.49,114.40ZM314.51,114.40L314.58,131.07L314.66,146.90L314.73,161.10L314.80,172.95L314.87,181.88L314.87,187.42L314.87,189.29L315.05,189.63L315.50,189.77L315.95,189.63L316.13,189.29L316.13,187.42L316.13,181.88L316.20,172.95L316.27,161.10L316.34,146.90L316.42,131.07L316.49,114.40ZM315.51,114.40L315.58,97.73L315.66,81.90L315.73,67.70L315.80,55.85L315.87,46.92L315.87,41.38L315.87,39.51L316.05,39.17L316.50,39.03L316.95,39.17L317.13,39.51L317.13,41.38L317.13,46.92L317.20,55.85L317.27,67.70L317.34,81.90L317.42,97.73L317.49,114.40ZM316.51,114.40L316.58,131.07L316.66,146.90L316.73,161.10L316.80,172.95L316.87,181.88L316.87,187.42L316.87,189.29L317.05,189.63L317.50,189.77L317.95,189.63L318.13,189.29L318.13,187.42L318.13,181.88L318.20,172.95L318.27,161.10L318.34,146.90L318.42,131.07L318.49,114.40ZM317.51,114.40L317.58,97.73L317.66,81.90L317.73,67.70L317.80,55.85L317.87,46.92L317.87,41.38L317.87,39.51L318.05,39.17L318.50,39.03L318.95,39.17L319.13,39.51L319.13,41.38L319.13,46.92L319.20,55.85L319.27,67.70L319.34,81.90L319.42,97.73L319.49,114.40ZM318.51,114.40L318.58,131.07L318.66,146.90L318.73,161.10L318.80,172.95L318.87,181.88L318.87,187.42L318.87,189.29L319.05,189.63L319.50,189.77L319.95,189.63L320.13,189.29L320.13,187.42L320.13,181.88L320.20,172.95L320.27,161.10L320.34,146.90L320.42,131.07L320.49,114.40ZM319.51,114.40L319.58,97.73L319.66,81.90L319.73,67.70L319.80,55.85L319.87,46.92L319.87,41.38L319.87,39.51L320.05,39.17L320.50,39.03L320.95,39.17L321.13,39.51L321.13,41.38L321.13,46.92L321.20,55.85L321.27,67.70L321.34,81.90L321.42,97.73L321.49,114.40ZM320.51,114.40L320.58,131.07L320.66,146.90L320.73,161.10L320.80,172.95L320.87,181.88L320.87,187.42L320.87,189.29L321.05,189.63L321.50,189.77L321.95,189.63L322.13,189.29L322.13,187.42L322.13,181.88L322.20,172.95L322.27,161.10L322.34,146.90L322.42,131.07L322.49,114.40ZM321.51,114.40L321.58,97.73L321.66,81.90L321.73,67.70L321.80,55.85L321.87,46.92L321.87,41.38L321.87,39.51L322.05,39.17L322.50,39.03L322.95,39.17L323.13,39.51L323.13,41.38L323.13,46.92L323.20,55.85L323.27,67.70L323.34,81.90L323.42,97.73L323.49,114.40ZM322.51,114.40L322.58,131.07L322.66,146.90L322.73,161.10L322.80,172.95L322.87,181.88L322.87,187.42L322.87,189.29L323.05,189.63L323.50,189.77L323.95,189.63L324.13,189.29L324.13,187.42L324.13,181.88L324.20,172.95L324.27,161.10L324.34,146.90L324.42,131.07L324.49,114.40ZM323.51,114.40L323.58,97.73L323.66,81.90L323.73,67.70L323.80,55.85L323.87,46.92L323.87,41.38L323.87,39.51L324.05,39.17L324.50,39.03L324.95,39.17L325.13,39.51L325.13,41.38L325.13,46.92L325.20,55.85L325.27,67.70L325.34,81.90L325.42,97.73L325.49,114.40ZM324.51,114.40L324.58,131.07L324.66,146.90L324.73,161.10L324.80,172.95L324.87,181.88L324.87,187.42L324.87,189.29L325.05,189.63L325.50,189.77L325.95,189.63L326.13,189.29L326.13,187.42L326.13,181.88L326.20,172.95L326.27,161.10L326.34,146.90L326.42,131.07L326.49,114.40ZM325.51,114.40L325.58,97.73L325.66,81.90L325.73,67.70L325.80,55.85L325.87,46.92L325.87,41.38L325.87,39.51L326.05,39.17L326.50,39.03L326.95,39.17L327.13,39.51L327.13,41.38L327.13,46.92L327.20,55.85L327.27,67.70L327.34,81.90L327.42,97.73L327.49,114.40ZM326.51,114.40L326.58,131.07L326.66,146.90L326.73,161.10L326.80,172.95L326.87,181.88L326.87,187.42L326.87,189.29L327.05,189.63L327.50,189.77L327.95,189.63L328.13,189.29L328.13,187.42L328.13,181.88L328.20,172.95L328.27,161.10L328.34,146.90L328.42,131.07L328.49,114.40ZM327.51,114.40L327.58,97.73L327.66,81.90L327.73,67.70L327.80,55.85L327.87,46.92L327.87,41.38L327.87,39.51L328.05,39.17L328.50,39.03L328.95,39.17L329.13,39.51L329.13,41.38L329.13,46.92L329.20,55.85L329.27,67.70L329.34,81.90L329.42,97.73L329.49,114.40ZM328.51,114.40L328.58,131.07L328.66,146.90L328.73,161.10L328.80,172.95L328.87,181.88L328.87,187.42L328.87,189.29L329.05,189.63L329.50,189.77L329.95,189.63L330.13,189.29L330.13,187.42L330.13,181.88L330.20,172.95L330.27,161.10L330.34,146.90L330.42,131.07L330.49,114.40ZM329.51,114.40L329.58,97.73L329.66,81.90L329.73,67.70L329.80,55.85L329.87,46.92L329.87,41.38L329.87,39.51L330.05,39.17L330.50,39.03L330.95,39.17L331.13,39.51L331.13,41.38L331.13,46.92L331.20,55.85L331.27,67.70L331.34,81.90L331.42,97.73L331.49,114.40ZM330.51,114.40L330.58,131.07L330.66,146.90L330.73,161.10L330.80,172.95L330.87,181.88L330.87,187.42L330.87,189.29L331.05,189.63L331.50,189.77L331.95,189.63L332.13,189.29L332.13,187.42L332.13,181.88L332.20,172.95L332.27,161.10L332.34,146.90L332.42,131.07L332.49,114.40ZM331.51,114.40L331.58,97.73L331.66,81.90L331.73,67.70L331.80,55.85L331.87,46.92L331.87,41.38L331.87,39.51L332.05,39.17L332.50,39.03L332.95,39.17L333.13,39.51L333.13,41.38L333.13,46.92L333.20,55.85L333.27,67.70L333.34,81.90L333.42,97.73L333.49,114.40ZM332.51,114.40L332.58,131.07L332.66,146.90L332.73,161.10L332.80,172.95L332.87,181.88L332.87,187.42L332.87,189.29L333.05,189.63L333.50,189.77L333.95,189.63L334.13,189.29L334.13,187.42L334.13,181.88L334.20,172.95L334.27,161.10L334.34,146.90L334.42,131.07L334.49,114.40ZM333.51,114.40L333.58,97.73L333.66,81.90L333.73,67.70L333.80,55.85L333.87,46.92L333.87,41.38L333.87,39.51L334.05,39.17L334.50,39.03L334.95,39.17L335.13,39.51L335.13,41.38L335.13,46.92L335.20,55.85L335.27,67.70L335.34,81.90L335.42,97.73L335.49,114.40ZM334.51,114.40L334.58,131.07L334.66,146.90L334.73,161.10L334.80,172.95L334.87,181.88L334.87,187.42L334.87,189.29L335.05,189.63L335.50,189.77L335.95,189.63L336.13,189.29L336.13,187.42L336.13,181.88L336.20,172.95L336.27,161.10L336.34,146.90L336.42,131.07L336.49,114.40ZM335.51,114.40L335.58,97.73L335.66,81.90L335.73,67.70L335.80,55.85L335.87,46.92L335.87,41.38L335.87,39.51L336.05,39.17L336.50,39.03L336.95,39.17L337.13,39.51L337.13,41.38L337.13,46.92L337.20,55.85L337.27,67.70L337.34,81.90L337.42,97.73L337.49,114.40ZM336.51,114.40L336.58,131.07L336.66,146.90L336.73,161.10L336.80,172.95L336.87,181.88L336.87,187.42L336.87,189.29L337.05,189.63L337.50,189.77L337.95,189.63L338.13,189.29L338.13,187.42L338.13,181.88L338.20,172.95L338.27,161.10L338.34,146.90L338.42,131.07L338.49,114.40ZM337.51,114.40L337.58,97.73L337.66,81.90L337.73,67.70L337.80,55.85L337.87,46.92L337.87,41.38L337.87,39.51L338.05,39.17L338.50,39.03L338.95,39.17L339.13,39.51L339.13,41.38L339.13,46.92L339.20,55.85L339.27,67.70L339.34,81.90L339.42,97.73L339.49,114.40ZM338.51,114.40L338.58,131.07L338.66,146.90L338.73,161.10L338.80,172.95L338.87,181.88L338.87,187.42L338.87,189.29L339.05,189.63L339.50,189.77L339.95,189.63L340.13,189.29L340.13,187.42L340.13,181.88L340.20,172.95L340.27,161.10L340.34,146.90L340.42,131.07L340.49,114.40ZM339.51,114.40L339.58,97.73L339.66,81.90L339.73,67.70L339.80,55.85L339.87,46.92L339.87,41.38L339.87,39.51L340.05,39.17L340.50,39.03L340.95,39.17L341.13,39.51L341.13,41.38L341.13,46.92L341.20,55.85L341.27,67.70L341.34,81.90L341.42,97.73L341.49,114.40ZM340.51,114.40L340.58,131.07L340.66,146.90L340.73,161.10L340.80,172.95L340.87,181.88L340.87,187.42L340.87,189.29L341.05,189.63L341.50,189.77L341.95,189.63L342.13,189.29L342.13,187.42L342.13,181.88L342.20,172.95L342.27,161.10L342.34,146.90L342.42,131.07L342.49,114.40Z" fill="url(#mD)"/>
<rect x="240.08" y="30" width="1.6" height="2.5" fill="rgb(250,70,75)"/><rect x="240.08" y="32.5" width="1.6" height="2.3" fill="rgb(90,240,95)"/><rect x="240.08" y="34.8" width="1.6" height="3.6" fill="rgb(245,195,80)"/>
</g>
<line x1="239.53" y1="9.0" x2="239.53" y2="220.0" stroke="#0474c2" stroke-width="1.5"/>
<rect x="390.7" y="204.5" width="152.59999999999997" height="15.0" fill="#fff" stroke="#c4c4c4" stroke-width="1"/>
<line x1="392" y1="212.4" x2="405.6" y2="212.4" stroke="#ff0000" stroke-width="1.2"/>
<text transform="translate(407.80,216.20) scale(1.055,1)" text-anchor="start" font-family="Liberation Sans, Arial, sans-serif" font-weight="bold" font-size="9.9" fill="#111" stroke="#111" stroke-width="0.25" text-rendering="geometricPrecision">PDO</text>
<line x1="433.7" y1="212.4" x2="447.5" y2="212.4" stroke="#00ff00" stroke-width="1.2"/>
<text transform="translate(450.00,216.20) scale(1.055,1)" text-anchor="start" font-family="Liberation Sans, Arial, sans-serif" font-weight="bold" font-size="9.9" fill="#111" stroke="#111" stroke-width="0.25" text-rendering="geometricPrecision">TEO</text>
<line x1="474.5" y1="212.4" x2="488.6" y2="212.4" stroke="#edb120" stroke-width="1.2"/>
<text transform="translate(490.20,216.20) scale(1.055,1)" text-anchor="start" font-family="Liberation Sans, Arial, sans-serif" font-weight="bold" font-size="9.9" fill="#111" stroke="#111" stroke-width="0.25" text-rendering="geometricPrecision">BCO</text>
<line x1="517" y1="212.4" x2="531.5" y2="212.4" stroke="#0072bd" stroke-width="1.2"/>
<text transform="translate(532.70,216.20) scale(1.055,1)" text-anchor="start" font-family="Liberation Sans, Arial, sans-serif" font-weight="bold" font-size="9.9" fill="#111" stroke="#111" stroke-width="0.25" text-rendering="geometricPrecision">PI</text>
<text transform="translate(36.20,233.80) scale(0.98,1)" text-anchor="middle" font-family="Liberation Sans, Arial, sans-serif" font-weight="bold" font-size="10.5" fill="#111" stroke="#111" stroke-width="0.25" text-rendering="geometricPrecision">0</text>
<text transform="translate(87.02,233.80) scale(0.98,1)" text-anchor="middle" font-family="Liberation Sans, Arial, sans-serif" font-weight="bold" font-size="10.5" fill="#111" stroke="#111" stroke-width="0.25" text-rendering="geometricPrecision">0.5</text>
<text transform="translate(137.84,233.80) scale(0.98,1)" text-anchor="middle" font-family="Liberation Sans, Arial, sans-serif" font-weight="bold" font-size="10.5" fill="#111" stroke="#111" stroke-width="0.25" text-rendering="geometricPrecision">1</text>
<text transform="translate(188.66,233.80) scale(0.98,1)" text-anchor="middle" font-family="Liberation Sans, Arial, sans-serif" font-weight="bold" font-size="10.5" fill="#111" stroke="#111" stroke-width="0.25" text-rendering="geometricPrecision">1.5</text>
<text transform="translate(239.48,233.80) scale(0.98,1)" text-anchor="middle" font-family="Liberation Sans, Arial, sans-serif" font-weight="bold" font-size="10.5" fill="#111" stroke="#111" stroke-width="0.25" text-rendering="geometricPrecision">2</text>
<text transform="translate(290.30,233.80) scale(0.98,1)" text-anchor="middle" font-family="Liberation Sans, Arial, sans-serif" font-weight="bold" font-size="10.5" fill="#111" stroke="#111" stroke-width="0.25" text-rendering="geometricPrecision">2.5</text>
<text transform="translate(341.12,233.80) scale(0.98,1)" text-anchor="middle" font-family="Liberation Sans, Arial, sans-serif" font-weight="bold" font-size="10.5" fill="#111" stroke="#111" stroke-width="0.25" text-rendering="geometricPrecision">3</text>
<text transform="translate(391.94,233.80) scale(0.98,1)" text-anchor="middle" font-family="Liberation Sans, Arial, sans-serif" font-weight="bold" font-size="10.5" fill="#111" stroke="#111" stroke-width="0.25" text-rendering="geometricPrecision">3.5</text>
<text transform="translate(442.76,233.80) scale(0.98,1)" text-anchor="middle" font-family="Liberation Sans, Arial, sans-serif" font-weight="bold" font-size="10.5" fill="#111" stroke="#111" stroke-width="0.25" text-rendering="geometricPrecision">4</text>
<text transform="translate(493.58,233.80) scale(0.98,1)" text-anchor="middle" font-family="Liberation Sans, Arial, sans-serif" font-weight="bold" font-size="10.5" fill="#111" stroke="#111" stroke-width="0.25" text-rendering="geometricPrecision">4.5</text>
<text transform="translate(544.40,233.80) scale(0.98,1)" text-anchor="middle" font-family="Liberation Sans, Arial, sans-serif" font-weight="bold" font-size="10.5" fill="#111" stroke="#111" stroke-width="0.25" text-rendering="geometricPrecision">5</text>
<text transform="translate(33.50,206.35) scale(0.98,1)" text-anchor="end" font-family="Liberation Sans, Arial, sans-serif" font-weight="bold" font-size="10.5" fill="#111" stroke="#111" stroke-width="0.25" text-rendering="geometricPrecision">-1</text>
<text transform="translate(33.50,162.42) scale(0.98,1)" text-anchor="end" font-family="Liberation Sans, Arial, sans-serif" font-weight="bold" font-size="10.5" fill="#111" stroke="#111" stroke-width="0.25" text-rendering="geometricPrecision">-0.5</text>
<text transform="translate(33.50,118.50) scale(0.98,1)" text-anchor="end" font-family="Liberation Sans, Arial, sans-serif" font-weight="bold" font-size="10.5" fill="#111" stroke="#111" stroke-width="0.25" text-rendering="geometricPrecision">0</text>
<text transform="translate(33.50,74.58) scale(0.98,1)" text-anchor="end" font-family="Liberation Sans, Arial, sans-serif" font-weight="bold" font-size="10.5" fill="#111" stroke="#111" stroke-width="0.25" text-rendering="geometricPrecision">0.5</text>
<text transform="translate(33.50,30.65) scale(0.98,1)" text-anchor="end" font-family="Liberation Sans, Arial, sans-serif" font-weight="bold" font-size="10.5" fill="#111" stroke="#111" stroke-width="0.25" text-rendering="geometricPrecision">1</text>
<text transform="translate(292.00,247.90) scale(1.02,1)" text-anchor="middle" font-family="Liberation Sans, Arial, sans-serif" font-weight="bold" font-size="10.5" fill="#111" stroke="#111" stroke-width="0.25" text-rendering="geometricPrecision">Time in Sec</text>
<text transform="translate(10.60,114.10) rotate(-90) scale(1.003,1)" text-anchor="middle" font-family="Liberation Sans, Arial, sans-serif" font-weight="bold" font-size="10.5" fill="#111" stroke="#111" stroke-width="0.25" text-rendering="geometricPrecision">Grid Current in p.u.</text>
<text transform="translate(275.50,261.30) scale(1.06,1)" text-anchor="middle" font-family="Liberation Serif, Times New Roman, serif" font-size="12" fill="#111" stroke="#111" stroke-width="0.15" text-rendering="geometricPrecision">(<tspan font-weight="bold">k</tspan>)</text>
</svg>
</body></html>
